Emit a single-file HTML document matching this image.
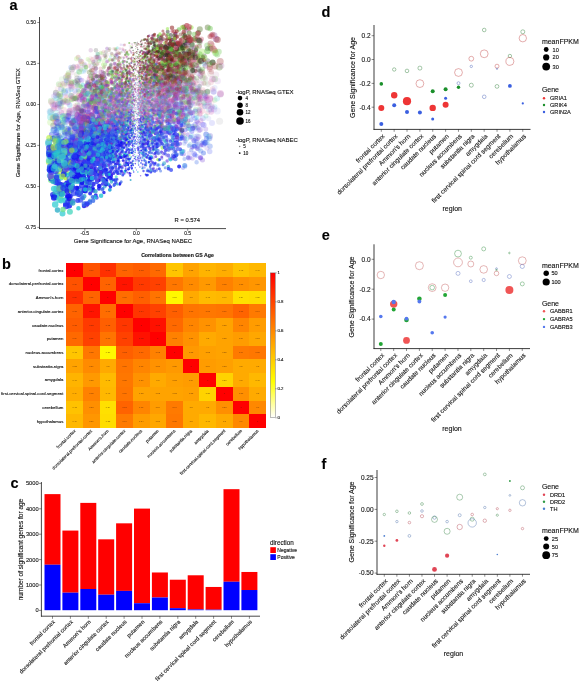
<!DOCTYPE html>
<html lang="en">
<head>
<meta charset="utf-8">
<title>Gene significance for age</title>
<style>
html,body{margin:0;padding:0;background:#fff;}
body{width:580px;height:685px;overflow:hidden;}
svg{display:block;font-family:"Liberation Sans", sans-serif;}
text{stroke:#1a1a1a;stroke-width:.13px;}
.ct text{stroke:none;}
.k0{stroke:#1212ee}.k1{stroke:#2030f0}.k2{stroke:#20c4d4}.k3{stroke:#2a3cf2}.k4{stroke:#2c4c1c}.k5{stroke:#303030}.k6{stroke:#30a8c8}.k7{stroke:#30b0c8}.k8{stroke:#3a6ae8}.k9{stroke:#4060e4}.k10{stroke:#40d0a0}.k11{stroke:#40d0d4}.k12{stroke:#507028}.k13{stroke:#50cce0}.k14{stroke:#50d8c0}.k15{stroke:#585868}.k16{stroke:#5a1c1c}.k17{stroke:#5cc040}.k18{stroke:#60c850}.k19{stroke:#6a3ce0}.k20{stroke:#70e090}.k21{stroke:#7c3c2c}.k22{stroke:#8a38c0}.k23{stroke:#904094}.k24{stroke:#90e440}.k25{stroke:#98ee40}.k26{stroke:#9a3030}.k27{stroke:#9a78e0}.k28{stroke:#b4f030}.k29{stroke:#b838a8}.k30{stroke:#b83c54}.k31{stroke:#e07898}.k32{stroke:#e08494}
</style>
</head>
<body>
<svg width="580" height="685" viewBox="0 0 580 685">
<rect width="580" height="685" fill="#ffffff"/>
<text x="9.60" y="9.80" font-size="14.5" font-weight="bold">a</text>
<text x="2.00" y="268.60" font-size="14.5" font-weight="bold">b</text>
<text x="10.60" y="487.60" font-size="14.5" font-weight="bold">c</text>
<text x="321.60" y="17.40" font-size="14.5" font-weight="bold">d</text>
<text x="321.80" y="240.00" font-size="14.5" font-weight="bold">e</text>
<text x="321.50" y="468.60" font-size="14.5" font-weight="bold">f</text>
<defs><filter id="sb" x="-5%" y="-5%" width="110%" height="110%"><feGaussianBlur stdDeviation="0.35"/></filter></defs>
<g fill="none" stroke-linecap="round" filter="url(#sb)">
<path class="k18" opacity=".4" stroke-width="1.5" d="M134.0 99.5h0M134.4 123.2h0M134.8 100.4h0M134.5 104.4h0M139.0 111.2h0M137.1 121.3h0M139.7 115.9h0M133.7 97.0h0M133.3 124.0h0M133.6 94.4h0M132.8 97.7h0M135.6 118.9h0M133.9 110.3h0"/>
<path class="k17" opacity=".3" stroke-width="1.5" d="M138.2 51.7h0M140.0 90.8h0M139.0 82.3h0"/>
<path class="k8" opacity=".6" stroke-width="4.5" d="M175.4 158.9h0M98.1 147.6h0M83.7 161.8h0M96.7 175.7h0M87.3 138.9h0M87.8 145.0h0M172.6 146.0h0M94.7 148.8h0M83.7 170.4h0M87.3 145.2h0M98.1 157.0h0M94.0 154.7h0M91.5 146.2h0M86.5 157.9h0"/>
<path class="k26" opacity=".5" stroke-width="3.5" d="M164.2 52.2h0M164.5 51.0h0M172.9 60.3h0M163.8 53.3h0M166.0 64.0h0M111.5 79.2h0M158.9 41.2h0M171.4 49.4h0M164.2 65.5h0"/>
<path class="k17" opacity=".3" stroke-width="1" d="M136.4 79.8h0"/>
<path class="k3" opacity=".8" stroke-width="3" d="M117.0 179.3h0M113.7 173.5h0M108.9 173.0h0M122.8 175.1h0"/>
<path class="k14" opacity=".4" stroke-width="2.5" d="M149.6 128.9h0"/>
<path class="k23" opacity=".2" stroke-width="5" d="M194.4 78.8h0M200.8 76.5h0"/>
<path class="k0" opacity=".6" stroke-width="3.5" d="M108.8 164.5h0M100.3 153.9h0M162.1 144.1h0M110.6 162.6h0M104.5 154.6h0M102.8 171.3h0M109.6 156.8h0M108.5 155.6h0M105.9 144.4h0M101.5 160.0h0M113.2 148.2h0M103.8 163.2h0M108.0 149.0h0M112.3 146.9h0M108.6 149.0h0M165.5 150.4h0M109.1 147.8h0M110.9 147.3h0M110.6 136.9h0M109.3 148.8h0M100.8 149.6h0M115.1 144.9h0M108.2 140.1h0M100.4 144.1h0M111.7 154.9h0M102.5 147.4h0M110.4 138.6h0M113.0 158.0h0M100.0 148.5h0M106.5 165.0h0M106.7 181.1h0M115.8 159.1h0M96.3 150.7h0M110.3 144.4h0M157.4 144.1h0M114.7 138.3h0M103.2 156.8h0"/>
<path class="k5" opacity=".4" stroke-width="2.5" d="M146.3 77.9h0M153.4 54.8h0M160.4 46.8h0M149.3 62.0h0M157.5 62.7h0M154.8 47.4h0M145.8 72.3h0M147.4 74.9h0M153.4 65.5h0M147.9 71.8h0M150.2 69.8h0M145.8 74.7h0M148.1 68.3h0M148.8 82.0h0"/>
<path class="k0" opacity=".3" stroke-width="1.5" d="M137.8 109.2h0"/>
<path class="k7" opacity=".7" stroke-width="7.5" d="M49.9 155.6h0"/>
<path class="k29" opacity=".4" stroke-width="4" d="M95.1 121.1h0M172.3 115.5h0M94.9 101.4h0M108.1 118.1h0M99.8 116.4h0M180.8 75.9h0M173.4 112.5h0M89.8 114.4h0M93.3 101.4h0M90.1 122.1h0M100.3 93.2h0M104.6 112.3h0M102.2 111.1h0M94.5 127.1h0M101.4 114.3h0M98.0 96.6h0M96.9 123.6h0M99.2 99.8h0M101.8 124.7h0M171.3 131.3h0M107.3 101.7h0M101.8 94.2h0M173.5 76.7h0M90.5 120.9h0M104.0 113.2h0M100.4 127.1h0M93.5 99.5h0M182.7 75.4h0M102.9 91.3h0M168.3 121.0h0M173.7 80.0h0M94.8 110.7h0M95.8 124.7h0M99.3 76.7h0M166.9 110.4h0M96.9 100.2h0M109.3 112.7h0M91.7 120.5h0M102.9 126.9h0M98.4 111.7h0M170.2 117.0h0M104.5 100.3h0"/>
<path class="k5" opacity=".3" stroke-width="4" d="M87.3 83.1h0M170.9 91.7h0M181.0 81.5h0"/>
<path class="k14" opacity=".4" stroke-width="1.5" d="M133.9 128.7h0"/>
<path class="k17" opacity=".6" stroke-width="2" d="M143.9 59.2h0M127.6 66.2h0M129.2 43.1h0"/>
<path class="k6" opacity=".7" stroke-width="3" d="M118.3 162.5h0M159.0 160.1h0"/>
<path class="k25" opacity=".4" stroke-width="2" d="M130.6 117.4h0"/>
<path class="k0" opacity=".7" stroke-width="6" d="M70.5 152.7h0M69.2 182.9h0M72.7 178.5h0M53.8 180.6h0M51.4 160.7h0M68.6 163.5h0M64.0 174.3h0"/>
<path class="k19" opacity=".2" stroke-width="5.5" d="M202.5 124.6h0"/>
<path class="k12" opacity=".6" stroke-width="4.5" d="M202.9 57.2h0"/>
<path class="k15" opacity=".2" stroke-width="6" d="M72.0 69.5h0M68.0 78.0h0M65.8 77.5h0"/>
<path class="k6" opacity=".6" stroke-width="1" d="M135.3 151.9h0"/>
<path class="k30" opacity=".2" stroke-width="5" d="M77.4 83.2h0"/>
<path class="k32" opacity=".4" stroke-width="4" d="M106.3 85.6h0M177.8 62.3h0M96.4 95.5h0M167.1 57.3h0M170.8 68.5h0M107.7 83.8h0M172.1 67.2h0"/>
<path class="k22" opacity=".6" stroke-width="3.5" d="M112.8 141.2h0"/>
<path class="k15" opacity=".4" stroke-width="2" d="M142.2 113.6h0M141.4 115.4h0M141.3 121.3h0M131.7 123.6h0M131.7 114.7h0M129.5 91.4h0M143.1 116.9h0M127.9 96.8h0M129.7 95.8h0M130.1 97.6h0M131.1 116.2h0M129.9 92.3h0M131.0 120.2h0M140.6 125.5h0M132.5 123.9h0M127.5 94.8h0M139.9 93.1h0M130.7 87.7h0M130.3 121.0h0M129.2 94.9h0M143.5 75.4h0M142.6 116.9h0M131.4 89.4h0M145.6 116.0h0M130.8 91.8h0M143.4 110.9h0"/>
<path class="k8" opacity=".5" stroke-width="1" d="M136.8 143.5h0M136.0 133.9h0M136.4 138.5h0"/>
<path class="k0" opacity=".3" stroke-width="5.5" d="M51.6 134.6h0M76.0 128.7h0M76.0 124.8h0M69.4 131.9h0M76.9 134.6h0M78.1 132.6h0M70.5 130.1h0"/>
<path class="k4" opacity=".5" stroke-width="3" d="M152.9 38.0h0M153.9 66.4h0M156.7 47.9h0M155.5 73.6h0M154.6 42.7h0M153.3 36.0h0"/>
<path class="k5" opacity=".4" stroke-width="1" d="M137.4 42.2h0M137.1 43.2h0M136.6 61.7h0M136.4 58.5h0"/>
<path class="k11" opacity=".7" stroke-width="6" d="M49.8 175.4h0M49.1 152.7h0M50.5 160.9h0M50.4 161.6h0"/>
<path class="k27" opacity=".2" stroke-width="3.5" d="M106.9 48.8h0"/>
<path class="k4" opacity=".5" stroke-width="1" d="M136.0 56.2h0"/>
<path class="k11" opacity=".5" stroke-width="5" d="M63.4 142.1h0M64.0 142.6h0"/>
<path class="k12" opacity=".2" stroke-width="3" d="M116.8 53.5h0"/>
<path class="k31" opacity=".2" stroke-width="4" d="M93.1 62.4h0M104.3 55.9h0"/>
<path class="k0" opacity=".8" stroke-width="5.5" d="M80.9 181.6h0M69.3 205.7h0M80.6 177.9h0M77.4 176.6h0M72.3 180.7h0M76.8 173.3h0M72.2 186.7h0M70.2 203.2h0M79.1 194.2h0"/>
<path class="k18" opacity=".4" stroke-width="4.5" d="M175.7 82.5h0M82.2 98.4h0M93.8 116.7h0M83.8 116.9h0M173.0 112.1h0M89.4 121.7h0M96.4 101.1h0M94.5 98.2h0M99.3 117.9h0M91.3 90.7h0M95.8 95.8h0M178.6 77.1h0M95.9 90.4h0M97.1 102.5h0"/>
<path class="k5" opacity=".2" stroke-width="5.5" d="M199.1 90.3h0M71.7 83.8h0M207.5 91.5h0"/>
<path class="k8" opacity=".3" stroke-width="3.5" d="M171.3 136.0h0"/>
<path class="k1" opacity=".2" stroke-width="6" d="M54.6 104.5h0M60.8 96.0h0"/>
<path class="k11" opacity=".7" stroke-width="7" d="M56.0 159.8h0M52.3 165.8h0"/>
<path class="k31" opacity=".3" stroke-width="1" d="M136.0 108.9h0M136.8 108.0h0"/>
<path class="k21" opacity=".5" stroke-width="5.5" d="M198.3 32.8h0"/>
<path class="k24" opacity=".4" stroke-width="1.5" d="M138.0 58.3h0M138.3 58.3h0M138.5 71.9h0"/>
<path class="k3" opacity=".6" stroke-width="5" d="M79.3 168.2h0M82.5 168.6h0M72.5 176.0h0M81.3 147.4h0M88.1 144.9h0M86.2 149.3h0M78.8 147.7h0M79.9 142.9h0M82.0 166.5h0M83.8 145.3h0M88.6 156.0h0"/>
<path class="k24" opacity=".3" stroke-width="5" d="M190.3 96.9h0M182.5 73.4h0M88.7 95.1h0M186.5 89.6h0"/>
<path class="k8" opacity=".2" stroke-width="6" d="M206.3 134.7h0"/>
<path class="k23" opacity=".6" stroke-width="4" d="M168.4 45.8h0M169.6 47.0h0M166.9 48.8h0"/>
<path class="k18" opacity=".3" stroke-width="1" d="M136.9 106.0h0"/>
<path class="k18" opacity=".2" stroke-width="5.5" d="M77.3 104.9h0M63.2 101.9h0M196.5 92.7h0M197.2 97.7h0M77.5 108.4h0M76.5 114.0h0M74.9 81.9h0M207.7 91.6h0M214.7 100.1h0M195.7 109.4h0"/>
<path class="k27" opacity=".4" stroke-width="4" d="M96.5 118.5h0M101.0 94.3h0M184.2 113.7h0M96.8 102.7h0M97.9 102.4h0M88.3 114.0h0M170.5 133.4h0M90.1 114.0h0M165.9 119.9h0M106.7 96.8h0M103.0 112.7h0M96.6 76.5h0M98.2 120.3h0M94.2 120.6h0M183.6 112.6h0M97.8 123.6h0M93.0 127.2h0M102.1 79.8h0M97.9 111.2h0M96.4 95.0h0M94.0 77.8h0M100.5 103.3h0M105.4 104.2h0M102.8 116.6h0M107.8 96.5h0M167.0 111.6h0M88.4 82.1h0M99.7 98.0h0M88.9 111.4h0"/>
<path class="k30" opacity=".6" stroke-width="3.5" d="M166.7 35.8h0M166.9 47.7h0"/>
<path class="k20" opacity=".3" stroke-width="6.5" d="M54.9 116.6h0"/>
<path class="k12" opacity=".7" stroke-width="2" d="M146.3 48.6h0"/>
<path class="k30" opacity=".2" stroke-width="3.5" d="M115.5 55.8h0"/>
<path class="k32" opacity=".4" stroke-width="1" d="M137.1 82.7h0"/>
<path class="k6" opacity=".8" stroke-width="4" d="M91.8 168.0h0M106.5 173.9h0M101.9 174.5h0M87.4 204.2h0M90.8 186.0h0"/>
<path class="k8" opacity=".3" stroke-width="1.5" d="M138.3 107.8h0"/>
<path class="k31" opacity=".5" stroke-width="1.5" d="M135.0 88.9h0M132.5 89.3h0M134.9 85.0h0"/>
<path class="k0" opacity=".5" stroke-width="6" d="M65.8 139.9h0M61.6 144.8h0M69.3 148.7h0M58.7 149.8h0M71.3 140.3h0"/>
<path class="k18" opacity=".3" stroke-width="1.5" d="M139.6 104.1h0M138.5 98.9h0M134.6 105.4h0M138.4 109.2h0M138.3 106.5h0M138.6 96.6h0M139.7 104.0h0M138.2 109.3h0M137.7 103.2h0M138.7 100.0h0M133.9 111.8h0M140.5 110.2h0M139.3 100.1h0"/>
<path class="k3" opacity=".5" stroke-width="4.5" d="M73.0 144.9h0M98.0 133.0h0M83.6 148.3h0M180.3 138.5h0M99.0 148.9h0M93.2 130.2h0M81.9 142.3h0M173.6 132.1h0M94.4 146.9h0M98.0 131.8h0M97.9 140.4h0M80.2 134.8h0M80.5 138.8h0"/>
<path class="k12" opacity=".5" stroke-width="1" d="M136.2 78.7h0M135.5 58.1h0M136.8 45.4h0"/>
<path class="k2" opacity=".5" stroke-width="3.5" d="M115.8 155.4h0M96.6 130.6h0M102.7 143.1h0M110.6 136.3h0M111.8 149.9h0M109.8 158.5h0M110.0 140.6h0M102.6 152.2h0M109.0 141.1h0M169.9 132.5h0"/>
<path class="k2" opacity=".7" stroke-width="4" d="M106.9 172.3h0M94.7 159.8h0M102.5 172.3h0M99.6 173.3h0"/>
<path class="k5" opacity=".3" stroke-width="2" d="M145.8 39.6h0M144.0 89.1h0"/>
<path class="k0" opacity=".8" stroke-width="2" d="M128.6 169.3h0M130.2 175.7h0M129.7 173.1h0M130.5 173.5h0M129.3 173.1h0M131.5 165.7h0M128.2 164.8h0"/>
<path class="k6" opacity=".7" stroke-width="4" d="M104.7 186.4h0M90.0 200.5h0M92.2 179.7h0"/>
<path class="k27" opacity=".4" stroke-width="2" d="M131.6 84.3h0M142.5 97.5h0M130.9 114.7h0M142.6 119.0h0M128.3 111.3h0M128.0 112.4h0M130.5 111.0h0M126.8 100.6h0M129.0 92.9h0M140.3 86.9h0M133.1 112.3h0M142.8 133.6h0M126.9 96.3h0M140.7 130.2h0M129.3 93.6h0M132.4 102.5h0M130.1 118.1h0M131.2 96.7h0M127.5 77.5h0M129.9 90.6h0M144.8 110.9h0M133.3 99.5h0M128.9 114.5h0M129.9 109.7h0"/>
<path class="k9" opacity=".3" stroke-width="5.5" d="M68.3 115.7h0M195.8 138.8h0M209.6 138.4h0"/>
<path class="k13" opacity=".2" stroke-width="3.5" d="M117.5 56.0h0M114.1 60.3h0M114.7 58.0h0M99.8 60.1h0"/>
<path class="k2" opacity=".5" stroke-width="2.5" d="M145.2 150.4h0M148.3 132.3h0M152.4 144.9h0M121.3 134.9h0M149.2 146.7h0M123.7 127.3h0M122.9 136.5h0M151.6 132.8h0M147.5 132.6h0M127.9 139.1h0M148.4 131.9h0M126.8 154.8h0M122.6 139.0h0M125.9 132.5h0M123.8 136.8h0M122.4 130.5h0M125.2 134.3h0M124.5 126.9h0"/>
<path class="k9" opacity=".2" stroke-width="6" d="M197.7 88.5h0M210.1 136.0h0M68.4 90.6h0M61.1 89.0h0M202.9 118.3h0"/>
<path class="k1" opacity=".6" stroke-width="7.5" d="M50.5 169.6h0"/>
<path class="k16" opacity=".5" stroke-width="2" d="M141.6 40.5h0M147.8 91.8h0M144.3 48.7h0M144.6 54.4h0M147.3 39.6h0"/>
<path class="k24" opacity=".3" stroke-width="1" d="M136.6 85.1h0"/>
<path class="k28" opacity=".8" stroke-width="5" d="M65.9 178.1h0"/>
<path class="k27" opacity=".3" stroke-width="4.5" d="M192.5 158.6h0M179.5 86.8h0M186.8 80.0h0M77.1 121.5h0M182.9 110.8h0M177.1 137.7h0M192.8 103.0h0M187.6 129.0h0M176.2 94.0h0M186.6 104.7h0M181.5 83.3h0M180.9 102.5h0M179.0 103.7h0M179.1 98.5h0M80.3 108.9h0M80.5 80.0h0M193.9 128.0h0M187.9 94.1h0M95.8 106.4h0"/>
<path class="k8" opacity=".4" stroke-width="3.5" d="M161.6 123.4h0M173.5 122.7h0M104.5 120.3h0M173.9 122.6h0M163.0 119.8h0M103.8 128.8h0M111.3 122.4h0M165.6 154.2h0M102.9 123.7h0M171.4 157.8h0M162.2 111.2h0M168.9 140.0h0M171.1 131.7h0"/>
<path class="k5" opacity=".6" stroke-width="1" d="M136.7 67.4h0M136.4 51.6h0M135.9 46.2h0"/>
<path class="k0" opacity=".7" stroke-width="5" d="M88.1 188.0h0M63.9 185.0h0M84.2 168.2h0M78.2 153.1h0M86.0 165.8h0M88.8 171.0h0M69.7 162.8h0M74.2 177.0h0M69.2 165.0h0M83.4 160.1h0M88.7 158.8h0M79.7 179.5h0M70.8 164.9h0M77.3 163.9h0M69.2 199.0h0M83.1 159.1h0M88.6 163.0h0M74.7 158.8h0M71.9 169.8h0M85.9 168.5h0"/>
<path class="k22" opacity=".3" stroke-width="2" d="M145.1 96.7h0M142.5 102.0h0M143.5 105.0h0M140.8 107.3h0M143.5 91.2h0M145.2 83.1h0M126.1 106.3h0M140.0 95.2h0M143.5 107.3h0M139.8 93.0h0M144.8 97.8h0M143.5 110.0h0M142.6 92.4h0M141.6 86.8h0M145.0 86.4h0M141.8 92.3h0M132.3 101.4h0M144.3 95.8h0M141.7 104.0h0M131.0 109.1h0M140.9 85.8h0M131.3 107.2h0M142.6 93.1h0M145.2 91.5h0M140.7 91.3h0M144.6 89.4h0M127.7 101.9h0M143.2 101.0h0M144.1 83.9h0M144.8 89.5h0M140.3 97.5h0M141.3 89.1h0"/>
<path class="k29" opacity=".5" stroke-width="3" d="M155.1 133.8h0M117.7 85.8h0M123.3 76.4h0M159.5 126.5h0M116.6 74.1h0M155.7 129.0h0"/>
<path class="k17" opacity=".6" stroke-width="1.5" d="M135.1 69.6h0M133.9 62.5h0"/>
<path class="k17" opacity=".3" stroke-width="6" d="M207.2 45.5h0M207.3 51.3h0M218.8 51.8h0M217.3 54.5h0"/>
<path class="k5" opacity=".6" stroke-width="1.5" d="M133.6 66.8h0M135.0 64.2h0M137.8 49.6h0M139.0 72.7h0"/>
<path class="k5" opacity=".2" stroke-width="4" d="M105.9 51.9h0"/>
<path class="k13" opacity=".4" stroke-width="2" d="M132.3 114.9h0M143.8 114.3h0M142.2 116.2h0M131.4 110.7h0M144.2 132.8h0M143.4 112.7h0M141.8 118.1h0M143.4 90.8h0M129.5 127.5h0M128.8 86.5h0M130.2 113.0h0M145.3 113.8h0M128.1 121.1h0M130.0 121.8h0M129.6 83.5h0M130.8 95.2h0M139.7 112.6h0M128.2 119.8h0M141.2 91.3h0M142.9 97.4h0M141.4 89.9h0M128.7 81.8h0M143.5 122.1h0M126.7 118.5h0"/>
<path class="k0" opacity=".7" stroke-width="4" d="M96.1 155.4h0M94.7 177.1h0M97.0 155.8h0M88.5 151.6h0M93.6 170.6h0M176.0 155.5h0M92.1 159.7h0M87.1 164.5h0M91.3 151.1h0M88.0 179.5h0M106.8 154.5h0M98.8 174.5h0M106.6 174.8h0M105.6 152.0h0M94.9 156.6h0M109.0 160.3h0M93.3 164.5h0"/>
<path class="k12" opacity=".6" stroke-width="1" d="M135.9 42.8h0M136.6 53.4h0"/>
<path class="k3" opacity=".1" stroke-width="5.5" d="M194.5 136.6h0"/>
<path class="k20" opacity=".2" stroke-width="6.5" d="M61.0 100.9h0"/>
<path class="k29" opacity=".3" stroke-width="5.5" d="M79.2 97.7h0M74.9 127.3h0M73.2 121.6h0"/>
<path class="k16" opacity=".5" stroke-width="3" d="M161.0 44.5h0M152.4 51.6h0M154.8 45.5h0M161.9 66.9h0M171.7 50.8h0"/>
<path class="k2" opacity=".4" stroke-width="5.5" d="M85.1 120.0h0"/>
<path class="k31" opacity=".3" stroke-width="5" d="M185.8 93.8h0M72.3 126.5h0M189.2 104.7h0M72.8 122.8h0M77.2 126.5h0"/>
<path class="k21" opacity=".3" stroke-width="2" d="M142.7 87.0h0M127.4 109.7h0"/>
<path class="k23" opacity=".4" stroke-width="4.5" d="M186.4 30.6h0M172.4 66.2h0M178.5 49.6h0M84.6 91.0h0M177.0 55.0h0M193.7 60.9h0M89.2 84.2h0M179.3 53.4h0M175.0 61.5h0M182.9 46.3h0M175.0 59.4h0M175.9 79.5h0M179.0 73.5h0M178.6 75.4h0M180.9 65.6h0"/>
<path class="k12" opacity=".4" stroke-width="6" d="M207.7 27.4h0M199.8 29.2h0"/>
<path class="k17" opacity=".6" stroke-width="3" d="M161.1 52.3h0M156.3 40.9h0"/>
<path class="k0" opacity=".2" stroke-width="5.5" d="M195.1 124.8h0M194.0 153.7h0"/>
<path class="k31" opacity=".1" stroke-width="3" d="M117.1 52.4h0M113.6 60.0h0"/>
<path class="k17" opacity=".3" stroke-width="2.5" d="M147.0 97.7h0M120.7 58.2h0M143.8 89.2h0M145.5 87.3h0"/>
<path class="k15" opacity=".3" stroke-width="3" d="M112.0 105.2h0M158.7 93.8h0M158.3 104.7h0M165.8 91.7h0M151.6 94.6h0M162.7 94.8h0M153.1 95.6h0M113.1 105.1h0M148.2 88.1h0M108.7 106.7h0M157.0 95.2h0M154.2 106.0h0M153.3 90.8h0M152.2 109.5h0M150.9 103.8h0M116.9 110.5h0"/>
<path class="k32" opacity=".4" stroke-width="2.5" d="M120.8 63.9h0M151.2 71.4h0M126.5 57.3h0M128.6 86.9h0M146.9 83.3h0"/>
<path class="k8" opacity=".3" stroke-width="4.5" d="M196.6 162.2h0M203.2 141.6h0M188.9 145.7h0M79.2 125.2h0M196.9 144.3h0M180.2 138.9h0M78.2 128.3h0M78.5 132.2h0"/>
<path class="k31" opacity=".1" stroke-width="4" d="M107.1 54.4h0"/>
<path class="k12" opacity=".5" stroke-width="2.5" d="M125.8 70.3h0M120.6 86.5h0M153.8 55.4h0M150.5 56.9h0M144.3 65.4h0M126.9 61.9h0M149.6 50.2h0M157.7 46.5h0M126.8 78.5h0M145.4 53.3h0M125.3 54.7h0M148.4 69.8h0M149.2 60.0h0"/>
<path class="k15" opacity=".1" stroke-width="4.5" d="M73.8 66.0h0"/>
<path class="k16" opacity=".5" stroke-width="2.5" d="M158.3 70.4h0"/>
<path class="k24" opacity=".1" stroke-width="2" d="M129.7 53.7h0"/>
<path class="k12" opacity=".4" stroke-width="4.5" d="M176.9 61.5h0M180.5 67.0h0M171.4 75.3h0M91.9 89.6h0M174.1 81.2h0M189.9 62.8h0M187.1 58.8h0M180.2 71.9h0M96.9 87.9h0"/>
<path class="k8" opacity=".5" stroke-width="6.5" d="M67.7 146.0h0"/>
<path class="k20" opacity=".6" stroke-width="6" d="M53.5 154.6h0M50.2 146.3h0M53.5 138.2h0M63.8 171.7h0M53.5 152.7h0"/>
<path class="k5" opacity=".5" stroke-width="2" d="M131.4 62.7h0M131.0 73.1h0M143.2 68.5h0M144.0 66.6h0M142.4 61.3h0M143.4 63.2h0M146.9 52.0h0M131.3 63.0h0M142.2 57.9h0M144.8 57.6h0M130.9 65.9h0M147.6 54.0h0M133.2 70.1h0M147.4 56.9h0M143.6 62.6h0M144.0 68.9h0"/>
<path class="k11" opacity=".5" stroke-width="6.5" d="M59.3 142.4h0M60.0 143.2h0"/>
<path class="k19" opacity=".6" stroke-width="6.5" d="M56.4 178.6h0"/>
<path class="k8" opacity=".3" stroke-width="2.5" d="M150.9 105.2h0M149.9 139.2h0"/>
<path class="k26" opacity=".4" stroke-width="3" d="M151.8 71.7h0M153.6 61.0h0M158.6 75.9h0M154.0 69.9h0M153.6 78.4h0M150.9 74.6h0M152.8 76.7h0M118.6 60.4h0M157.4 67.7h0M159.8 62.9h0M160.7 76.0h0M154.2 62.1h0M155.9 75.3h0M158.9 44.3h0M155.6 79.7h0M121.2 79.8h0M156.0 83.2h0M163.1 71.2h0M162.4 73.4h0M157.5 63.1h0"/>
<path class="k6" opacity=".6" stroke-width="3.5" d="M110.4 143.7h0M156.4 139.4h0M112.9 167.8h0M156.1 149.4h0M106.8 153.7h0M95.0 144.8h0M102.2 150.8h0M114.9 157.2h0M166.8 144.5h0M111.9 147.0h0M105.7 143.8h0M115.9 139.2h0"/>
<path class="k25" opacity=".6" stroke-width="3" d="M153.5 148.7h0M114.5 149.6h0M157.6 159.4h0"/>
<path class="k22" opacity=".4" stroke-width="3.5" d="M170.0 115.1h0M112.9 127.0h0M105.0 95.3h0M171.4 109.6h0M167.6 111.5h0M109.6 101.2h0M162.7 110.3h0M167.0 117.4h0M114.0 97.2h0M111.3 123.5h0M115.3 126.2h0M112.5 113.1h0M110.5 103.0h0M170.9 83.2h0M172.6 111.1h0M169.0 113.5h0M160.8 85.5h0M104.9 100.4h0M157.5 118.9h0M111.6 99.5h0M111.8 124.7h0M163.6 112.8h0M161.7 113.1h0M115.8 96.5h0M169.4 120.9h0M114.6 93.3h0M168.2 77.9h0M105.0 129.0h0M100.1 100.2h0M101.4 115.1h0M113.5 119.4h0M108.1 93.3h0M173.7 122.0h0M105.8 84.1h0M160.8 125.9h0M170.5 114.2h0M102.3 98.2h0M161.7 85.9h0M113.4 110.1h0M159.0 112.4h0M158.4 111.7h0M105.5 78.1h0M101.9 111.7h0M112.6 97.3h0M97.3 125.1h0M101.9 93.5h0M112.0 116.2h0M157.0 114.7h0M158.4 88.0h0M116.5 89.5h0M161.8 111.9h0M107.6 89.5h0M102.8 86.9h0M101.8 94.5h0M162.3 117.4h0M165.6 70.5h0M162.6 111.5h0"/>
<path class="k32" opacity=".6" stroke-width="2.5" d="M152.5 35.9h0"/>
<path class="k19" opacity=".2" stroke-width="4" d="M180.5 150.0h0"/>
<path class="k14" opacity=".4" stroke-width="5" d="M87.0 122.6h0"/>
<path class="k2" opacity=".5" stroke-width="4.5" d="M83.2 127.5h0M89.7 137.5h0M89.4 132.1h0M86.4 150.4h0M89.2 134.3h0M83.7 126.1h0M92.7 144.2h0M85.0 135.4h0M173.8 143.0h0M88.3 133.3h0M102.2 132.5h0"/>
<path class="k29" opacity=".4" stroke-width="1" d="M136.6 119.9h0M136.2 97.6h0M137.2 118.4h0M136.2 92.7h0M135.6 91.1h0M135.8 92.6h0M136.1 101.0h0M135.7 88.5h0M136.8 122.2h0M136.5 120.1h0M135.9 92.3h0"/>
<path class="k4" opacity=".5" stroke-width="3.5" d="M169.8 64.5h0M160.8 40.0h0"/>
<path class="k0" opacity=".2" stroke-width="6" d="M203.4 144.4h0M203.6 125.0h0M68.6 116.5h0"/>
<path class="k25" opacity=".7" stroke-width="1.5" d="M132.4 163.0h0"/>
<path class="k31" opacity=".5" stroke-width="3.5" d="M102.4 127.1h0M161.0 130.3h0M105.8 125.7h0M106.3 124.4h0M116.2 86.4h0"/>
<path class="k32" opacity=".4" stroke-width="4.5" d="M180.0 81.0h0M173.1 72.3h0M173.2 78.8h0M172.1 59.4h0M86.4 86.4h0M91.9 93.8h0M183.9 29.3h0M192.5 55.5h0M100.0 75.6h0M176.2 68.4h0"/>
<path class="k27" opacity=".1" stroke-width="2" d="M129.5 46.0h0"/>
<path class="k28" opacity=".8" stroke-width="6" d="M60.3 198.4h0"/>
<path class="k19" opacity=".2" stroke-width="5" d="M190.1 137.4h0"/>
<path class="k24" opacity=".5" stroke-width="1" d="M136.2 74.5h0"/>
<path class="k17" opacity=".1" stroke-width="5" d="M73.0 96.5h0M203.6 74.9h0"/>
<path class="k32" opacity=".1" stroke-width="4.5" d="M90.7 57.9h0"/>
<path class="k29" opacity=".3" stroke-width="7" d="M56.0 121.8h0"/>
<path class="k17" opacity=".1" stroke-width="4.5" d="M95.5 60.8h0"/>
<path class="k17" opacity=".5" stroke-width="2" d="M139.8 75.8h0M129.4 80.1h0M143.0 56.3h0M144.8 68.4h0M127.9 71.8h0M127.2 73.4h0M140.6 80.7h0M133.1 79.6h0"/>
<path class="k5" opacity=".3" stroke-width="4.5" d="M193.4 66.8h0M183.3 78.4h0M187.3 87.4h0M184.6 76.9h0M92.6 73.4h0M185.9 82.4h0"/>
<path class="k27" opacity=".4" stroke-width="1.5" d="M131.4 99.2h0M138.9 121.9h0M135.5 111.8h0M138.5 91.0h0M133.0 117.9h0M131.8 84.9h0M134.7 93.9h0M132.6 93.1h0M139.3 109.2h0M138.4 113.3h0M137.3 62.6h0M132.8 124.4h0M137.9 79.7h0M133.9 125.4h0M133.5 96.1h0"/>
<path class="k25" opacity=".5" stroke-width="3" d="M110.5 133.3h0M118.4 131.4h0M122.9 135.5h0"/>
<path class="k23" opacity=".5" stroke-width="2" d="M132.0 72.7h0M131.2 83.3h0M143.7 56.6h0M129.7 74.8h0M129.4 81.7h0M131.9 73.0h0M133.3 74.9h0M132.8 73.9h0M128.3 79.2h0M130.1 71.5h0M143.4 58.2h0M140.6 67.5h0M141.2 69.1h0M143.9 68.0h0M143.0 57.2h0M129.8 64.4h0M130.2 72.4h0M146.2 62.7h0"/>
<path class="k6" opacity=".5" stroke-width="2.5" d="M120.8 137.8h0M126.6 145.1h0M124.6 137.9h0M146.9 133.2h0M143.8 129.9h0M120.7 139.3h0M125.2 125.3h0M147.6 136.0h0M150.6 135.1h0M122.3 149.9h0M147.7 136.0h0M123.7 135.0h0M149.0 131.5h0M144.7 145.3h0M146.8 137.6h0"/>
<path class="k13" opacity=".3" stroke-width="4" d="M174.3 87.2h0M162.7 96.3h0M167.0 104.8h0M174.8 101.9h0M170.8 94.8h0M165.9 99.4h0M108.0 106.0h0M179.1 106.5h0M179.9 107.5h0M169.6 106.6h0M176.5 90.2h0"/>
<path class="k19" opacity=".4" stroke-width="3" d="M115.6 121.3h0M151.3 122.9h0M155.8 126.5h0M118.4 123.8h0M157.0 129.5h0M116.6 131.6h0M111.4 123.1h0M109.4 124.3h0M112.7 116.7h0"/>
<path class="k4" opacity=".5" stroke-width="4.5" d="M194.7 54.3h0M179.8 56.6h0"/>
<path class="k20" opacity=".8" stroke-width="7" d="M51.4 179.4h0"/>
<path class="k2" opacity=".7" stroke-width="2" d="M130.9 153.1h0M130.1 150.2h0M142.8 152.9h0"/>
<path class="k29" opacity=".3" stroke-width="3" d="M157.5 105.8h0M154.8 104.0h0M116.1 108.1h0M153.3 104.5h0M151.7 105.7h0M152.8 93.4h0M153.1 92.0h0M156.8 106.4h0M154.5 80.3h0M158.9 88.1h0M151.4 99.8h0M159.8 109.8h0M158.7 97.0h0M161.2 101.7h0M153.7 89.3h0M120.4 107.6h0M151.6 98.5h0M121.9 105.8h0M154.5 106.7h0M156.9 104.8h0M154.1 106.8h0M156.2 101.6h0M154.3 109.0h0M162.4 103.9h0M149.8 95.4h0M113.1 107.8h0M159.5 88.8h0M152.2 96.6h0M159.8 91.0h0M154.0 110.3h0M155.7 90.6h0M156.6 103.9h0M161.6 105.2h0M156.1 99.1h0M151.7 95.3h0M164.0 99.8h0M151.4 93.6h0M119.5 103.8h0"/>
<path class="k5" opacity=".2" stroke-width="3.5" d="M111.6 53.6h0"/>
<path class="k32" opacity=".6" stroke-width="1.5" d="M133.5 60.3h0"/>
<path class="k24" opacity=".6" stroke-width="4" d="M175.8 35.9h0"/>
<path class="k26" opacity=".4" stroke-width="1.5" d="M134.2 84.5h0M140.3 83.0h0M139.6 78.9h0M138.2 62.6h0M138.8 62.7h0"/>
<path class="k22" opacity=".4" stroke-width="2.5" d="M153.9 112.8h0M144.1 86.5h0M122.9 110.4h0M124.9 94.9h0M148.5 116.6h0M119.7 101.4h0M121.4 115.1h0M143.8 127.4h0M123.7 92.6h0M123.2 94.8h0M153.4 115.4h0M148.2 81.2h0M123.9 114.7h0M126.1 113.1h0M149.1 111.0h0M120.4 126.8h0M124.9 93.7h0M124.3 104.4h0M127.7 91.0h0M124.4 103.8h0M146.1 90.5h0M148.3 118.2h0M147.1 87.0h0M119.5 93.7h0M120.5 117.2h0M125.0 111.9h0M150.0 120.0h0M124.7 96.4h0M118.2 101.1h0M121.8 98.2h0M145.2 94.1h0M128.7 110.0h0M153.1 110.1h0M147.4 92.0h0M128.5 94.6h0M127.6 95.8h0M123.1 120.0h0M155.8 114.2h0M146.4 82.8h0M122.3 92.0h0M123.1 113.4h0M127.1 92.4h0M146.7 78.8h0M144.2 99.5h0M146.6 118.8h0M125.4 110.0h0M124.7 118.4h0M124.9 115.4h0M148.7 95.3h0M122.2 96.7h0M120.2 100.4h0M118.4 112.6h0M120.9 96.9h0M152.6 111.7h0M125.4 109.4h0M123.6 94.8h0M122.5 109.4h0M122.8 121.8h0M145.7 118.6h0M124.9 109.4h0M155.8 75.2h0M125.9 103.9h0"/>
<path class="k31" opacity=".4" stroke-width="3" d="M161.0 114.2h0M119.6 90.1h0M160.2 117.6h0M117.6 87.0h0M156.4 83.9h0M115.3 99.8h0M120.9 94.1h0M116.4 99.1h0M112.2 109.9h0M114.1 95.9h0M116.6 118.1h0M119.0 84.6h0M117.6 120.6h0M157.4 75.5h0M156.9 84.8h0M152.7 118.6h0M121.7 92.1h0M116.9 125.0h0M148.7 117.6h0M123.4 113.9h0M156.1 122.3h0M122.5 85.6h0M110.8 97.7h0M160.8 126.9h0M161.8 79.9h0M116.6 102.0h0M148.8 120.8h0M153.9 125.0h0"/>
<path class="k25" opacity=".5" stroke-width="2.5" d="M151.2 141.1h0M119.5 129.1h0M123.0 126.0h0"/>
<path class="k17" opacity=".3" stroke-width="2" d="M126.7 53.5h0M142.6 98.6h0M125.3 55.0h0"/>
<path class="k21" opacity=".5" stroke-width="3.5" d="M159.8 67.3h0M167.8 60.2h0M162.9 65.4h0M162.1 55.3h0M160.4 45.7h0M162.3 52.0h0M102.3 84.4h0M157.6 67.1h0"/>
<path class="k26" opacity=".3" stroke-width="2" d="M140.4 96.6h0M139.8 44.6h0M140.0 87.7h0M141.5 83.8h0M129.7 50.2h0"/>
<path class="k30" opacity=".3" stroke-width="2.5" d="M118.7 57.1h0M147.2 82.0h0M149.3 83.1h0M146.3 92.2h0M147.4 103.7h0"/>
<path class="k12" opacity=".5" stroke-width="4.5" d="M184.2 53.0h0"/>
<path class="k13" opacity=".2" stroke-width="6.5" d="M50.2 112.8h0M64.7 91.2h0"/>
<path class="k4" opacity=".5" stroke-width="2.5" d="M154.1 51.4h0M153.7 45.2h0M147.1 71.9h0M151.4 67.6h0M149.5 70.6h0M151.1 59.4h0M157.9 65.9h0"/>
<path class="k30" opacity=".4" stroke-width="4" d="M163.7 74.0h0M175.3 75.1h0M175.4 75.1h0M163.8 66.6h0M176.2 55.6h0M167.6 79.4h0M97.4 94.1h0M172.0 80.6h0"/>
<path class="k14" opacity=".6" stroke-width="5" d="M78.1 147.6h0M77.6 153.1h0"/>
<path class="k3" opacity=".5" stroke-width="1" d="M135.5 127.8h0"/>
<path class="k7" opacity=".5" stroke-width="5.5" d="M62.2 149.0h0"/>
<path class="k8" opacity=".2" stroke-width="4.5" d="M184.3 143.6h0M185.1 166.8h0"/>
<path class="k21" opacity=".2" stroke-width="5" d="M205.5 62.4h0M193.1 82.5h0M193.2 89.3h0"/>
<path class="k9" opacity=".4" stroke-width="6" d="M205.7 142.8h0"/>
<path class="k0" opacity=".7" stroke-width="2" d="M132.6 161.3h0M131.9 168.3h0M129.5 159.6h0M145.7 174.5h0M131.8 168.8h0M141.2 150.7h0M132.2 152.8h0M127.7 169.2h0M129.8 167.6h0M128.9 169.3h0M130.8 162.5h0M128.2 165.2h0M131.4 152.5h0"/>
<path class="k3" opacity=".8" stroke-width="1.5" d="M133.3 165.4h0"/>
<path class="k32" opacity=".5" stroke-width="2.5" d="M126.9 81.1h0M124.0 61.6h0M122.3 79.0h0M148.9 54.0h0M151.2 52.0h0M126.7 75.1h0M123.0 69.6h0M122.9 78.1h0"/>
<path class="k32" opacity=".2" stroke-width="5" d="M77.9 68.1h0M66.2 96.1h0"/>
<path class="k15" opacity=".3" stroke-width="5" d="M182.8 90.5h0M179.2 90.2h0M79.6 121.3h0M74.4 121.0h0"/>
<path class="k31" opacity=".3" stroke-width="4.5" d="M85.4 109.1h0M189.5 89.0h0M181.8 103.7h0M185.7 103.0h0M75.9 118.4h0M190.4 96.0h0M188.7 112.2h0M172.2 90.6h0M188.8 110.1h0M174.1 82.6h0M175.1 97.6h0M176.3 92.8h0M175.8 84.2h0M181.1 92.0h0"/>
<path class="k23" opacity=".5" stroke-width="5" d="M183.0 42.8h0"/>
<path class="k2" opacity=".7" stroke-width="6" d="M66.5 161.5h0M52.1 165.9h0M65.5 156.0h0"/>
<path class="k24" opacity=".4" stroke-width="5" d="M185.1 57.0h0"/>
<path class="k15" opacity=".2" stroke-width="3.5" d="M115.7 49.4h0M114.8 55.3h0"/>
<path class="k17" opacity=".4" stroke-width="5.5" d="M199.8 54.0h0M191.6 41.6h0M210.1 28.4h0M192.0 44.5h0"/>
<path class="k16" opacity=".6" stroke-width="4.5" d="M178.2 55.9h0M183.8 58.0h0"/>
<path class="k18" opacity=".5" stroke-width="2" d="M130.7 77.7h0M131.6 81.2h0M142.2 125.3h0M129.9 130.1h0M140.1 130.8h0M140.1 130.6h0M131.7 131.2h0M141.5 133.4h0M130.8 73.9h0M142.2 127.1h0M131.6 82.8h0M131.9 133.1h0M139.6 136.6h0M128.6 81.1h0"/>
<path class="k15" opacity=".4" stroke-width="2.5" d="M123.1 60.8h0M149.2 128.5h0M121.5 92.5h0M124.1 93.1h0M126.1 114.6h0M126.5 104.4h0M121.8 95.7h0M143.0 119.8h0M128.0 96.2h0M148.6 120.5h0M122.1 102.2h0M149.0 114.3h0M121.0 118.1h0M125.8 81.8h0M127.0 97.8h0M145.0 95.8h0M128.5 100.9h0M121.5 87.0h0M147.1 81.9h0M145.2 113.9h0M127.6 89.3h0M127.6 117.8h0M144.9 113.3h0M126.5 89.7h0M126.9 104.2h0M124.0 93.1h0M119.1 100.3h0M121.1 113.3h0M148.6 119.5h0M154.5 77.7h0M147.7 111.3h0"/>
<path class="k6" opacity=".6" stroke-width="6" d="M70.3 168.0h0"/>
<path class="k6" opacity=".6" stroke-width="2.5" d="M143.3 152.3h0M153.0 150.5h0M144.7 143.4h0M122.7 149.9h0"/>
<path class="k31" opacity=".4" stroke-width="1.5" d="M133.9 113.7h0M133.4 97.6h0M131.8 115.1h0M138.7 108.5h0M133.9 87.8h0M134.5 101.9h0M132.6 120.1h0M134.0 125.7h0M138.3 118.9h0M139.8 86.2h0M134.0 96.7h0M139.3 72.0h0M139.6 112.9h0M133.2 121.3h0M133.9 112.0h0M138.5 89.5h0M138.9 98.3h0M137.1 113.5h0M139.7 93.5h0M134.2 119.5h0M133.3 95.6h0M139.1 125.2h0M133.2 123.6h0M139.4 110.7h0M131.4 103.8h0M139.8 82.2h0M138.7 115.8h0"/>
<path class="k0" opacity=".5" stroke-width="4" d="M99.1 132.6h0M165.2 132.0h0M98.7 131.5h0M98.6 128.3h0M109.0 125.0h0M101.2 136.6h0M100.7 131.7h0M99.0 149.8h0M92.9 134.9h0M98.6 135.7h0M176.9 142.3h0M99.3 135.1h0M102.3 146.8h0M181.3 124.9h0M97.6 140.1h0M97.1 135.5h0M94.7 146.4h0M103.5 138.6h0M101.6 133.3h0M168.8 146.3h0M168.4 132.0h0M104.2 138.3h0M166.3 141.6h0M168.3 155.6h0M90.0 147.0h0M96.1 131.9h0M106.8 131.0h0M90.5 128.0h0M88.1 129.3h0M94.5 145.1h0M89.7 131.7h0M175.6 131.2h0M175.2 143.1h0M176.7 137.1h0M95.8 129.0h0M87.2 127.3h0M106.8 135.1h0M101.9 135.5h0M168.4 127.8h0M167.1 127.9h0M89.1 136.7h0M98.6 140.4h0M85.7 146.0h0M106.9 140.6h0M106.4 146.2h0M88.2 146.7h0M106.2 133.2h0M106.6 144.1h0M101.1 130.4h0M92.6 155.6h0M104.2 135.9h0"/>
<path class="k19" opacity=".3" stroke-width="4.5" d="M187.7 134.4h0M197.9 138.7h0M183.7 154.3h0M178.4 107.7h0"/>
<path class="k18" opacity=".4" stroke-width="3" d="M162.8 75.4h0M152.9 109.8h0M116.2 122.5h0M153.4 70.9h0M114.8 113.0h0M109.9 114.0h0M158.5 121.8h0M121.6 112.1h0M117.1 94.1h0M117.0 116.9h0M115.4 114.1h0M117.4 125.8h0M119.2 128.7h0M116.1 99.7h0M152.1 113.2h0M161.5 123.5h0M120.5 119.6h0M120.6 121.0h0M119.7 112.5h0M121.0 122.7h0M123.4 114.0h0M112.2 88.5h0M119.0 109.3h0M121.2 98.6h0M120.2 116.8h0M123.3 123.1h0M114.1 96.2h0M118.6 113.2h0M112.8 118.6h0M119.0 93.7h0M116.3 112.3h0M155.0 115.0h0M122.9 90.8h0M152.8 118.3h0M153.5 95.1h0M120.0 110.5h0M115.8 118.8h0M153.2 76.8h0M120.1 113.4h0M161.8 72.1h0M112.5 95.7h0M115.5 123.5h0M118.1 112.7h0M157.7 113.4h0M160.1 84.8h0M114.8 86.9h0M159.0 121.4h0"/>
<path class="k7" opacity=".6" stroke-width="6" d="M56.7 155.8h0"/>
<path class="k28" opacity=".7" stroke-width="6" d="M63.8 168.4h0M65.9 172.6h0"/>
<path class="k14" opacity=".5" stroke-width="5" d="M89.7 148.8h0"/>
<path class="k2" opacity=".3" stroke-width="4" d="M188.4 128.8h0M89.3 107.4h0M171.1 108.4h0"/>
<path class="k14" opacity=".8" stroke-width="6" d="M69.9 211.7h0"/>
<path class="k24" opacity=".6" stroke-width="3" d="M150.9 59.9h0"/>
<path class="k6" opacity=".6" stroke-width="5" d="M84.4 173.9h0M81.8 145.9h0M85.5 143.3h0M83.3 154.1h0M70.0 148.3h0"/>
<path class="k22" opacity=".6" stroke-width="4.5" d="M96.7 136.7h0"/>
<path class="k9" opacity=".5" stroke-width="2.5" d="M126.2 85.1h0M147.4 137.0h0M149.8 148.1h0M152.5 138.1h0M118.5 131.0h0M126.2 125.3h0M125.6 83.6h0M151.3 160.9h0"/>
<path class="k25" opacity=".5" stroke-width="4" d="M179.6 134.1h0"/>
<path class="k0" opacity=".3" stroke-width="6" d="M76.3 119.6h0M67.5 128.8h0M68.2 133.1h0M67.4 120.4h0"/>
<path class="k3" opacity=".3" stroke-width="2.5" d="M147.9 101.2h0M125.6 109.8h0"/>
<path class="k15" opacity=".3" stroke-width="6" d="M55.9 92.8h0"/>
<path class="k9" opacity=".4" stroke-width="4.5" d="M95.7 96.2h0M92.0 98.2h0M86.6 86.1h0M178.7 115.6h0M87.7 84.4h0M99.1 111.9h0M85.7 95.0h0M180.1 113.3h0M94.6 127.4h0M87.0 123.9h0M98.8 125.0h0M171.8 117.1h0M101.2 103.5h0M172.1 114.5h0M87.9 120.8h0M82.5 97.6h0M187.9 157.4h0M182.0 110.3h0M175.8 154.5h0M178.7 118.3h0"/>
<path class="k24" opacity=".1" stroke-width="2.5" d="M122.0 75.7h0"/>
<path class="k8" opacity=".3" stroke-width="5.5" d="M188.4 125.4h0M206.0 134.2h0M57.5 126.2h0M66.6 119.1h0M76.7 131.1h0M210.0 146.2h0M76.1 130.1h0"/>
<path class="k2" opacity=".6" stroke-width="2" d="M143.5 155.6h0M130.4 158.8h0M129.1 149.2h0M141.3 152.9h0M142.7 158.1h0M128.6 156.9h0M129.0 139.7h0"/>
<path class="k8" opacity=".3" stroke-width="3" d="M149.7 144.4h0M158.8 151.8h0M157.2 104.4h0"/>
<path class="k23" opacity=".3" stroke-width="2.5" d="M145.7 88.1h0M147.6 97.4h0M145.0 79.9h0"/>
<path class="k18" opacity=".5" stroke-width="5" d="M83.2 132.4h0M87.8 133.4h0M80.2 132.3h0M88.5 135.0h0M82.2 136.1h0"/>
<path class="k14" opacity=".7" stroke-width="1" d="M136.7 156.0h0"/>
<path class="k1" opacity=".5" stroke-width="6" d="M57.8 138.9h0"/>
<path class="k22" opacity=".1" stroke-width="6" d="M213.8 79.3h0"/>
<path class="k9" opacity=".4" stroke-width="1.5" d="M133.0 89.0h0M133.0 95.2h0M134.0 79.0h0M138.2 127.2h0M135.2 127.2h0M134.0 120.7h0M132.5 109.6h0M138.5 118.7h0M138.1 118.8h0M139.8 93.8h0M134.6 89.9h0M134.1 96.7h0M137.9 118.9h0M137.6 78.6h0M133.9 96.0h0M133.5 103.6h0M133.9 99.9h0"/>
<path class="k5" opacity=".7" stroke-width="1.5" d="M139.9 52.7h0M134.4 58.7h0"/>
<path class="k0" opacity=".3" stroke-width="5" d="M74.4 127.7h0M68.6 129.5h0M73.9 119.9h0M72.5 123.3h0M64.2 132.1h0M78.5 119.6h0M70.5 137.2h0M70.1 120.0h0M71.3 135.5h0M79.5 128.9h0M75.5 128.8h0M74.3 136.2h0M75.8 123.6h0M185.5 119.6h0"/>
<path class="k31" opacity=".2" stroke-width="7" d="M56.4 104.1h0"/>
<path class="k15" opacity=".4" stroke-width="3.5" d="M102.3 83.0h0M105.7 85.8h0M117.1 85.3h0M107.6 91.4h0M168.7 80.3h0M169.3 110.0h0M165.6 121.5h0M161.5 80.3h0M113.3 121.2h0M161.3 82.8h0M161.1 114.7h0M162.0 78.1h0M163.7 127.4h0M111.8 109.3h0M160.4 116.9h0M109.4 97.1h0"/>
<path class="k22" opacity=".2" stroke-width="4.5" d="M194.6 104.3h0M77.9 111.3h0M79.0 105.1h0"/>
<path class="k24" opacity=".1" stroke-width="5.5" d="M70.3 100.3h0"/>
<path class="k30" opacity=".6" stroke-width="2.5" d="M148.5 46.5h0M147.1 39.8h0"/>
<path class="k10" opacity=".3" stroke-width="1" d="M135.6 109.9h0"/>
<path class="k23" opacity=".2" stroke-width="1" d="M137.1 42.9h0"/>
<path class="k18" opacity=".3" stroke-width="4.5" d="M189.3 104.3h0M184.3 99.4h0M81.7 86.9h0M96.9 109.1h0M185.5 80.6h0M188.5 100.1h0M185.6 88.0h0M181.1 97.9h0M93.4 107.9h0M192.7 98.8h0M175.7 107.3h0M181.5 102.4h0M187.4 83.4h0M188.3 95.6h0M186.2 101.7h0M92.9 107.1h0M86.6 106.3h0M97.4 106.6h0"/>
<path class="k28" opacity=".3" stroke-width="6" d="M65.5 132.5h0M64.9 115.9h0"/>
<path class="k27" opacity=".3" stroke-width="3" d="M152.3 105.0h0M117.0 55.8h0M162.1 108.1h0M162.0 106.9h0M115.2 105.4h0M149.4 96.0h0M155.6 101.0h0M119.0 103.4h0M158.4 106.9h0M151.4 104.9h0M162.5 89.0h0M155.4 96.4h0M148.9 91.3h0M152.8 101.6h0M159.7 102.5h0M160.3 94.6h0M158.5 138.8h0M157.0 101.2h0M149.4 99.9h0M121.0 105.0h0M158.8 85.7h0M155.2 103.9h0M121.1 108.0h0M151.6 95.2h0"/>
<path class="k5" opacity=".7" stroke-width="3.5" d="M179.1 54.1h0"/>
<path class="k17" opacity=".5" stroke-width="4.5" d="M178.9 29.6h0"/>
<path class="k24" opacity=".3" stroke-width="5.5" d="M199.6 60.0h0"/>
<path class="k28" opacity=".3" stroke-width="5.5" d="M62.5 123.4h0M59.7 125.2h0M58.5 135.8h0M64.9 129.4h0"/>
<path class="k10" opacity=".4" stroke-width="4.5" d="M84.7 122.6h0M90.7 115.6h0M85.0 126.3h0M82.1 91.7h0M84.4 89.2h0M95.9 99.3h0M91.1 94.0h0M81.8 117.1h0"/>
<path class="k24" opacity=".4" stroke-width="2.5" d="M146.8 87.4h0M149.9 74.9h0"/>
<path class="k31" opacity=".5" stroke-width="5" d="M80.3 134.1h0M84.1 129.2h0"/>
<path class="k25" opacity=".4" stroke-width="2.5" d="M124.5 124.5h0M127.6 130.2h0"/>
<path class="k24" opacity=".5" stroke-width="4.5" d="M191.4 27.4h0"/>
<path class="k18" opacity=".3" stroke-width="3" d="M154.1 100.7h0M159.9 103.1h0M152.7 109.0h0M153.2 91.9h0M154.1 81.4h0M153.0 99.5h0M159.2 102.0h0M156.9 106.3h0M154.7 99.0h0M154.1 107.9h0M156.2 104.1h0M159.0 98.7h0M152.3 88.9h0M152.4 99.5h0M156.0 91.5h0M160.9 83.2h0M117.5 106.0h0M154.6 81.8h0M154.7 105.4h0M116.6 108.1h0M161.9 96.1h0M154.6 90.7h0M121.0 111.0h0M158.9 100.0h0M151.5 92.1h0M122.4 109.3h0"/>
<path class="k26" opacity=".6" stroke-width="4.5" d="M183.7 32.2h0M172.0 27.7h0"/>
<path class="k9" opacity=".1" stroke-width="5" d="M85.4 90.0h0M198.2 86.5h0M84.6 64.3h0"/>
<path class="k5" opacity=".2" stroke-width="6" d="M201.7 71.6h0"/>
<path class="k24" opacity=".4" stroke-width="4" d="M169.0 59.6h0M169.4 80.4h0M107.2 88.7h0M173.8 84.6h0M172.5 70.5h0"/>
<path class="k5" opacity=".5" stroke-width="3.5" d="M157.8 51.3h0M169.6 51.5h0M168.4 47.9h0M162.8 75.1h0M170.4 49.7h0M164.1 47.8h0M167.1 55.8h0M162.5 54.2h0M168.3 65.4h0M163.3 59.7h0M161.0 37.9h0M166.5 60.9h0"/>
<path class="k30" opacity=".5" stroke-width="1" d="M135.3 65.7h0"/>
<path class="k30" opacity=".3" stroke-width="5" d="M195.4 56.2h0M190.1 64.7h0M201.5 39.1h0M183.1 77.2h0"/>
<path class="k5" opacity=".6" stroke-width="2.5" d="M145.9 67.3h0M154.9 64.4h0M145.4 55.4h0M146.2 49.2h0M150.0 65.6h0M149.9 80.6h0M148.1 52.0h0"/>
<path class="k0" opacity=".8" stroke-width="6" d="M59.5 184.4h0M55.9 182.0h0M67.1 183.5h0M68.6 197.1h0M51.5 178.5h0"/>
<path class="k6" opacity=".5" stroke-width="5.5" d="M76.9 150.8h0M76.0 149.1h0M81.3 132.2h0"/>
<path class="k29" opacity=".5" stroke-width="1.5" d="M132.7 134.4h0M133.8 129.7h0M135.4 134.0h0M137.6 126.9h0"/>
<path class="k8" opacity=".8" stroke-width="6" d="M70.1 167.5h0"/>
<path class="k21" opacity=".5" stroke-width="5" d="M183.3 58.0h0"/>
<path class="k17" opacity=".4" stroke-width="1" d="M135.6 48.7h0"/>
<path class="k25" opacity=".6" stroke-width="2" d="M129.7 155.0h0"/>
<path class="k30" opacity=".2" stroke-width="6" d="M199.9 95.2h0"/>
<path class="k19" opacity=".6" stroke-width="5.5" d="M68.4 144.4h0M72.5 154.1h0M78.8 154.2h0M80.2 148.5h0"/>
<path class="k13" opacity=".2" stroke-width="3" d="M110.4 56.6h0"/>
<path class="k0" opacity=".6" stroke-width="4.5" d="M82.6 165.0h0M87.7 145.8h0M84.8 146.2h0M90.8 155.4h0M92.0 150.9h0M93.6 160.8h0M99.6 176.8h0M74.8 146.5h0M100.8 172.0h0M93.6 144.5h0M92.6 152.9h0M96.1 148.6h0M92.9 153.7h0M74.4 152.3h0M85.3 162.7h0M90.0 145.0h0M88.8 143.8h0M92.2 139.3h0M86.4 150.6h0M101.1 143.6h0M84.1 163.0h0M96.7 153.0h0M91.6 151.9h0M80.1 159.4h0M85.4 156.7h0M74.7 164.3h0M72.5 154.1h0M88.2 160.5h0"/>
<path class="k29" opacity=".3" stroke-width="6" d="M57.0 118.7h0M53.4 118.4h0M71.8 123.2h0"/>
<path class="k13" opacity=".5" stroke-width="3" d="M119.3 86.9h0M114.7 135.6h0M116.3 78.6h0M119.8 77.4h0M121.6 86.1h0M110.3 124.0h0"/>
<path class="k15" opacity=".5" stroke-width="3.5" d="M107.4 85.9h0M109.2 127.7h0"/>
<path class="k12" opacity=".6" stroke-width="1.5" d="M134.3 42.8h0M134.8 61.8h0"/>
<path class="k0" opacity=".6" stroke-width="2" d="M129.2 150.8h0M126.8 155.8h0M142.5 144.4h0M131.4 165.6h0M143.9 147.7h0M132.4 145.3h0M131.7 149.6h0M127.9 158.7h0M142.7 164.3h0M143.4 143.6h0M129.8 144.1h0M130.1 158.5h0M129.3 152.1h0M128.8 149.6h0M132.0 152.9h0M145.1 155.8h0M129.9 163.2h0M128.6 151.1h0M141.8 160.4h0M142.2 154.4h0M131.9 163.2h0M140.8 147.1h0M144.3 144.3h0M129.8 149.9h0"/>
<path class="k7" opacity=".7" stroke-width="6" d="M64.7 162.9h0M66.0 188.9h0"/>
<path class="k32" opacity=".3" stroke-width="3.5" d="M104.5 66.7h0M115.8 105.3h0M170.5 83.2h0M168.0 92.4h0"/>
<path class="k2" opacity=".8" stroke-width="1.5" d="M137.9 172.0h0"/>
<path class="k12" opacity=".1" stroke-width="5.5" d="M76.7 74.4h0"/>
<path class="k9" opacity=".5" stroke-width="3.5" d="M161.4 126.7h0M107.0 134.4h0M163.0 136.0h0M104.0 86.2h0M169.6 158.8h0M160.8 131.0h0M161.5 130.3h0M103.1 127.9h0M106.8 127.0h0"/>
<path class="k4" opacity=".6" stroke-width="2" d="M141.7 50.7h0"/>
<path class="k25" opacity=".5" stroke-width="3.5" d="M104.4 136.3h0M102.7 136.8h0M159.5 135.3h0M111.9 138.1h0"/>
<path class="k30" opacity=".5" stroke-width="2.5" d="M148.7 44.1h0M125.8 81.7h0M122.2 73.1h0M149.5 60.9h0M154.4 42.2h0M148.0 52.9h0M127.6 66.1h0"/>
<path class="k17" opacity=".5" stroke-width="5" d="M181.5 43.6h0"/>
<path class="k29" opacity=".3" stroke-width="1.5" d="M140.9 104.7h0M138.2 89.9h0M138.3 93.1h0M139.8 92.5h0M134.4 106.0h0M133.4 98.9h0M138.9 88.8h0M137.3 102.6h0M139.5 106.1h0M133.9 108.1h0M140.3 109.0h0M134.2 106.8h0M138.7 108.8h0M134.1 104.8h0M140.0 102.5h0M140.2 101.7h0M138.0 92.0h0M139.7 83.8h0M140.3 109.7h0M139.2 106.9h0M137.4 96.2h0M134.3 100.7h0M141.0 105.9h0M138.8 89.2h0M137.9 99.3h0M139.2 104.2h0M133.2 112.2h0"/>
<path class="k15" opacity=".5" stroke-width="1.5" d="M138.9 128.3h0M133.5 73.9h0"/>
<path class="k0" opacity=".5" stroke-width="5" d="M80.2 140.7h0M86.7 142.7h0M87.0 148.4h0M82.4 139.4h0M91.6 143.8h0M77.1 137.7h0M83.4 131.3h0M83.8 142.9h0M85.6 147.1h0M80.1 138.2h0M87.6 144.5h0M82.2 135.6h0M83.5 137.6h0M85.0 143.5h0M77.1 144.6h0M84.4 140.2h0M82.1 146.8h0M83.6 139.8h0M83.0 134.9h0M78.5 138.2h0M74.4 138.2h0M82.5 144.0h0M80.0 151.1h0M87.4 154.5h0"/>
<path class="k15" opacity=".3" stroke-width="2" d="M130.9 101.5h0M130.6 48.0h0M125.6 50.1h0M142.3 88.4h0M143.0 93.1h0M140.6 93.5h0M142.7 100.6h0M146.4 108.8h0M142.5 107.1h0M145.9 109.2h0M142.2 89.0h0M143.0 101.5h0M143.6 101.3h0M141.7 106.1h0M144.3 98.8h0M143.0 108.9h0M142.2 103.6h0"/>
<path class="k21" opacity=".2" stroke-width="3.5" d="M109.1 50.6h0M105.9 57.3h0"/>
<path class="k21" opacity=".6" stroke-width="4.5" d="M179.5 54.7h0"/>
<path class="k9" opacity=".4" stroke-width="2" d="M144.2 159.1h0M147.1 121.1h0M139.7 113.3h0M128.1 89.6h0M126.8 124.3h0M144.1 122.1h0M127.2 93.6h0M127.8 90.6h0M125.9 128.8h0M132.6 116.1h0M127.8 89.8h0M131.4 120.2h0M142.6 112.7h0M131.7 102.1h0M141.0 84.6h0M130.9 80.3h0M130.5 123.4h0M141.2 113.4h0M144.3 154.5h0M140.7 113.7h0M144.4 95.7h0M141.1 93.4h0M143.5 143.3h0M144.7 73.2h0M127.7 123.6h0M127.5 119.7h0M142.2 116.9h0M139.7 124.7h0M142.5 70.7h0"/>
<path class="k31" opacity=".2" stroke-width="6" d="M202.5 110.8h0M67.4 75.5h0M59.7 114.4h0M199.4 97.1h0M202.6 90.3h0M52.7 104.6h0M63.9 110.0h0M72.5 109.9h0M54.7 106.6h0M70.5 83.3h0"/>
<path class="k13" opacity=".6" stroke-width="3.5" d="M162.9 139.3h0M158.9 164.9h0M165.9 141.3h0"/>
<path class="k25" opacity=".7" stroke-width="4" d="M98.5 171.0h0"/>
<path class="k3" opacity=".5" stroke-width="3" d="M157.5 135.8h0M152.9 141.6h0M151.5 126.6h0M120.1 139.7h0M122.6 142.6h0M119.9 143.4h0M156.8 129.9h0M118.5 142.4h0M114.4 135.7h0M112.1 138.2h0M122.4 128.7h0M116.9 136.0h0M155.5 134.1h0M118.3 129.2h0M119.6 141.7h0M114.6 136.5h0M108.7 137.6h0M120.7 123.2h0M112.5 136.8h0M122.7 126.5h0M152.5 140.6h0M118.5 141.9h0M157.2 132.5h0M156.5 170.3h0M112.8 137.1h0M156.3 131.0h0M120.9 143.7h0M156.2 131.5h0M154.9 140.1h0M108.6 143.3h0M158.3 139.1h0M155.5 138.1h0M161.4 151.7h0M117.8 142.0h0M160.7 130.6h0M117.8 130.0h0M159.0 135.3h0M159.8 132.0h0M153.8 131.4h0"/>
<path class="k2" opacity=".5" stroke-width="6" d="M70.1 143.0h0M52.0 156.6h0"/>
<path class="k15" opacity=".4" stroke-width="1.5" d="M138.3 112.7h0M138.3 72.4h0M135.2 111.8h0M133.4 57.6h0M140.7 118.0h0M134.2 117.9h0M139.9 122.9h0M134.2 53.4h0M137.9 118.4h0"/>
<path class="k19" opacity=".7" stroke-width="3.5" d="M108.4 165.5h0M101.7 167.1h0M102.3 154.9h0M98.2 160.5h0M102.3 171.2h0"/>
<path class="k25" opacity=".8" stroke-width="5" d="M70.0 190.9h0M70.5 200.6h0"/>
<path class="k23" opacity=".2" stroke-width="3.5" d="M107.0 48.2h0"/>
<path class="k1" opacity=".6" stroke-width="6" d="M52.8 138.8h0M57.9 155.8h0M62.8 149.0h0M64.2 170.5h0"/>
<path class="k11" opacity=".2" stroke-width="6" d="M55.7 97.9h0M62.8 116.0h0"/>
<path class="k12" opacity=".5" stroke-width="3" d="M115.5 67.6h0M153.7 74.9h0M152.9 53.8h0M161.9 60.9h0M151.4 51.2h0M167.9 63.3h0M154.3 67.6h0M151.6 65.1h0"/>
<path class="k7" opacity=".8" stroke-width="7" d="M55.2 196.4h0M53.7 180.7h0"/>
<path class="k19" opacity=".5" stroke-width="3" d="M121.9 136.9h0M119.9 127.8h0M118.7 141.7h0M112.9 151.7h0M159.6 140.3h0M111.8 143.4h0M157.4 128.0h0M115.4 137.1h0M114.4 133.5h0M115.9 140.0h0M156.4 153.0h0M161.5 143.6h0M152.3 129.8h0"/>
<path class="k22" opacity=".3" stroke-width="5" d="M73.7 98.7h0M189.1 102.9h0M86.7 106.6h0M188.8 107.6h0M183.2 88.1h0M180.5 90.0h0M188.9 110.3h0M185.6 107.5h0M73.3 124.5h0M182.7 96.9h0M182.9 112.3h0M76.9 115.0h0M77.2 114.4h0M189.3 98.9h0M79.5 115.8h0"/>
<path class="k18" opacity=".2" stroke-width="6" d="M71.1 95.8h0M202.7 78.0h0M68.8 112.8h0"/>
<path class="k11" opacity=".7" stroke-width="5" d="M65.5 168.6h0M65.6 158.1h0"/>
<path class="k27" opacity=".4" stroke-width="4.5" d="M174.9 112.6h0M180.5 120.7h0M96.2 111.7h0M96.6 119.1h0M100.6 87.6h0M97.5 115.7h0M82.5 121.2h0M90.3 100.2h0M95.1 80.6h0M183.2 115.3h0"/>
<path class="k5" opacity=".4" stroke-width="5" d="M191.4 47.6h0M192.1 44.5h0M192.1 57.3h0M186.8 54.3h0M185.1 37.7h0"/>
<path class="k31" opacity=".2" stroke-width="3" d="M117.4 50.4h0M115.0 67.7h0"/>
<path class="k22" opacity=".6" stroke-width="4" d="M100.6 146.5h0"/>
<path class="k9" opacity=".1" stroke-width="4" d="M97.8 56.4h0M84.2 71.9h0"/>
<path class="k27" opacity=".2" stroke-width="6" d="M54.1 96.3h0M67.9 101.9h0M53.4 105.6h0"/>
<path class="k2" opacity=".8" stroke-width="5" d="M81.6 175.1h0M71.8 172.8h0M85.1 165.3h0M66.7 174.9h0M84.3 167.1h0"/>
<path class="k22" opacity=".3" stroke-width="3.5" d="M158.1 91.7h0M175.5 96.2h0M154.7 99.9h0M114.7 104.8h0M158.0 103.9h0M165.6 87.3h0M162.0 100.6h0M162.7 107.3h0M111.7 109.7h0M169.0 96.2h0M166.5 102.1h0M169.8 91.3h0M114.2 107.9h0M160.2 96.5h0M157.0 99.7h0M111.6 108.3h0M166.5 96.3h0M161.0 87.1h0M156.8 88.2h0M167.8 95.9h0M156.2 91.7h0M163.3 85.9h0M162.7 93.8h0M162.4 95.5h0"/>
<path class="k18" opacity=".3" stroke-width="2" d="M131.0 108.9h0M130.2 99.9h0M140.5 95.0h0M145.3 101.1h0M128.7 108.6h0M140.7 106.9h0M142.9 102.4h0M143.9 96.6h0M130.7 107.4h0M141.9 102.7h0M140.6 104.9h0M143.2 97.2h0M141.7 108.9h0M132.2 107.5h0M143.5 98.8h0M130.3 109.4h0M144.8 97.1h0M141.5 101.0h0M143.4 93.8h0M143.7 102.0h0M141.4 108.1h0M128.8 108.3h0M129.1 107.1h0"/>
<path class="k25" opacity=".6" stroke-width="3.5" d="M115.5 155.0h0"/>
<path class="k0" opacity=".5" stroke-width="1" d="M136.4 137.4h0M135.7 124.4h0M136.9 130.2h0M136.2 141.5h0M135.6 131.4h0M137.2 147.4h0"/>
<path class="k4" opacity=".7" stroke-width="3.5" d="M168.8 55.5h0"/>
<path class="k23" opacity=".4" stroke-width="6.5" d="M216.1 38.9h0"/>
<path class="k27" opacity=".3" stroke-width="5" d="M81.2 80.2h0M185.2 96.5h0M189.0 101.7h0M205.7 129.1h0M184.7 90.5h0M188.6 97.9h0M185.2 100.0h0M181.5 99.4h0M189.5 85.7h0M199.0 130.4h0M82.0 80.2h0"/>
<path class="k30" opacity=".4" stroke-width="1" d="M137.0 71.0h0"/>
<path class="k3" opacity=".5" stroke-width="2.5" d="M125.1 136.1h0M152.9 118.9h0M149.6 136.2h0M127.4 133.8h0M124.0 157.0h0M120.4 149.1h0M122.5 147.9h0M143.5 133.0h0M146.4 135.2h0M149.1 135.5h0M151.8 135.3h0M123.1 125.7h0M126.5 139.0h0M126.5 135.0h0M121.8 144.8h0M123.4 153.2h0M148.3 134.2h0M125.3 136.4h0M123.6 132.3h0M152.7 147.3h0M125.1 134.0h0M125.1 138.5h0M125.6 139.4h0M143.4 143.6h0M151.1 131.3h0M122.5 150.9h0M123.4 136.8h0M149.3 152.4h0M126.6 132.2h0M146.5 130.2h0M123.6 138.0h0M143.5 134.6h0M144.0 140.0h0M148.4 138.8h0"/>
<path class="k9" opacity=".5" stroke-width="5" d="M73.8 137.5h0"/>
<path class="k13" opacity=".4" stroke-width="4.5" d="M185.3 109.6h0M101.6 102.0h0M175.8 114.5h0M94.0 120.9h0M92.6 94.1h0M86.8 122.5h0M86.8 120.7h0M82.8 84.7h0M87.2 93.3h0M99.3 90.3h0M93.1 115.1h0M100.3 114.8h0"/>
<path class="k0" opacity=".8" stroke-width="2.5" d="M146.7 175.3h0M118.7 168.4h0M119.7 184.6h0M127.3 164.6h0M126.6 163.5h0"/>
<path class="k1" opacity=".6" stroke-width="6.5" d="M49.2 151.7h0M60.1 168.8h0M62.0 161.0h0"/>
<path class="k19" opacity=".5" stroke-width="5" d="M86.3 133.0h0M81.3 134.5h0M81.6 138.2h0M75.6 142.9h0"/>
<path class="k23" opacity=".3" stroke-width="3.5" d="M158.3 92.1h0M102.5 71.3h0M169.5 91.9h0M111.2 65.0h0M165.5 83.3h0M160.6 88.3h0M106.8 61.8h0M112.2 59.6h0M167.7 94.0h0"/>
<path class="k27" opacity=".5" stroke-width="4.5" d="M97.2 126.1h0"/>
<path class="k21" opacity=".5" stroke-width="4" d="M169.7 51.9h0M183.3 49.2h0M165.0 60.1h0M167.0 58.9h0M163.3 57.7h0M169.5 63.2h0M171.6 57.2h0M163.1 39.0h0M169.2 43.4h0M173.1 45.5h0M178.2 45.5h0M191.0 58.6h0"/>
<path class="k17" opacity=".4" stroke-width="3.5" d="M112.9 93.2h0M99.6 79.1h0M169.2 76.6h0M104.3 90.5h0M154.9 80.3h0M162.5 81.5h0M158.7 82.1h0M115.4 92.7h0M102.0 79.4h0M168.5 66.6h0M172.9 82.9h0M170.7 79.5h0M158.0 80.8h0M168.2 77.5h0M159.0 80.5h0M165.0 64.4h0M168.4 71.1h0M164.8 75.1h0M163.5 68.5h0M159.2 76.6h0"/>
<path class="k8" opacity=".4" stroke-width="4" d="M170.2 122.8h0M167.9 149.5h0M182.0 138.2h0M93.0 115.9h0M101.1 128.9h0M106.0 126.9h0M169.6 114.0h0M165.7 110.9h0M105.4 133.2h0M171.3 127.1h0"/>
<path class="k23" opacity=".1" stroke-width="6.5" d="M215.9 74.8h0"/>
<path class="k13" opacity=".4" stroke-width="2.5" d="M151.7 158.3h0M124.5 113.4h0M118.7 88.3h0M122.9 117.6h0M127.9 96.9h0M122.9 111.6h0M146.9 120.9h0M127.7 89.2h0M123.7 113.6h0M122.6 123.0h0M147.2 110.7h0M123.3 97.7h0M145.5 126.4h0M122.6 114.3h0M126.6 103.2h0M128.1 118.9h0M122.8 97.8h0M127.7 120.8h0M147.9 115.1h0M151.5 118.4h0M125.4 101.4h0M157.6 132.7h0M126.4 118.7h0M122.8 103.1h0M124.2 109.6h0M122.0 99.3h0M122.8 102.7h0M124.4 128.2h0M121.7 94.0h0M128.3 127.2h0M145.1 121.0h0"/>
<path class="k10" opacity=".4" stroke-width="3.5" d="M161.0 78.7h0M110.8 118.2h0M114.1 95.1h0M110.8 90.6h0M159.3 122.1h0M101.0 91.3h0M111.1 96.6h0M107.9 121.3h0M105.9 87.4h0M104.0 91.8h0M110.4 95.6h0M116.0 99.3h0M102.1 91.9h0M101.1 86.2h0"/>
<path class="k2" opacity=".7" stroke-width="3" d="M151.5 156.8h0M121.5 155.8h0M112.3 180.2h0M111.6 180.0h0"/>
<path class="k29" opacity=".4" stroke-width="3" d="M114.8 114.2h0M121.1 92.7h0M154.9 92.8h0M115.0 102.3h0M154.1 111.2h0M156.1 113.6h0M116.8 93.4h0M115.7 132.4h0M118.6 92.7h0M120.3 122.0h0M120.9 125.9h0M118.1 100.3h0M112.1 124.6h0M152.9 75.5h0M153.7 84.9h0M121.4 100.0h0M118.2 110.7h0M122.5 120.4h0M153.6 112.4h0M122.5 101.2h0M108.8 121.0h0M116.2 118.2h0M120.3 113.4h0M157.9 79.2h0M165.2 109.7h0M119.6 116.6h0M111.4 117.8h0M120.1 103.5h0M108.3 85.7h0M160.3 122.9h0M153.7 74.0h0M152.9 86.6h0M114.7 122.4h0M154.6 110.8h0M159.9 116.3h0M114.5 115.4h0M158.3 112.5h0M151.9 117.4h0M150.7 72.0h0M116.7 103.7h0M123.7 101.6h0M156.8 82.8h0M110.3 125.9h0M110.4 103.4h0M161.6 115.8h0M156.6 120.6h0M117.1 100.7h0M154.6 111.7h0M119.6 94.1h0M118.2 97.9h0M121.9 91.1h0M121.4 131.1h0"/>
<path class="k11" opacity=".5" stroke-width="7" d="M48.5 143.5h0"/>
<path class="k13" opacity=".2" stroke-width="5.5" d="M61.1 103.4h0M77.5 84.2h0M70.0 105.6h0M81.6 71.4h0M70.4 95.4h0M198.7 148.9h0M214.8 107.0h0M207.5 142.3h0M78.8 71.5h0"/>
<path class="k26" opacity=".4" stroke-width="3.5" d="M166.5 71.0h0M167.0 71.0h0M158.5 80.4h0M162.9 78.2h0M175.3 69.3h0M164.1 71.1h0M156.4 77.1h0M162.7 85.9h0M160.4 63.3h0M164.5 78.0h0M160.4 83.2h0M168.7 68.1h0M166.8 74.5h0M159.5 77.5h0M159.3 82.6h0M158.9 77.3h0M101.4 75.6h0M162.4 68.8h0M163.5 71.9h0M165.5 61.8h0M160.9 66.5h0"/>
<path class="k31" opacity=".3" stroke-width="6" d="M71.9 124.3h0M56.9 118.5h0"/>
<path class="k11" opacity=".8" stroke-width="6.5" d="M55.2 204.5h0M56.6 188.5h0M60.5 177.5h0"/>
<path class="k20" opacity=".7" stroke-width="6" d="M59.2 168.3h0M61.6 192.0h0M57.3 161.7h0"/>
<path class="k23" opacity=".3" stroke-width="2" d="M142.0 44.1h0M141.5 46.5h0M141.4 98.1h0M142.2 91.3h0M143.5 39.7h0M144.3 84.4h0"/>
<path class="k9" opacity=".5" stroke-width="4" d="M172.8 135.8h0M176.6 129.3h0M103.6 130.1h0M168.4 148.9h0M106.1 134.8h0M168.6 150.1h0M90.5 133.7h0"/>
<path class="k0" opacity=".7" stroke-width="4.5" d="M98.4 158.3h0M90.9 160.5h0M90.6 166.7h0M78.4 173.1h0M82.6 163.8h0M96.6 157.8h0M90.9 171.1h0M86.8 167.5h0M89.8 163.0h0M101.0 167.9h0M78.4 157.6h0M87.9 149.5h0M93.2 156.0h0M78.2 179.3h0M76.6 172.0h0"/>
<path class="k31" opacity=".3" stroke-width="2" d="M139.5 96.2h0M132.3 103.3h0M130.1 103.4h0M131.2 106.9h0M143.4 101.1h0M130.6 105.5h0M145.3 91.0h0M145.7 108.4h0M142.9 94.0h0M131.3 111.3h0M146.5 110.4h0M132.2 108.6h0M129.8 102.0h0M141.3 106.1h0M141.8 100.0h0M144.7 95.1h0M146.0 91.1h0M142.7 98.3h0M140.7 88.9h0M143.6 91.0h0M145.9 101.2h0M142.7 100.2h0M129.6 107.4h0M130.4 101.7h0"/>
<path class="k3" opacity=".7" stroke-width="1" d="M136.4 170.0h0M135.5 159.0h0"/>
<path class="k31" opacity=".1" stroke-width="6" d="M65.1 85.7h0"/>
<path class="k30" opacity=".4" stroke-width="4.5" d="M181.1 62.7h0M179.1 71.7h0M172.8 66.9h0M87.4 85.9h0M179.4 82.3h0M179.3 89.1h0M91.0 80.9h0"/>
<path class="k32" opacity=".3" stroke-width="6.5" d="M211.9 45.4h0"/>
<path class="k19" opacity=".4" stroke-width="4" d="M108.3 129.0h0M101.6 128.4h0M106.2 126.3h0M104.7 132.8h0M90.9 131.1h0M88.8 121.8h0M94.4 123.5h0"/>
<path class="k24" opacity=".4" stroke-width="2" d="M130.2 81.6h0M141.4 60.2h0M140.8 69.5h0M141.2 75.1h0M128.5 91.4h0M127.7 92.9h0M141.6 76.9h0M140.0 76.2h0M145.1 75.2h0M144.7 69.3h0"/>
<path class="k0" opacity=".5" stroke-width="2.5" d="M146.9 126.9h0M125.0 131.0h0M124.8 128.8h0M119.6 127.8h0M147.5 140.7h0M125.4 135.6h0M126.8 150.6h0M124.1 132.0h0M123.1 135.7h0M125.6 140.0h0M150.4 132.7h0M145.4 148.4h0M122.3 151.5h0M145.7 132.8h0M146.4 139.4h0M124.3 136.0h0M127.0 138.7h0M149.3 131.9h0M144.9 139.4h0M127.5 155.2h0M124.9 139.3h0M123.4 138.8h0M147.7 130.4h0M128.3 136.2h0M151.6 128.5h0M121.9 135.6h0M120.7 136.8h0M124.8 142.6h0M125.6 126.5h0M124.4 135.7h0M126.7 137.5h0M149.3 136.9h0M126.3 133.9h0M127.1 130.8h0M148.7 141.5h0M124.2 141.8h0M126.3 139.0h0M128.0 141.9h0M125.6 155.8h0M125.2 126.7h0M146.5 142.8h0M151.0 148.3h0M152.5 138.7h0M143.8 132.3h0M122.9 135.3h0M128.0 148.7h0M126.5 149.3h0M125.6 124.8h0M125.2 129.3h0M125.0 133.4h0M123.3 128.0h0M146.2 129.9h0M126.8 132.6h0M152.3 130.7h0M122.8 145.1h0M124.7 127.3h0"/>
<path class="k8" opacity=".6" stroke-width="2" d="M141.8 141.9h0M144.6 160.6h0M140.3 142.4h0M131.0 141.0h0M127.0 160.6h0M142.7 130.4h0M140.8 146.3h0M144.1 152.5h0M140.5 158.5h0M143.7 141.3h0M140.6 147.4h0M140.6 145.6h0M144.5 150.7h0"/>
<path class="k30" opacity=".3" stroke-width="4" d="M92.8 77.9h0M178.6 91.3h0M166.4 86.3h0M174.1 97.7h0M184.6 73.7h0"/>
<path class="k15" opacity=".2" stroke-width="5" d="M193.5 78.0h0"/>
<path class="k0" opacity=".3" stroke-width="2" d="M129.9 112.1h0"/>
<path class="k19" opacity=".6" stroke-width="4" d="M103.1 152.4h0M167.0 145.0h0M172.5 158.4h0M102.3 147.3h0M176.1 145.2h0M103.4 153.0h0M90.0 166.8h0M99.5 159.7h0"/>
<path class="k16" opacity=".5" stroke-width="4" d="M168.0 55.3h0M172.0 60.8h0"/>
<path class="k21" opacity=".6" stroke-width="5" d="M183.8 27.1h0"/>
<path class="k2" opacity=".4" stroke-width="3.5" d="M175.1 128.4h0M159.6 112.3h0M106.0 130.8h0M107.9 109.3h0M103.7 114.4h0M172.5 126.2h0M174.8 125.5h0M110.6 125.8h0"/>
<path class="k7" opacity=".7" stroke-width="5.5" d="M62.6 159.3h0"/>
<path class="k20" opacity=".8" stroke-width="6" d="M51.5 176.8h0"/>
<path class="k29" opacity=".4" stroke-width="2" d="M144.2 122.3h0M139.9 82.3h0M145.3 115.3h0M141.1 119.0h0M140.7 117.0h0M130.1 123.3h0M131.3 97.6h0M130.1 98.2h0M127.6 125.7h0M142.7 115.9h0M131.2 114.4h0M142.8 110.0h0M130.4 109.5h0M133.0 116.8h0M140.2 119.3h0M140.8 76.4h0M131.7 101.0h0M141.9 113.2h0M131.1 100.0h0M147.1 96.9h0M145.3 116.1h0M142.4 90.6h0M130.0 96.7h0M143.9 111.3h0M141.4 127.8h0M141.9 112.1h0M129.2 98.0h0M144.1 113.1h0M130.6 122.3h0M128.4 96.1h0M129.7 93.5h0M140.5 118.7h0M140.7 120.1h0M140.2 111.8h0M143.6 114.7h0M131.6 110.9h0M126.5 90.8h0M142.0 112.0h0M141.3 119.7h0M130.5 117.9h0M129.1 116.2h0M145.5 115.6h0M129.6 119.8h0M144.3 113.8h0M129.7 123.4h0M142.9 133.5h0M132.1 112.0h0M143.3 85.0h0M139.4 108.8h0M140.1 110.0h0M145.3 81.9h0M128.5 125.6h0"/>
<path class="k2" opacity=".3" stroke-width="5.5" d="M72.9 117.5h0"/>
<path class="k26" opacity=".3" stroke-width="3.5" d="M163.4 84.1h0M162.3 91.2h0M160.8 103.5h0M157.9 94.3h0M164.3 84.0h0M164.9 89.7h0M163.4 84.7h0M162.7 89.9h0"/>
<path class="k18" opacity=".5" stroke-width="4.5" d="M82.8 130.5h0M96.3 83.3h0M98.9 81.0h0M96.7 126.3h0"/>
<path class="k9" opacity=".3" stroke-width="1" d="M135.9 108.0h0M136.7 95.8h0M136.5 94.2h0"/>
<path class="k26" opacity=".5" stroke-width="1.5" d="M139.4 72.1h0M135.0 64.1h0M134.0 61.4h0M139.4 70.6h0M139.3 56.3h0M131.8 57.3h0"/>
<path class="k7" opacity=".8" stroke-width="5.5" d="M57.5 209.9h0M57.0 175.0h0M65.3 185.3h0"/>
<path class="k3" opacity=".6" stroke-width="4.5" d="M99.4 152.7h0M87.8 156.7h0M86.6 153.9h0M88.1 170.3h0M99.1 153.8h0M93.4 157.8h0M90.7 176.1h0M93.7 156.0h0M85.9 147.3h0M91.8 179.5h0M78.9 153.0h0M92.6 158.8h0M92.2 158.2h0M79.2 154.1h0M87.1 161.9h0M95.8 147.9h0M89.1 160.4h0M91.9 151.9h0M92.2 150.5h0M78.8 154.1h0M92.2 143.2h0M102.5 168.5h0"/>
<path class="k27" opacity=".1" stroke-width="3.5" d="M108.4 49.0h0"/>
<path class="k30" opacity=".7" stroke-width="4" d="M163.0 46.3h0"/>
<path class="k29" opacity=".2" stroke-width="4.5" d="M195.0 85.1h0M197.0 121.7h0M77.6 107.4h0M198.1 104.3h0"/>
<path class="k18" opacity=".5" stroke-width="2.5" d="M123.9 134.0h0M147.1 140.0h0M124.9 88.4h0M149.0 130.6h0"/>
<path class="k19" opacity=".3" stroke-width="2" d="M143.7 144.8h0"/>
<path class="k6" opacity=".3" stroke-width="5" d="M78.6 127.8h0"/>
<path class="k29" opacity=".6" stroke-width="2.5" d="M154.4 140.9h0"/>
<path class="k4" opacity=".5" stroke-width="2" d="M145.9 60.2h0"/>
<path class="k22" opacity=".5" stroke-width="3" d="M116.9 137.2h0M154.9 130.1h0M113.4 130.5h0M120.4 145.1h0M121.4 138.4h0M116.3 129.2h0"/>
<path class="k1" opacity=".5" stroke-width="7" d="M56.5 141.8h0"/>
<path class="k26" opacity=".6" stroke-width="2" d="M143.7 52.9h0M150.4 82.8h0"/>
<path class="k2" opacity=".4" stroke-width="4" d="M178.5 128.6h0M98.7 111.0h0M94.8 125.0h0M172.0 114.5h0M101.6 129.3h0"/>
<path class="k19" opacity=".7" stroke-width="2.5" d="M149.5 158.4h0M120.8 152.7h0"/>
<path class="k26" opacity=".2" stroke-width="5" d="M203.7 92.0h0M202.5 72.4h0M78.1 57.2h0M203.9 83.3h0"/>
<path class="k25" opacity=".4" stroke-width="5" d="M76.8 136.1h0"/>
<path class="k17" opacity=".3" stroke-width="4" d="M170.4 89.3h0M103.6 67.4h0M168.4 94.3h0M181.3 89.2h0M174.4 78.6h0M94.0 63.9h0M171.1 76.9h0M165.7 79.6h0M105.2 64.6h0"/>
<path class="k31" opacity=".1" stroke-width="3.5" d="M116.0 55.0h0"/>
<path class="k1" opacity=".3" stroke-width="5.5" d="M57.0 136.2h0M64.9 135.0h0"/>
<path class="k12" opacity=".4" stroke-width="3.5" d="M171.0 73.9h0M161.6 58.5h0M160.1 84.8h0M106.0 104.0h0M156.2 69.7h0M162.4 65.9h0M111.9 89.6h0M164.5 79.6h0M169.5 64.1h0M158.6 68.7h0M160.4 65.6h0M113.9 82.7h0M164.8 78.7h0M173.4 64.3h0"/>
<path class="k27" opacity=".1" stroke-width="4" d="M87.3 80.7h0"/>
<path class="k12" opacity=".6" stroke-width="4" d="M170.4 75.4h0"/>
<path class="k6" opacity=".5" stroke-width="3.5" d="M107.7 142.1h0M106.1 131.9h0M159.3 134.0h0M158.3 132.1h0M111.5 150.3h0M99.6 134.4h0M107.5 137.0h0M162.9 127.6h0M108.2 142.6h0M108.3 125.2h0"/>
<path class="k26" opacity=".4" stroke-width="2" d="M146.0 70.3h0M130.0 84.1h0M148.2 71.6h0M141.6 72.0h0M141.5 88.9h0M143.2 71.4h0M141.9 72.8h0M145.8 72.2h0M145.4 67.5h0M143.1 83.5h0"/>
<path class="k5" opacity=".3" stroke-width="1" d="M137.0 90.2h0"/>
<path class="k19" opacity=".5" stroke-width="1.5" d="M135.4 142.6h0M139.9 143.5h0M137.7 139.4h0M134.4 138.2h0M135.0 142.6h0M132.5 141.9h0M139.4 128.7h0"/>
<path class="k15" opacity=".3" stroke-width="1.5" d="M132.5 105.5h0M139.0 84.3h0M137.8 93.7h0M137.6 91.3h0M139.9 100.4h0"/>
<path class="k3" opacity=".2" stroke-width="6" d="M67.7 115.9h0"/>
<path class="k26" opacity=".3" stroke-width="3" d="M151.1 82.8h0M159.6 90.9h0M159.3 94.9h0M157.8 96.1h0M153.8 94.3h0M155.3 84.9h0"/>
<path class="k23" opacity=".4" stroke-width="5" d="M188.0 53.8h0"/>
<path class="k14" opacity=".8" stroke-width="3" d="M120.1 164.7h0"/>
<path class="k31" opacity=".1" stroke-width="5.5" d="M75.8 93.5h0"/>
<path class="k10" opacity=".3" stroke-width="2.5" d="M118.1 107.1h0M127.1 104.9h0M146.4 91.3h0M147.8 96.7h0M122.3 106.9h0M146.3 102.4h0M122.0 107.0h0M121.5 105.6h0M148.2 101.4h0M125.1 101.6h0"/>
<path class="k15" opacity=".2" stroke-width="4.5" d="M87.2 82.0h0M199.7 85.9h0"/>
<path class="k21" opacity=".4" stroke-width="1.5" d="M139.8 61.8h0M137.2 56.9h0M135.3 89.5h0M135.3 99.0h0"/>
<path class="k6" opacity=".4" stroke-width="3" d="M115.7 132.0h0M118.5 130.0h0M109.1 127.0h0M154.3 122.1h0M161.3 127.2h0M108.3 114.4h0M120.7 124.7h0M122.0 132.3h0M152.1 131.0h0"/>
<path class="k3" opacity=".5" stroke-width="5" d="M84.3 132.1h0M85.2 150.3h0M77.8 139.8h0M67.7 142.6h0M69.1 153.1h0M80.8 139.8h0"/>
<path class="k17" opacity=".4" stroke-width="4" d="M178.4 69.8h0M167.9 83.0h0M109.4 96.5h0M94.4 89.0h0M172.0 68.9h0M175.5 73.7h0M179.9 56.5h0M164.8 77.1h0M172.8 73.2h0M166.0 77.6h0M173.9 74.1h0M104.4 72.9h0M96.5 76.4h0M172.3 50.5h0M171.6 71.5h0M174.5 71.0h0M168.9 79.5h0M173.2 79.8h0M171.1 75.4h0M99.6 92.8h0M168.8 68.9h0"/>
<path class="k25" opacity=".5" stroke-width="1.5" d="M138.4 131.8h0"/>
<path class="k12" opacity=".3" stroke-width="2" d="M147.0 93.5h0M143.0 46.9h0"/>
<path class="k8" opacity=".6" stroke-width="3" d="M117.0 169.5h0M115.9 154.7h0M155.1 144.3h0M155.9 150.4h0M118.5 158.7h0M111.2 146.0h0M151.2 169.3h0M151.9 143.4h0M112.2 142.2h0M119.8 165.8h0M118.8 144.9h0M119.6 155.4h0M155.8 152.8h0M158.1 150.2h0M117.5 145.6h0M115.9 142.4h0M156.2 147.8h0M116.8 137.3h0M113.6 166.2h0"/>
<path class="k8" opacity=".2" stroke-width="5" d="M196.6 141.7h0"/>
<path class="k13" opacity=".4" stroke-width="3" d="M120.9 117.5h0M159.5 114.6h0M116.7 111.6h0M155.7 111.0h0M111.1 125.3h0M119.6 121.0h0M121.3 118.4h0M156.7 124.6h0M122.2 130.9h0M122.3 83.2h0M160.3 153.3h0M108.1 113.3h0M151.3 110.4h0M115.5 121.0h0M119.6 119.5h0M110.1 94.8h0M159.4 119.5h0M114.4 121.6h0M156.3 79.5h0M153.4 82.7h0M116.7 97.6h0M117.7 102.5h0M165.0 111.8h0M151.8 85.7h0"/>
<path class="k3" opacity=".7" stroke-width="2.5" d="M150.2 166.4h0M124.3 173.6h0"/>
<path class="k27" opacity=".5" stroke-width="1.5" d="M135.1 84.0h0M133.0 79.5h0M135.3 76.3h0M135.2 128.6h0M134.9 88.2h0M132.5 125.3h0"/>
<path class="k16" opacity=".6" stroke-width="5" d="M187.5 40.6h0"/>
<path class="k2" opacity=".7" stroke-width="5.5" d="M71.9 159.9h0"/>
<path class="k27" opacity=".5" stroke-width="2.5" d="M122.2 77.4h0M156.9 168.9h0M124.2 83.1h0M126.1 70.1h0M128.2 126.2h0M119.0 78.3h0"/>
<path class="k25" opacity=".4" stroke-width="3.5" d="M107.6 129.2h0M166.0 129.3h0"/>
<path class="k0" opacity=".4" stroke-width="5.5" d="M81.1 124.2h0M80.5 116.6h0"/>
<path class="k14" opacity=".3" stroke-width="4.5" d="M186.2 126.5h0"/>
<path class="k23" opacity=".5" stroke-width="1.5" d="M134.9 68.9h0M135.4 78.4h0M137.7 64.4h0M138.8 58.3h0M139.5 60.6h0"/>
<path class="k24" opacity=".5" stroke-width="4" d="M103.1 78.8h0M164.8 43.1h0M176.6 50.4h0M170.6 47.5h0M175.3 64.4h0"/>
<path class="k11" opacity=".7" stroke-width="5.5" d="M50.0 152.9h0M63.7 163.5h0M64.0 154.9h0"/>
<path class="k5" opacity=".4" stroke-width="4" d="M183.6 53.1h0M93.0 79.4h0M165.6 78.2h0M185.2 62.1h0M176.3 52.7h0M101.7 78.0h0M170.7 69.8h0M168.0 78.4h0M170.2 59.3h0M188.7 43.2h0M170.6 62.7h0M164.9 76.5h0M177.2 84.1h0M184.5 58.8h0M170.4 54.3h0M169.2 71.1h0"/>
<path class="k0" opacity=".7" stroke-width="3" d="M116.8 156.1h0M159.3 168.7h0M107.6 173.7h0M112.8 168.2h0M121.2 167.2h0M111.2 156.3h0M121.4 157.4h0M116.8 163.7h0M153.0 162.7h0M150.8 172.0h0"/>
<path class="k30" opacity=".2" stroke-width="6.5" d="M209.9 64.3h0"/>
<path class="k14" opacity=".5" stroke-width="3" d="M115.8 136.6h0M156.1 137.4h0M117.0 130.8h0M121.6 142.5h0M152.3 137.6h0M116.7 141.7h0M148.8 133.6h0M151.9 132.6h0M111.3 139.9h0M113.1 146.7h0M153.0 130.7h0"/>
<path class="k0" opacity=".4" stroke-width="3.5" d="M104.6 125.4h0M115.8 121.9h0M112.3 127.3h0M109.1 121.6h0M167.4 115.5h0M115.5 124.2h0M165.5 129.5h0M114.6 113.8h0M105.4 110.3h0M108.7 115.5h0M115.0 122.1h0M105.7 127.8h0M97.8 112.6h0M105.1 123.3h0M159.6 121.4h0M111.3 118.2h0M103.1 108.8h0M108.8 123.5h0M115.1 122.3h0M100.2 111.4h0M159.5 122.4h0M167.7 116.8h0M108.7 133.7h0M111.9 120.4h0M159.6 127.8h0M169.2 123.9h0M97.9 120.1h0M99.6 123.2h0M105.3 131.5h0M111.5 126.2h0M97.9 125.9h0M158.7 113.2h0M102.8 121.9h0M161.2 132.0h0M104.4 123.8h0"/>
<path class="k9" opacity=".3" stroke-width="3" d="M156.8 106.8h0M111.8 103.0h0M156.1 105.4h0M156.6 87.7h0M157.7 100.5h0M117.0 106.7h0M159.4 87.1h0M153.0 105.3h0M160.7 97.3h0M154.7 87.2h0M157.5 108.9h0M156.5 99.9h0M113.4 107.6h0M119.6 103.9h0M160.3 100.2h0M154.7 110.3h0M157.5 93.7h0M150.2 91.4h0M152.9 92.5h0M154.9 100.9h0M120.3 106.4h0M157.7 91.9h0"/>
<path class="k5" opacity=".7" stroke-width="2.5" d="M155.6 65.3h0M147.0 69.5h0M147.1 54.0h0M149.2 51.3h0M161.4 57.1h0"/>
<path class="k26" opacity=".5" stroke-width="1" d="M136.5 52.1h0M135.8 77.4h0"/>
<path class="k0" opacity=".5" stroke-width="3" d="M152.6 143.0h0M163.3 128.9h0M116.8 140.2h0M113.1 130.8h0M117.2 133.9h0M118.5 138.7h0M115.5 129.1h0M120.5 130.6h0M163.7 137.4h0M118.0 140.4h0M114.1 129.5h0M117.2 133.2h0M122.8 134.4h0M156.7 133.2h0M124.4 138.9h0M107.2 125.5h0M160.8 135.3h0M116.6 132.3h0M123.0 128.3h0M119.0 138.3h0M121.7 133.3h0M157.3 133.3h0M157.5 146.6h0M118.6 142.3h0M155.1 132.9h0M160.5 131.7h0M112.2 140.5h0M119.5 139.1h0M118.6 145.8h0M116.5 146.6h0M157.0 144.5h0M115.6 138.5h0M116.4 138.6h0M156.6 128.3h0M119.5 130.5h0M150.3 133.3h0M115.6 136.8h0M155.6 137.7h0M113.1 130.1h0M158.8 139.9h0M154.9 129.9h0M112.6 144.5h0M153.8 129.7h0M157.4 136.4h0M112.7 135.4h0M118.6 131.9h0M118.2 128.8h0M120.2 139.1h0M121.7 145.9h0M151.3 128.8h0M115.4 126.1h0M150.4 133.9h0M109.1 132.4h0M108.2 130.9h0M157.1 138.7h0M120.1 138.9h0M123.3 133.0h0M121.5 151.9h0M154.9 126.0h0M160.1 141.6h0M107.7 133.6h0M121.6 141.7h0M122.4 131.8h0"/>
<path class="k3" opacity=".2" stroke-width="5.5" d="M209.7 151.6h0M196.9 120.9h0"/>
<path class="k8" opacity=".8" stroke-width="5" d="M85.7 191.0h0M71.7 190.2h0M89.7 202.3h0M77.3 193.9h0M73.0 201.1h0"/>
<path class="k12" opacity=".4" stroke-width="4" d="M172.7 65.7h0M169.0 85.4h0M175.6 71.8h0M100.6 76.0h0M181.0 66.2h0M170.5 66.8h0M175.1 78.3h0M180.3 60.1h0"/>
<path class="k16" opacity=".7" stroke-width="2.5" d="M159.1 50.3h0"/>
<path class="k0" opacity=".2" stroke-width="4" d="M183.0 167.9h0"/>
<path class="k31" opacity=".5" stroke-width="2" d="M130.3 127.9h0M129.6 80.6h0M126.2 79.6h0M142.2 125.3h0M133.4 137.3h0M141.7 73.4h0M129.9 139.0h0"/>
<path class="k16" opacity=".6" stroke-width="2.5" d="M152.9 50.0h0M158.2 45.4h0M148.5 43.3h0"/>
<path class="k22" opacity=".5" stroke-width="2.5" d="M124.2 130.6h0M121.7 128.1h0M125.7 86.8h0M124.3 124.1h0M151.9 125.1h0M144.9 139.4h0"/>
<path class="k3" opacity=".7" stroke-width="6" d="M66.7 167.6h0M65.5 156.9h0M51.2 172.0h0M68.4 152.6h0M70.6 162.2h0"/>
<path class="k8" opacity=".4" stroke-width="1" d="M135.8 127.5h0"/>
<path class="k23" opacity=".4" stroke-width="1.5" d="M138.3 76.9h0M140.1 87.1h0M134.4 84.8h0M134.9 88.2h0M138.4 63.3h0M139.4 78.3h0M140.3 50.8h0M133.1 87.5h0M140.1 72.0h0M140.0 76.5h0M139.1 81.1h0M137.9 63.5h0M139.0 75.9h0"/>
<path class="k1" opacity=".6" stroke-width="5" d="M65.9 158.0h0"/>
<path class="k4" opacity=".6" stroke-width="6" d="M212.6 62.6h0"/>
<path class="k9" opacity=".4" stroke-width="5" d="M84.9 122.3h0M80.5 114.7h0M81.1 116.1h0M88.7 118.8h0"/>
<path class="k29" opacity=".3" stroke-width="2.5" d="M147.2 101.8h0M150.7 103.4h0M116.1 106.8h0M143.9 108.3h0M123.3 105.4h0M126.4 110.1h0M144.5 105.4h0M150.2 96.4h0M123.3 110.1h0M145.0 90.6h0M149.3 100.4h0M118.2 109.0h0M124.2 106.6h0M148.3 106.4h0M150.2 103.0h0M147.1 96.3h0M125.0 99.3h0M124.5 105.2h0M147.3 99.7h0M125.8 104.1h0M146.9 93.9h0M122.6 109.6h0M150.7 104.0h0M128.4 110.7h0M155.6 78.8h0M152.5 100.1h0M151.1 87.6h0M145.0 110.3h0M127.0 111.2h0M145.6 93.2h0M123.7 104.2h0M146.6 93.6h0M149.6 109.0h0M146.1 91.0h0M148.4 104.2h0M149.8 107.6h0M148.2 97.6h0M145.6 103.7h0M149.3 88.6h0M147.6 104.3h0M143.7 108.2h0M155.0 107.7h0"/>
<path class="k19" opacity=".5" stroke-width="1" d="M136.3 130.3h0M135.4 129.9h0M136.2 144.0h0"/>
<path class="k13" opacity=".4" stroke-width="4" d="M172.6 121.1h0M177.0 79.0h0M174.4 78.7h0M180.8 109.9h0M174.6 72.2h0M98.5 96.2h0M104.3 104.0h0M102.2 83.3h0M91.9 115.3h0M171.1 113.1h0M85.4 94.5h0M98.0 87.9h0M106.9 95.4h0M85.3 122.4h0M92.1 88.9h0M108.0 102.0h0M167.1 83.8h0M177.4 114.5h0M176.2 118.3h0M103.5 86.2h0M182.5 134.7h0M101.9 90.1h0M91.0 120.9h0"/>
<path class="k9" opacity=".1" stroke-width="6.5" d="M49.9 111.4h0"/>
<path class="k2" opacity=".6" stroke-width="2.5" d="M148.7 162.5h0M123.5 142.2h0M143.5 154.6h0M122.8 156.4h0"/>
<path class="k15" opacity=".4" stroke-width="4.5" d="M86.9 94.0h0M178.4 112.4h0M99.9 120.0h0M88.0 92.2h0M101.3 88.2h0M101.0 95.0h0"/>
<path class="k27" opacity=".6" stroke-width="2.5" d="M123.1 63.0h0M154.3 137.3h0"/>
<path class="k31" opacity=".1" stroke-width="2.5" d="M128.5 57.1h0"/>
<path class="k29" opacity=".3" stroke-width="4.5" d="M85.2 105.5h0M181.0 76.5h0M92.0 107.1h0M171.8 87.0h0M191.3 97.4h0M171.6 91.0h0M186.9 84.2h0M176.6 103.6h0M185.2 107.6h0M173.3 100.5h0M188.9 102.4h0M174.1 104.6h0M91.1 108.6h0M184.7 94.2h0M180.5 107.3h0M175.7 95.0h0M183.3 103.2h0M94.1 107.1h0M182.5 108.6h0"/>
<path class="k14" opacity=".8" stroke-width="5.5" d="M81.6 181.8h0"/>
<path class="k14" opacity=".5" stroke-width="4" d="M93.6 134.1h0M86.9 156.7h0M100.7 127.8h0M100.3 130.3h0M168.6 126.6h0"/>
<path class="k19" opacity=".8" stroke-width="4" d="M105.0 170.7h0M99.1 179.8h0"/>
<path class="k8" opacity=".4" stroke-width="1.5" d="M139.5 122.7h0M139.2 126.0h0M134.3 121.3h0"/>
<path class="k27" opacity=".5" stroke-width="3" d="M152.0 125.6h0M117.2 76.0h0M119.9 79.2h0M157.5 137.6h0M153.6 164.6h0M152.5 148.8h0M153.6 167.8h0M154.6 79.8h0M121.3 70.6h0M153.2 157.7h0M113.8 134.2h0M120.6 81.2h0M118.1 89.3h0M115.0 128.5h0"/>
<path class="k10" opacity=".3" stroke-width="2" d="M130.7 105.1h0M132.0 106.3h0M132.5 97.2h0M129.8 107.8h0M143.0 105.2h0M145.8 109.8h0M142.3 88.4h0"/>
<path class="k18" opacity=".4" stroke-width="5" d="M88.4 100.8h0M81.7 112.1h0M87.5 123.6h0M83.0 112.8h0M87.5 117.2h0M181.6 117.3h0M83.7 95.6h0"/>
<path class="k29" opacity=".5" stroke-width="4" d="M176.5 126.8h0M106.5 82.3h0M106.5 131.1h0M95.7 129.1h0M89.1 127.6h0M101.6 124.0h0M97.4 134.4h0M99.4 126.1h0M94.5 127.6h0"/>
<path class="k8" opacity=".5" stroke-width="5.5" d="M73.3 145.1h0"/>
<path class="k3" opacity=".5" stroke-width="1.5" d="M137.2 136.8h0M132.8 146.3h0M132.4 130.4h0M138.4 151.1h0M134.3 141.4h0M140.4 134.2h0M138.2 148.6h0M133.4 130.6h0M134.4 136.7h0M138.1 149.6h0M137.7 135.1h0M139.5 136.6h0M132.8 147.1h0M137.9 150.6h0M137.4 136.8h0M137.3 129.9h0"/>
<path class="k0" opacity=".6" stroke-width="5" d="M86.3 153.6h0M75.3 152.3h0M90.3 139.1h0M90.6 144.4h0M72.2 155.6h0M88.5 171.6h0M85.6 167.9h0M75.2 169.1h0M78.7 164.7h0M83.6 159.9h0M79.1 157.2h0M76.1 148.3h0M77.9 171.7h0M76.9 144.8h0M81.9 148.0h0M74.0 160.4h0M75.8 146.9h0M79.0 163.7h0M74.7 141.2h0M75.8 145.9h0M73.5 177.7h0M68.4 166.4h0"/>
<path class="k31" opacity=".3" stroke-width="3.5" d="M96.6 106.6h0M166.4 97.2h0M168.7 97.1h0M166.1 94.0h0M161.1 105.0h0M160.9 94.6h0M117.1 108.7h0M163.5 90.5h0M161.3 108.3h0M159.0 84.0h0M170.5 105.6h0M110.4 108.2h0M107.4 108.4h0M170.0 99.9h0M157.3 86.5h0M164.2 91.5h0M165.2 101.9h0M164.5 97.3h0M161.6 86.3h0M170.1 105.9h0M113.9 106.9h0M156.9 96.1h0M107.4 110.1h0M160.9 98.5h0M167.7 87.4h0M159.1 96.0h0"/>
<path class="k30" opacity=".5" stroke-width="1.5" d="M132.0 73.8h0M139.1 62.7h0M134.5 68.3h0M134.0 65.7h0M134.4 58.4h0M137.7 61.2h0M138.3 62.2h0"/>
<path class="k23" opacity=".3" stroke-width="6.5" d="M214.2 35.4h0"/>
<path class="k30" opacity=".5" stroke-width="2" d="M141.0 46.5h0M139.9 67.9h0M131.7 61.4h0M147.5 56.9h0M132.3 68.0h0"/>
<path class="k2" opacity=".3" stroke-width="7" d="M57.5 127.9h0"/>
<path class="k0" opacity=".4" stroke-width="3" d="M149.0 129.8h0M153.9 114.5h0M117.6 126.1h0M160.7 124.1h0M162.7 121.0h0M120.4 117.1h0M115.8 129.5h0M106.1 110.1h0M123.6 126.1h0M152.6 120.9h0M121.4 124.0h0M158.3 114.5h0M109.1 122.1h0M121.8 133.4h0M119.2 120.9h0M109.4 121.0h0M120.8 127.8h0M120.6 116.2h0M150.4 127.4h0M113.2 119.0h0M119.8 123.8h0M116.1 115.1h0M155.6 122.4h0M117.8 118.4h0M117.4 117.7h0M116.5 135.8h0M122.0 123.1h0M110.0 123.6h0"/>
<path class="k28" opacity=".6" stroke-width="6.5" d="M49.1 161.9h0M58.7 170.9h0"/>
<path class="k17" opacity=".2" stroke-width="3" d="M109.3 60.4h0"/>
<path class="k9" opacity=".5" stroke-width="4.5" d="M177.5 135.4h0M91.6 132.4h0"/>
<path class="k1" opacity=".8" stroke-width="5.5" d="M52.8 194.7h0"/>
<path class="k12" opacity=".4" stroke-width="1.5" d="M133.7 55.1h0M138.4 85.5h0"/>
<path class="k8" opacity=".6" stroke-width="5" d="M81.8 146.4h0M79.7 160.2h0M78.3 149.5h0M72.1 150.2h0M80.1 143.1h0M76.9 140.3h0M83.1 157.2h0M78.3 146.2h0M87.2 147.1h0M78.9 158.6h0M71.8 149.7h0M83.8 148.4h0M79.1 144.6h0"/>
<path class="k26" opacity=".5" stroke-width="4" d="M168.6 68.1h0M176.4 71.2h0M178.7 53.5h0M181.4 49.7h0M184.4 48.1h0M178.2 43.0h0M170.1 63.8h0M166.9 54.3h0M175.6 65.5h0M175.2 64.0h0M173.4 60.3h0M164.4 53.9h0M168.4 44.9h0M182.1 63.1h0M174.2 61.8h0M177.0 65.1h0M166.9 45.7h0M195.9 70.9h0M166.4 40.3h0M169.2 53.7h0M177.1 56.2h0"/>
<path class="k3" opacity=".4" stroke-width="4.5" d="M86.6 122.9h0M92.6 117.1h0M99.1 126.1h0M88.8 118.5h0M81.7 110.8h0M92.3 126.6h0M100.2 127.1h0M171.1 113.0h0"/>
<path class="k11" opacity=".3" stroke-width="6.5" d="M53.1 130.6h0"/>
<path class="k10" opacity=".4" stroke-width="2.5" d="M124.6 120.1h0M147.9 113.7h0M124.8 114.3h0M122.7 117.5h0M123.2 121.8h0M122.9 99.3h0M148.5 75.3h0"/>
<path class="k21" opacity=".2" stroke-width="4.5" d="M194.1 73.0h0M195.7 92.0h0"/>
<path class="k26" opacity=".4" stroke-width="2.5" d="M150.0 74.1h0M147.3 75.2h0M155.1 68.1h0M152.4 68.8h0M147.1 43.6h0M150.0 54.2h0M149.4 79.5h0M126.0 83.1h0M149.4 54.3h0M148.3 49.8h0M156.9 67.0h0M147.8 78.7h0M147.1 67.2h0M146.6 80.6h0M123.5 89.6h0"/>
<path class="k29" opacity=".1" stroke-width="5" d="M72.0 72.8h0M66.5 84.3h0"/>
<path class="k23" opacity=".3" stroke-width="3" d="M153.3 92.3h0M159.3 93.3h0M117.1 54.5h0"/>
<path class="k8" opacity=".5" stroke-width="2" d="M142.6 147.0h0M141.3 145.6h0M132.6 129.9h0M130.2 131.8h0M146.2 135.1h0M132.4 141.1h0M131.2 129.8h0M143.1 147.0h0M143.3 150.4h0M129.7 141.2h0M142.9 151.2h0M143.5 136.5h0M129.8 145.1h0M144.5 134.7h0"/>
<path class="k8" opacity=".7" stroke-width="5.5" d="M81.3 154.6h0M73.0 154.0h0M71.4 165.1h0M71.8 157.2h0M70.2 161.9h0M66.5 159.3h0"/>
<path class="k14" opacity=".6" stroke-width="1.5" d="M134.5 154.5h0"/>
<path class="k28" opacity=".5" stroke-width="7" d="M51.2 148.7h0"/>
<path class="k28" opacity=".3" stroke-width="7" d="M53.2 118.0h0"/>
<path class="k22" opacity=".6" stroke-width="2" d="M144.2 143.2h0"/>
<path class="k28" opacity=".8" stroke-width="6.5" d="M61.9 191.9h0"/>
<path class="k25" opacity=".4" stroke-width="1.5" d="M133.5 123.7h0"/>
<path class="k10" opacity=".5" stroke-width="1.5" d="M133.3 123.5h0"/>
<path class="k2" opacity=".5" stroke-width="1" d="M135.6 123.1h0"/>
<path class="k15" opacity=".4" stroke-width="4" d="M96.2 94.5h0M172.2 115.9h0M92.2 117.3h0M102.9 116.5h0M108.8 74.7h0M168.1 83.9h0M164.8 111.9h0M176.2 120.1h0M100.8 85.8h0M108.3 112.0h0M104.8 101.5h0M93.8 121.1h0M107.7 114.1h0M99.6 112.9h0M100.9 85.3h0M91.6 118.9h0M86.9 115.4h0M102.5 126.7h0M89.6 87.1h0M167.6 120.0h0"/>
<path class="k3" opacity=".5" stroke-width="2" d="M143.3 152.2h0M140.7 128.6h0M142.1 131.6h0M132.1 134.6h0M131.5 135.4h0M142.1 140.5h0M141.4 130.2h0M141.7 132.7h0M126.8 138.3h0M141.4 128.6h0M132.2 149.0h0M128.2 128.0h0M126.7 144.4h0M132.6 124.9h0M127.9 129.6h0M130.7 142.0h0M144.5 133.5h0M142.7 140.9h0M145.0 141.4h0M142.5 136.3h0M145.0 137.9h0M143.5 155.2h0M143.2 138.5h0M144.5 124.7h0M127.9 143.2h0M132.1 150.2h0M145.1 133.5h0M141.5 126.2h0M133.0 143.8h0M132.3 141.6h0M141.9 137.1h0M141.3 140.1h0M141.2 138.4h0M128.4 145.7h0M141.5 140.0h0M131.6 141.7h0M130.1 131.2h0M129.0 137.2h0"/>
<path class="k23" opacity=".4" stroke-width="2.5" d="M152.6 83.6h0M148.0 82.3h0M150.5 87.4h0M123.7 57.8h0M151.2 80.8h0M148.7 85.0h0M125.1 95.6h0M153.6 67.3h0M147.2 64.5h0M149.6 80.2h0M144.1 81.4h0M122.6 86.9h0M147.0 74.1h0M124.8 61.3h0"/>
<path class="k3" opacity=".6" stroke-width="1.5" d="M134.5 146.3h0M134.6 143.8h0M138.1 155.9h0M135.1 152.6h0"/>
<path class="k32" opacity=".2" stroke-width="5.5" d="M52.6 110.1h0M68.4 74.4h0M60.2 85.0h0"/>
<path class="k5" opacity=".6" stroke-width="4.5" d="M176.7 47.6h0M177.9 44.2h0M181.5 56.2h0"/>
<path class="k6" opacity=".7" stroke-width="3.5" d="M105.6 157.9h0M111.5 182.0h0M168.3 166.4h0M109.0 157.2h0"/>
<path class="k0" opacity=".6" stroke-width="5.5" d="M69.1 166.8h0M72.5 145.0h0M83.1 154.0h0M71.2 146.5h0M61.9 148.4h0M83.4 146.5h0M62.4 151.6h0M75.3 143.7h0"/>
<path class="k2" opacity=".5" stroke-width="3" d="M123.3 139.6h0M111.1 140.4h0M161.2 123.7h0M107.2 147.6h0M118.3 156.5h0M121.1 137.9h0M120.8 131.7h0M153.6 138.1h0M150.7 125.5h0M157.3 134.6h0M109.3 135.2h0M118.4 133.0h0M153.9 131.8h0M108.7 134.7h0M157.1 136.2h0M118.0 140.1h0M157.7 138.3h0"/>
<path class="k12" opacity=".5" stroke-width="2" d="M145.7 60.9h0M141.5 76.2h0M129.2 63.6h0M145.1 67.6h0M143.0 71.6h0M145.3 56.5h0M132.4 67.7h0M142.5 58.4h0"/>
<path class="k1" opacity=".7" stroke-width="5.5" d="M54.7 154.5h0M59.7 150.1h0M56.5 177.3h0"/>
<path class="k14" opacity=".5" stroke-width="2.5" d="M147.0 137.6h0M124.2 135.8h0M150.1 145.1h0M120.8 129.9h0M123.0 128.7h0M149.5 143.9h0M123.0 148.2h0M124.0 128.0h0M126.1 131.8h0M128.6 135.1h0M146.7 126.6h0M126.9 135.9h0"/>
<path class="k31" opacity=".2" stroke-width="4.5" d="M193.5 82.6h0M94.3 74.7h0"/>
<path class="k10" opacity=".5" stroke-width="1" d="M136.4 125.6h0"/>
<path class="k26" opacity=".3" stroke-width="5" d="M183.3 78.9h0M179.2 86.4h0M198.4 62.2h0M198.4 58.5h0M194.7 61.4h0M190.6 65.9h0M193.3 52.3h0M191.8 76.3h0M184.8 80.4h0"/>
<path class="k21" opacity=".7" stroke-width="2" d="M145.2 39.2h0"/>
<path class="k19" opacity=".8" stroke-width="5" d="M86.2 204.9h0"/>
<path class="k2" opacity=".6" stroke-width="1.5" d="M133.3 170.5h0M133.4 143.6h0M133.9 161.0h0M135.2 150.3h0M138.0 145.0h0M132.4 152.1h0"/>
<path class="k3" opacity=".3" stroke-width="3.5" d="M157.4 152.9h0"/>
<path class="k20" opacity=".7" stroke-width="7" d="M56.0 156.2h0"/>
<path class="k19" opacity=".8" stroke-width="2.5" d="M122.6 172.5h0"/>
<path class="k5" opacity=".5" stroke-width="4.5" d="M176.6 56.4h0M170.8 35.2h0M184.5 41.4h0"/>
<path class="k14" opacity=".3" stroke-width="5" d="M72.6 134.6h0M74.6 127.0h0M189.5 126.2h0"/>
<path class="k15" opacity=".1" stroke-width="7" d="M219.6 121.3h0"/>
<path class="k31" opacity=".2" stroke-width="5" d="M62.7 83.5h0M66.7 97.5h0M75.2 105.7h0M76.6 66.5h0M196.2 82.9h0M194.9 89.3h0M207.6 112.8h0M207.2 96.2h0M75.5 86.4h0M200.4 105.2h0M84.2 64.8h0"/>
<path class="k29" opacity=".3" stroke-width="5" d="M183.3 133.6h0M90.0 76.3h0M88.6 105.3h0M192.5 91.2h0M187.8 97.6h0M76.6 118.5h0M77.4 113.7h0M78.2 131.3h0M94.5 75.2h0M188.2 95.8h0M188.8 99.2h0M79.1 122.8h0"/>
<path class="k8" opacity=".7" stroke-width="5" d="M67.5 167.2h0M71.5 150.9h0M83.4 170.0h0"/>
<path class="k2" opacity=".7" stroke-width="5" d="M78.6 191.8h0M85.3 153.0h0M86.9 181.4h0M67.9 164.7h0M88.5 173.1h0M84.1 179.2h0M85.0 173.9h0"/>
<path class="k30" opacity=".3" stroke-width="3" d="M154.1 88.2h0M158.7 94.4h0"/>
<path class="k17" opacity=".5" stroke-width="2.5" d="M127.1 75.9h0M153.0 63.5h0M122.6 62.1h0M152.2 38.3h0M127.9 81.1h0M149.0 60.3h0M148.2 73.0h0M118.4 79.0h0M149.1 61.0h0M149.1 69.0h0M144.7 77.4h0M127.3 67.2h0M153.4 62.1h0M152.8 58.8h0M126.1 71.2h0M121.3 75.0h0M126.0 70.3h0M148.8 81.0h0M152.4 47.1h0M127.4 73.1h0M124.1 83.2h0M120.1 79.0h0"/>
<path class="k8" opacity=".7" stroke-width="4.5" d="M89.9 179.9h0M87.1 187.1h0M100.3 177.2h0M100.7 170.3h0M98.7 160.5h0M94.3 152.1h0"/>
<path class="k26" opacity=".6" stroke-width="3" d="M159.3 63.9h0M151.4 38.2h0M170.3 41.3h0M158.2 59.8h0M155.4 50.9h0M154.0 61.6h0"/>
<path class="k14" opacity=".5" stroke-width="5.5" d="M75.9 145.1h0"/>
<path class="k4" opacity=".6" stroke-width="2.5" d="M144.4 67.8h0M157.2 57.1h0M159.9 56.8h0M144.9 57.2h0"/>
<path class="k26" opacity=".3" stroke-width="6.5" d="M210.7 43.7h0"/>
<path class="k15" opacity=".3" stroke-width="4.5" d="M177.8 77.9h0M93.3 108.3h0M180.9 78.7h0M175.0 95.5h0M174.4 103.4h0M178.6 90.6h0M182.2 83.9h0M97.4 56.7h0M181.7 82.1h0M185.5 94.7h0M184.5 77.8h0M169.8 94.2h0M95.5 68.6h0M182.1 107.5h0"/>
<path class="k3" opacity=".8" stroke-width="2.5" d="M147.6 175.1h0"/>
<path class="k15" opacity=".4" stroke-width="3" d="M121.6 92.3h0M112.0 92.6h0M158.7 110.4h0M153.0 112.3h0M120.4 118.2h0M155.0 76.9h0M160.8 125.1h0M118.5 110.7h0M152.9 110.3h0M123.1 117.2h0M119.1 99.5h0M121.9 90.4h0M117.5 64.5h0M122.1 72.5h0M158.1 72.4h0M119.4 122.0h0M116.9 99.7h0M118.1 67.1h0M112.4 117.3h0M114.8 112.2h0M157.9 122.5h0M108.7 73.9h0M109.7 68.1h0M120.6 85.4h0M163.5 110.8h0M120.2 115.0h0"/>
<path class="k0" opacity=".8" stroke-width="3" d="M115.4 164.1h0M107.9 177.5h0M116.4 171.4h0M120.1 183.3h0M117.8 173.5h0M111.7 173.9h0"/>
<path class="k19" opacity=".5" stroke-width="3.5" d="M161.9 152.4h0M108.7 148.4h0M112.7 131.9h0M101.0 140.3h0M160.5 141.1h0M160.8 142.8h0M113.2 140.2h0M112.7 135.6h0M159.8 138.8h0M98.9 140.4h0M114.0 129.7h0M163.1 130.4h0M111.2 148.0h0M101.0 133.9h0M157.9 133.1h0M163.6 153.7h0M115.8 153.9h0"/>
<path class="k0" opacity=".4" stroke-width="2.5" d="M122.4 124.4h0M127.0 125.0h0M126.6 114.4h0M123.2 122.2h0M149.9 125.1h0M146.2 121.8h0M128.1 117.5h0M125.4 117.5h0M147.1 118.5h0M144.6 114.3h0M150.3 127.0h0M150.2 126.7h0M148.1 122.6h0M148.8 122.4h0M122.4 114.5h0M150.0 124.8h0M147.5 130.3h0M148.2 122.1h0M123.6 122.0h0M126.7 117.8h0M124.5 121.3h0M125.7 132.5h0M147.9 127.3h0M127.3 121.5h0M124.6 122.7h0M118.4 120.6h0M127.5 130.8h0M145.5 128.8h0M147.0 126.3h0M149.1 135.3h0"/>
<path class="k0" opacity=".4" stroke-width="4.5" d="M93.6 119.8h0M83.8 124.5h0M99.6 124.4h0M86.0 119.2h0M97.0 125.5h0M101.3 120.7h0M89.9 122.3h0M91.5 114.2h0M93.9 129.7h0M85.5 122.4h0M98.7 119.9h0M176.9 128.6h0M87.2 126.0h0M83.9 126.2h0"/>
<path class="k31" opacity=".4" stroke-width="1" d="M136.1 112.8h0M136.3 118.5h0"/>
<path class="k32" opacity=".2" stroke-width="7" d="M53.1 117.8h0"/>
<path class="k26" opacity=".4" stroke-width="5" d="M186.0 71.7h0M185.4 64.2h0M183.6 61.5h0M210.0 36.4h0M189.9 59.8h0"/>
<path class="k6" opacity=".5" stroke-width="5" d="M91.2 129.9h0M88.2 137.1h0M84.5 128.9h0"/>
<path class="k5" opacity=".2" stroke-width="5" d="M197.0 95.6h0M198.7 99.5h0"/>
<path class="k6" opacity=".8" stroke-width="2" d="M130.6 179.9h0M146.2 165.5h0"/>
<path class="k31" opacity=".4" stroke-width="5" d="M86.9 113.1h0M88.1 116.2h0M89.5 126.6h0"/>
<path class="k13" opacity=".5" stroke-width="2" d="M127.0 81.8h0M129.5 75.2h0M139.9 80.8h0"/>
<path class="k6" opacity=".5" stroke-width="1.5" d="M139.7 133.6h0M134.0 128.6h0M132.0 130.5h0M134.0 135.8h0M133.2 147.3h0"/>
<path class="k5" opacity=".4" stroke-width="1.5" d="M138.8 73.6h0M137.3 61.6h0M138.4 87.3h0M137.8 57.1h0M133.5 86.1h0M139.7 81.1h0M137.8 76.9h0"/>
<path class="k12" opacity=".3" stroke-width="5" d="M198.1 55.7h0M184.4 78.4h0M192.4 65.9h0"/>
<path class="k17" opacity=".2" stroke-width="3.5" d="M113.2 59.7h0M115.1 48.9h0M105.1 58.4h0"/>
<path class="k12" opacity=".2" stroke-width="6" d="M198.0 91.6h0"/>
<path class="k27" opacity=".6" stroke-width="2" d="M142.5 166.2h0M143.2 52.0h0M140.8 62.3h0"/>
<path class="k19" opacity=".8" stroke-width="6.5" d="M60.4 193.6h0"/>
<path class="k32" opacity=".2" stroke-width="2" d="M129.9 43.4h0"/>
<path class="k12" opacity=".6" stroke-width="3" d="M160.0 39.7h0M161.3 39.8h0M151.8 40.8h0M161.6 47.2h0M163.9 47.3h0"/>
<path class="k29" opacity=".6" stroke-width="4" d="M107.0 147.9h0"/>
<path class="k0" opacity=".7" stroke-width="3.5" d="M110.2 171.9h0M112.4 151.4h0M100.8 171.7h0M109.5 161.4h0M103.8 157.0h0M109.8 177.2h0M110.9 178.6h0M104.0 181.8h0M168.4 168.7h0M108.0 160.8h0M115.1 179.9h0M108.9 173.1h0M113.1 156.5h0M111.2 170.2h0M109.1 184.9h0M103.0 152.2h0M106.1 179.4h0M102.5 184.0h0M106.8 169.6h0M110.2 168.1h0"/>
<path class="k17" opacity=".2" stroke-width="6" d="M58.9 84.3h0"/>
<path class="k17" opacity=".2" stroke-width="4" d="M95.2 65.7h0M102.3 53.2h0M100.1 59.0h0"/>
<path class="k22" opacity=".4" stroke-width="4.5" d="M95.0 111.5h0M173.2 112.8h0M182.9 88.2h0M180.1 127.9h0M98.5 115.0h0M186.1 116.2h0M92.4 95.7h0M83.1 120.0h0M178.3 120.9h0M94.5 84.6h0M80.4 95.8h0M94.9 121.1h0M102.3 120.6h0M89.5 104.2h0M93.7 118.9h0M94.2 93.0h0M91.9 99.5h0M97.7 76.6h0M179.1 112.8h0M177.4 124.2h0M98.7 103.0h0M96.6 96.7h0M88.6 118.6h0M90.8 102.0h0M89.6 101.1h0M84.8 121.4h0"/>
<path class="k2" opacity=".4" stroke-width="1" d="M137.0 120.5h0"/>
<path class="k8" opacity=".3" stroke-width="4" d="M184.4 158.9h0M171.0 148.7h0"/>
<path class="k0" opacity=".4" stroke-width="5" d="M94.3 127.5h0M88.6 122.4h0M81.1 119.1h0"/>
<path class="k13" opacity=".5" stroke-width="4.5" d="M86.3 132.7h0"/>
<path class="k8" opacity=".5" stroke-width="3.5" d="M101.8 143.7h0M107.5 136.3h0M103.1 139.5h0M107.8 138.0h0M168.2 144.0h0M111.8 141.1h0M160.9 137.6h0M97.4 134.2h0M112.3 145.0h0M104.2 124.9h0M161.3 138.8h0M171.0 126.6h0M161.3 128.9h0M162.5 143.8h0M107.9 135.7h0M109.5 134.9h0M163.4 137.5h0M110.4 147.2h0M105.9 130.6h0M106.1 130.3h0M172.7 128.6h0"/>
<path class="k12" opacity=".5" stroke-width="5" d="M189.3 33.0h0M185.5 27.9h0"/>
<path class="k30" opacity=".3" stroke-width="1" d="M135.7 46.5h0"/>
<path class="k29" opacity=".5" stroke-width="5" d="M81.7 137.8h0M76.3 140.6h0"/>
<path class="k19" opacity=".6" stroke-width="2" d="M132.6 145.8h0M139.9 152.2h0M127.6 156.6h0M142.8 147.4h0M133.1 155.4h0M126.7 143.7h0"/>
<path class="k2" opacity=".3" stroke-width="6" d="M70.6 137.2h0M68.1 134.0h0"/>
<path class="k26" opacity=".5" stroke-width="2.5" d="M152.4 68.2h0M120.0 71.9h0M151.6 58.1h0M144.5 57.1h0M146.6 75.9h0M127.7 67.2h0M120.1 82.9h0M149.1 75.3h0M146.0 77.6h0M147.3 69.6h0M148.6 66.1h0M147.3 74.6h0M120.5 67.4h0M147.9 50.5h0M127.1 73.3h0M148.0 36.4h0M155.6 83.0h0"/>
<path class="k22" opacity=".6" stroke-width="3" d="M115.7 137.9h0M120.8 137.0h0"/>
<path class="k24" opacity=".3" stroke-width="4" d="M105.6 83.5h0"/>
<path class="k20" opacity=".6" stroke-width="5.5" d="M53.0 158.7h0"/>
<path class="k6" opacity=".6" stroke-width="2" d="M143.1 149.5h0M128.3 155.1h0M126.1 146.7h0M131.2 156.9h0"/>
<path class="k3" opacity=".8" stroke-width="5" d="M65.4 204.1h0M80.5 172.9h0M73.4 167.3h0M77.7 200.5h0M91.7 162.8h0M85.0 166.2h0M74.7 170.9h0M92.3 172.9h0M84.8 178.6h0"/>
<path class="k21" opacity=".4" stroke-width="3" d="M156.8 79.1h0M153.8 75.5h0M164.8 53.8h0M151.6 78.5h0M120.2 92.0h0M152.3 72.8h0M152.5 66.2h0M156.9 74.9h0M154.4 85.2h0M163.9 82.5h0M152.7 74.9h0"/>
<path class="k15" opacity=".5" stroke-width="2" d="M129.5 68.9h0M128.5 81.1h0M143.4 130.4h0M140.3 126.3h0M144.8 123.8h0M128.9 58.6h0"/>
<path class="k31" opacity=".2" stroke-width="3.5" d="M108.1 61.4h0M97.6 58.6h0M116.1 63.3h0"/>
<path class="k6" opacity=".4" stroke-width="4" d="M84.8 129.7h0M100.3 96.6h0M103.3 122.6h0M168.1 129.0h0"/>
<path class="k21" opacity=".6" stroke-width="2" d="M142.9 69.4h0"/>
<path class="k0" opacity=".3" stroke-width="3.5" d="M158.8 109.8h0M105.2 110.5h0M170.3 110.2h0"/>
<path class="k19" opacity=".3" stroke-width="4" d="M172.5 139.6h0M176.3 144.1h0"/>
<path class="k2" opacity=".6" stroke-width="4" d="M100.4 148.1h0M93.5 156.9h0M104.3 179.0h0M98.3 145.3h0M93.3 149.4h0M90.8 144.2h0M98.4 154.4h0"/>
<path class="k3" opacity=".6" stroke-width="3" d="M110.9 153.7h0M154.8 140.5h0M115.8 148.2h0M119.1 146.7h0M115.9 142.2h0M154.4 146.5h0M121.5 142.8h0M156.4 152.2h0M110.4 145.7h0M113.6 142.1h0M117.8 145.4h0M112.5 157.2h0M163.0 164.8h0M115.9 169.4h0M118.9 143.6h0M119.0 145.0h0M119.3 150.1h0M118.9 170.4h0M118.4 161.3h0"/>
<path class="k19" opacity=".6" stroke-width="3.5" d="M167.1 161.1h0M175.7 151.2h0M98.4 164.1h0M112.6 173.6h0M171.3 148.5h0M115.5 157.3h0"/>
<path class="k9" opacity=".4" stroke-width="4" d="M99.0 131.3h0M84.5 111.0h0M109.5 115.8h0M103.6 100.7h0M181.9 153.8h0M170.4 123.1h0M87.5 122.6h0M102.8 99.1h0M98.7 116.8h0M181.5 131.5h0M97.2 119.1h0M183.6 151.1h0M97.3 129.1h0M172.8 157.4h0M170.9 120.5h0M171.2 116.7h0M93.5 82.4h0M178.0 118.6h0M104.7 126.1h0M96.4 82.0h0M109.7 113.3h0M92.5 100.0h0"/>
<path class="k13" opacity=".3" stroke-width="5" d="M190.0 114.2h0M63.7 135.6h0M74.4 98.6h0M191.3 83.0h0M191.4 136.3h0M191.0 105.4h0M186.6 109.7h0M187.7 111.8h0M187.3 91.8h0M71.0 89.5h0M204.1 64.1h0"/>
<path class="k0" opacity=".8" stroke-width="3.5" d="M103.3 178.3h0M104.1 179.7h0M110.5 186.9h0M111.4 175.9h0M113.4 161.8h0M106.1 180.7h0M103.9 192.6h0M104.2 165.1h0M111.1 177.7h0M99.1 180.4h0M110.2 176.2h0"/>
<path class="k31" opacity=".4" stroke-width="2" d="M128.7 100.0h0M142.9 114.8h0M126.9 104.4h0M130.6 92.2h0M127.6 98.0h0M143.7 121.0h0M128.1 114.9h0M141.1 112.9h0M144.2 82.1h0M131.6 96.1h0M144.8 111.2h0M144.4 119.0h0M141.4 117.5h0M126.1 111.1h0M132.2 124.3h0M131.1 96.1h0M127.5 114.7h0M142.7 116.9h0M132.9 123.7h0M131.5 102.2h0M144.2 82.1h0M141.8 111.8h0M140.9 114.2h0M130.7 125.6h0M129.1 91.5h0M126.6 117.8h0M131.1 113.9h0M141.3 124.1h0M129.6 118.7h0M142.7 73.5h0M140.3 83.4h0M130.5 80.0h0M132.3 103.9h0M131.4 94.2h0"/>
<path class="k5" opacity=".3" stroke-width="3" d="M150.0 82.9h0M159.7 91.8h0"/>
<path class="k6" opacity=".4" stroke-width="2.5" d="M123.6 121.4h0M124.9 121.6h0M121.1 125.7h0M150.8 121.3h0M124.6 117.2h0M122.1 136.2h0M148.3 132.9h0M149.8 127.9h0M146.2 132.3h0M121.7 119.9h0M125.4 124.9h0"/>
<path class="k3" opacity=".3" stroke-width="2" d="M143.5 147.8h0M142.7 129.3h0"/>
<path class="k7" opacity=".6" stroke-width="5.5" d="M58.3 152.3h0M56.8 140.4h0"/>
<path class="k13" opacity=".1" stroke-width="4" d="M96.2 85.7h0"/>
<path class="k9" opacity=".4" stroke-width="2.5" d="M146.0 112.7h0M151.6 117.2h0M127.8 126.9h0M125.3 87.2h0M152.8 141.2h0M126.5 93.6h0M127.1 117.6h0M150.1 167.7h0M153.2 149.6h0M121.9 88.8h0M147.3 79.2h0M146.3 122.7h0M119.7 95.6h0M144.6 115.2h0M145.0 82.0h0M147.8 116.4h0M124.9 121.6h0M128.1 118.7h0M125.4 102.4h0M146.9 75.2h0M145.3 83.6h0M148.8 86.2h0M150.3 136.1h0M146.6 121.0h0M145.5 87.0h0M144.1 75.1h0M148.0 132.2h0M128.9 93.3h0M147.6 95.1h0M153.7 122.9h0M153.3 98.5h0M126.4 96.8h0M127.6 102.0h0M120.7 112.6h0M124.4 115.1h0M124.6 113.6h0M124.7 114.9h0M146.6 128.3h0M148.9 87.4h0M146.0 85.4h0M148.3 114.3h0M149.2 85.9h0M147.4 125.3h0M124.4 113.5h0M127.4 94.3h0M149.6 123.5h0M148.6 131.8h0M122.5 113.0h0"/>
<path class="k3" opacity=".7" stroke-width="4" d="M96.7 197.8h0M103.6 162.1h0M94.0 156.6h0M92.5 171.3h0M95.9 171.2h0M98.7 164.2h0M95.3 164.4h0M171.1 169.9h0M96.8 161.8h0M89.1 164.2h0M105.0 160.4h0M98.8 186.1h0"/>
<path class="k0" opacity=".1" stroke-width="6" d="M212.0 123.1h0"/>
<path class="k2" opacity=".3" stroke-width="5" d="M184.7 122.4h0M184.5 165.6h0"/>
<path class="k27" opacity=".4" stroke-width="1" d="M136.7 122.6h0M137.0 116.5h0M137.1 123.4h0"/>
<path class="k19" opacity=".6" stroke-width="1" d="M136.7 159.7h0"/>
<path class="k2" opacity=".7" stroke-width="4.5" d="M90.8 178.6h0M88.2 178.7h0M81.8 155.6h0"/>
<path class="k14" opacity=".4" stroke-width="4" d="M96.7 122.6h0M99.4 127.2h0"/>
<path class="k19" opacity=".8" stroke-width="3" d="M115.8 167.2h0M153.2 169.1h0"/>
<path class="k30" opacity=".4" stroke-width="2.5" d="M143.6 95.0h0M154.5 55.8h0M147.7 68.0h0M149.3 84.1h0M147.2 74.4h0M124.9 100.2h0M145.9 60.7h0M121.9 82.0h0M148.3 67.2h0M147.2 69.4h0M117.7 64.7h0M146.0 76.0h0"/>
<path class="k2" opacity=".8" stroke-width="4" d="M107.5 184.0h0"/>
<path class="k9" opacity=".3" stroke-width="4.5" d="M175.2 108.4h0M183.2 78.5h0M191.3 113.2h0M175.7 102.5h0M176.5 88.0h0M192.3 125.9h0M175.1 106.3h0M183.2 92.2h0M184.6 118.7h0M191.3 150.0h0M184.3 92.1h0M173.6 95.7h0M176.3 99.5h0M174.5 77.1h0M175.5 89.8h0M190.6 137.0h0"/>
<path class="k8" opacity=".7" stroke-width="3.5" d="M111.2 166.9h0M111.8 153.3h0M114.3 160.9h0M103.6 154.0h0M103.5 164.2h0M117.2 161.8h0M110.6 158.2h0M99.1 168.4h0M106.0 162.3h0"/>
<path class="k26" opacity=".6" stroke-width="3.5" d="M163.9 33.9h0M166.1 42.7h0M183.4 37.6h0M175.8 36.6h0M162.0 59.1h0M175.0 43.9h0M157.0 40.8h0"/>
<path class="k21" opacity=".4" stroke-width="4.5" d="M180.7 61.7h0M190.6 40.6h0M172.8 52.3h0M186.4 53.9h0M179.5 53.9h0M183.5 34.3h0M180.0 64.0h0M185.2 58.3h0M100.4 83.3h0M191.6 63.7h0M189.2 59.1h0"/>
<path class="k10" opacity=".2" stroke-width="6" d="M204.6 93.2h0"/>
<path class="k12" opacity=".6" stroke-width="2.5" d="M146.4 54.8h0M144.1 39.8h0M147.3 46.4h0"/>
<path class="k5" opacity=".4" stroke-width="3.5" d="M158.6 57.8h0M154.7 76.0h0M107.9 89.2h0M164.0 73.8h0M167.0 74.9h0M157.4 78.8h0M170.8 75.9h0M166.6 50.5h0M159.8 82.0h0M160.1 65.8h0M167.8 68.5h0M176.5 73.1h0M104.4 76.3h0M163.1 64.9h0M161.6 79.5h0M165.5 75.6h0M164.7 66.7h0M165.8 65.5h0M162.9 69.9h0"/>
<path class="k0" opacity=".7" stroke-width="1.5" d="M139.7 154.3h0M133.7 172.1h0M134.4 158.5h0M139.1 150.7h0"/>
<path class="k16" opacity=".5" stroke-width="3.5" d="M168.2 69.7h0M158.9 47.7h0M163.5 69.7h0"/>
<path class="k21" opacity=".6" stroke-width="1.5" d="M139.0 54.6h0M140.5 55.7h0M133.0 55.2h0"/>
<path class="k16" opacity=".4" stroke-width="4" d="M172.1 59.1h0M174.4 38.1h0M169.3 70.0h0"/>
<path class="k30" opacity=".5" stroke-width="4" d="M178.5 46.1h0M167.5 61.4h0"/>
<path class="k24" opacity=".2" stroke-width="5.5" d="M62.7 85.7h0M64.2 84.2h0"/>
<path class="k17" opacity=".6" stroke-width="1" d="M135.7 62.0h0"/>
<path class="k15" opacity=".1" stroke-width="4" d="M89.1 60.3h0M85.8 69.8h0"/>
<path class="k9" opacity=".3" stroke-width="4" d="M168.2 101.9h0M169.4 103.5h0M181.3 103.6h0M178.1 79.2h0M167.5 103.5h0M178.2 103.9h0M169.2 95.5h0M181.0 93.3h0M176.5 98.6h0M171.2 102.5h0M183.2 114.5h0M95.8 107.7h0M185.4 141.6h0M170.0 87.7h0M185.7 141.8h0"/>
<path class="k22" opacity=".2" stroke-width="5" d="M201.4 92.6h0M74.3 117.3h0M77.4 117.0h0M199.3 110.9h0M196.4 126.9h0M198.3 90.9h0M78.0 108.4h0M68.8 113.0h0M70.5 85.9h0M200.3 98.9h0"/>
<path class="k16" opacity=".6" stroke-width="3.5" d="M167.2 58.9h0M163.8 52.6h0M178.7 68.5h0M184.4 69.2h0M158.9 52.4h0M176.5 57.6h0M166.9 49.8h0M158.3 55.5h0M170.9 41.6h0"/>
<path class="k0" opacity=".4" stroke-width="1.5" d="M138.9 121.9h0M137.6 114.8h0M135.2 119.8h0M138.1 132.8h0M141.0 138.0h0M134.2 126.4h0M132.4 134.3h0M132.3 121.8h0M139.2 125.5h0M131.4 116.8h0M134.0 125.9h0M132.8 127.2h0M141.1 122.1h0M134.1 125.5h0M132.6 113.0h0M133.0 137.8h0M134.1 125.1h0M133.6 113.1h0"/>
<path class="k3" opacity=".3" stroke-width="4.5" d="M173.1 143.3h0M184.1 122.5h0M95.3 107.9h0M185.4 130.1h0"/>
<path class="k8" opacity=".3" stroke-width="5" d="M64.7 133.1h0M62.2 126.9h0M200.8 150.9h0M197.5 146.4h0"/>
<path class="k8" opacity=".6" stroke-width="2.5" d="M145.9 153.6h0M145.9 161.5h0M147.7 169.8h0M149.4 156.3h0M152.9 130.5h0M127.0 139.5h0M126.7 147.1h0M121.9 144.7h0M123.3 151.9h0M148.7 152.3h0M120.3 155.4h0M124.0 165.0h0M124.4 152.4h0M124.0 156.4h0M126.3 164.2h0M125.6 135.9h0M124.8 142.6h0"/>
<path class="k30" opacity=".3" stroke-width="1.5" d="M140.5 87.5h0"/>
<path class="k18" opacity=".3" stroke-width="4" d="M92.9 105.9h0M181.4 100.6h0M181.5 101.0h0M180.0 110.3h0M174.9 95.9h0M167.8 107.8h0M173.7 99.9h0M103.9 106.6h0M98.5 107.3h0M102.0 107.3h0M173.1 90.5h0M175.6 92.6h0M163.7 100.3h0M188.1 86.2h0M182.0 90.0h0M174.8 109.0h0M172.9 108.2h0M178.6 86.3h0M94.8 105.1h0M187.8 102.7h0"/>
<path class="k6" opacity=".7" stroke-width="1.5" d="M135.4 157.3h0"/>
<path class="k0" opacity=".6" stroke-width="6" d="M67.4 164.3h0M60.3 157.7h0M49.0 147.7h0M49.2 154.2h0"/>
<path class="k14" opacity=".5" stroke-width="1" d="M136.7 130.2h0M135.4 129.8h0M135.3 144.5h0"/>
<path class="k9" opacity=".4" stroke-width="3.5" d="M168.2 75.1h0M98.5 103.7h0M159.6 114.0h0M107.7 114.9h0M108.8 116.2h0M162.9 75.4h0M170.2 113.4h0M106.5 103.9h0M113.8 122.3h0M105.7 96.5h0M106.0 111.6h0M106.2 95.3h0M96.5 94.9h0M111.5 92.1h0M104.6 93.8h0M105.4 87.8h0M117.2 96.4h0M109.8 114.1h0M163.6 83.7h0M108.9 124.8h0M172.1 80.3h0M100.8 101.7h0M168.3 87.4h0"/>
<path class="k24" opacity=".3" stroke-width="6.5" d="M210.3 47.6h0M59.8 94.4h0"/>
<path class="k2" opacity=".6" stroke-width="3" d="M109.9 151.1h0M108.2 159.0h0M150.9 156.7h0M118.3 151.1h0M113.2 152.3h0"/>
<path class="k2" opacity=".3" stroke-width="2" d="M127.9 108.5h0"/>
<path class="k12" opacity=".4" stroke-width="2" d="M142.5 69.8h0M146.7 79.5h0M140.9 69.2h0M127.8 59.1h0M125.8 81.5h0M143.2 83.8h0M144.5 69.3h0"/>
<path class="k3" opacity=".2" stroke-width="5" d="M79.0 115.1h0M195.0 118.3h0"/>
<path class="k0" opacity=".2" stroke-width="4.5" d="M193.0 115.9h0"/>
<path class="k5" opacity=".3" stroke-width="3.5" d="M173.7 89.6h0"/>
<path class="k12" opacity=".3" stroke-width="4.5" d="M96.5 75.9h0M186.3 90.7h0M88.9 72.2h0M185.6 73.6h0M190.2 78.3h0"/>
<path class="k28" opacity=".3" stroke-width="6.5" d="M63.0 118.1h0"/>
<path class="k19" opacity=".6" stroke-width="6" d="M72.6 140.4h0M57.8 156.6h0M67.4 148.3h0"/>
<path class="k27" opacity=".4" stroke-width="2.5" d="M127.1 103.7h0M152.2 75.3h0M120.0 92.3h0M149.5 80.1h0M121.9 95.5h0M122.5 97.7h0M148.6 87.3h0M124.4 103.3h0M146.5 109.7h0M125.0 120.6h0M120.2 91.8h0M123.0 95.4h0M127.7 96.2h0M125.6 102.8h0M121.2 95.0h0M124.9 118.2h0M128.5 94.7h0M122.4 100.2h0M119.2 114.4h0M126.6 93.5h0M148.4 113.7h0M125.1 114.0h0M119.8 128.7h0M152.3 119.6h0M126.5 129.3h0M127.1 94.0h0M126.9 112.8h0M123.4 103.1h0M149.2 112.4h0M125.9 115.4h0M144.9 83.4h0M129.4 125.1h0M145.6 75.6h0M150.9 115.5h0M127.5 117.6h0M118.3 111.0h0M117.7 97.0h0M145.1 115.7h0M146.1 93.9h0M123.6 129.1h0M150.5 113.7h0M148.1 128.8h0M121.5 115.4h0M149.4 152.1h0"/>
<path class="k4" opacity=".6" stroke-width="4.5" d="M184.9 35.5h0"/>
<path class="k23" opacity=".5" stroke-width="4" d="M180.2 43.8h0M177.2 64.8h0M105.2 85.0h0M174.1 70.4h0M174.3 60.9h0M106.1 82.1h0"/>
<path class="k14" opacity=".6" stroke-width="2" d="M127.0 158.4h0M132.4 164.3h0"/>
<path class="k25" opacity=".5" stroke-width="2" d="M127.8 137.7h0"/>
<path class="k17" opacity=".6" stroke-width="4" d="M173.5 41.8h0M173.5 46.2h0"/>
<path class="k3" opacity=".7" stroke-width="3.5" d="M114.4 171.7h0M106.8 170.4h0M102.7 170.7h0M107.7 175.4h0M114.5 184.5h0M109.8 189.7h0"/>
<path class="k22" opacity=".4" stroke-width="2" d="M129.9 93.8h0M125.0 94.1h0M132.0 86.0h0M132.0 101.9h0M132.1 102.6h0M146.9 89.6h0M128.0 97.1h0M144.2 110.3h0M127.8 92.6h0M131.8 92.0h0M132.1 94.2h0M131.9 90.3h0M129.7 88.2h0M141.2 90.5h0M142.3 132.3h0M130.9 121.6h0M130.5 114.7h0M142.7 96.0h0M141.7 112.3h0M142.7 116.0h0M128.5 111.5h0M141.2 122.0h0M131.7 121.5h0M140.5 110.7h0M125.7 113.0h0M130.0 86.1h0M130.3 126.7h0M131.4 110.0h0M127.6 98.7h0M143.4 89.0h0M144.1 94.7h0M127.5 100.5h0M145.1 88.9h0M130.7 86.7h0M129.1 94.2h0M127.9 103.1h0M142.7 77.3h0M142.3 119.4h0M130.1 118.8h0M146.1 114.3h0M145.9 87.4h0"/>
<path class="k3" opacity=".3" stroke-width="3" d="M161.9 158.4h0M122.6 108.5h0M122.6 105.0h0"/>
<path class="k13" opacity=".2" stroke-width="4.5" d="M193.8 98.2h0M97.4 54.1h0M84.5 70.4h0"/>
<path class="k13" opacity=".3" stroke-width="2.5" d="M146.6 95.5h0M143.1 91.3h0M123.1 105.6h0M146.9 99.9h0M124.7 98.8h0M145.1 102.5h0M152.2 98.7h0M124.4 105.5h0M147.0 91.4h0M150.8 93.8h0M148.3 109.9h0M144.0 105.2h0M153.8 106.7h0M148.3 103.4h0M128.7 108.4h0M148.9 88.3h0M148.7 102.2h0M121.7 106.3h0M145.0 99.3h0M126.6 106.0h0M149.7 84.0h0M150.9 151.3h0"/>
<path class="k9" opacity=".1" stroke-width="3" d="M115.0 55.1h0"/>
<path class="k24" opacity=".6" stroke-width="2" d="M141.2 55.9h0"/>
<path class="k6" opacity=".3" stroke-width="4.5" d="M79.4 128.6h0"/>
<path class="k10" opacity=".5" stroke-width="3.5" d="M99.8 133.6h0"/>
<path class="k0" opacity=".5" stroke-width="4.5" d="M174.7 135.3h0M182.2 130.5h0M83.4 146.3h0M90.1 142.1h0M91.1 141.7h0M94.8 136.9h0M74.0 157.7h0M93.4 136.8h0M81.1 144.8h0M94.4 140.6h0M91.1 130.8h0M86.8 154.8h0M91.8 134.1h0M99.9 137.3h0M80.7 140.7h0M178.7 122.3h0M176.8 140.3h0M79.3 151.4h0M88.2 135.9h0M89.2 151.5h0M92.1 145.9h0M99.4 147.5h0M89.3 146.9h0M74.8 144.5h0M89.7 140.7h0M176.9 135.1h0M91.0 133.0h0M90.6 127.2h0M175.4 139.9h0"/>
<path class="k15" opacity=".3" stroke-width="6.5" d="M53.5 125.7h0"/>
<path class="k10" opacity=".4" stroke-width="3" d="M150.2 110.7h0M117.2 110.4h0M158.2 77.9h0M122.2 111.2h0M117.8 96.1h0M112.6 98.8h0M112.8 102.1h0M120.0 123.6h0M109.0 115.0h0M114.8 118.2h0M106.2 90.6h0M123.0 90.5h0"/>
<path class="k31" opacity=".3" stroke-width="2.5" d="M148.8 83.6h0M123.6 100.1h0M151.4 94.6h0M151.4 94.6h0M125.5 106.7h0M151.1 106.1h0M146.0 104.6h0M152.8 95.1h0M150.3 89.7h0M147.9 107.7h0M146.0 103.0h0M145.7 105.9h0M149.5 102.4h0M149.7 97.8h0M147.3 99.3h0M153.1 109.0h0M144.9 96.8h0M154.9 97.4h0M147.1 92.2h0M122.5 106.7h0M145.9 100.7h0M153.7 105.8h0M150.1 87.5h0M146.6 106.2h0M143.8 81.5h0M142.9 93.0h0M123.3 49.8h0M149.9 107.1h0M153.0 107.4h0"/>
<path class="k19" opacity=".4" stroke-width="3.5" d="M166.7 149.4h0M162.2 118.8h0M161.8 132.9h0M112.6 123.5h0M113.2 117.4h0"/>
<path class="k28" opacity=".6" stroke-width="5.5" d="M60.4 154.6h0M63.3 148.4h0M61.2 166.5h0M65.8 149.7h0"/>
<path class="k8" opacity=".7" stroke-width="2.5" d="M125.7 160.5h0M116.6 172.9h0M147.0 171.1h0M122.4 168.0h0M143.5 154.2h0M144.4 160.4h0M125.1 154.1h0M146.3 150.7h0M128.8 167.7h0"/>
<path class="k11" opacity=".2" stroke-width="7" d="M56.3 113.2h0"/>
<path class="k27" opacity=".4" stroke-width="5" d="M198.3 123.3h0M178.9 78.2h0M86.7 94.6h0M202.5 160.0h0M84.5 96.3h0"/>
<path class="k29" opacity=".6" stroke-width="5.5" d="M69.0 144.8h0"/>
<path class="k23" opacity=".4" stroke-width="4" d="M169.9 60.7h0M178.9 67.2h0M173.7 71.0h0M101.8 75.4h0M108.9 84.1h0M179.2 66.5h0M165.4 73.2h0M104.4 91.9h0M179.0 68.0h0M103.4 89.3h0"/>
<path class="k6" opacity=".5" stroke-width="2" d="M144.1 142.5h0M142.8 132.3h0M133.2 132.7h0M130.4 148.2h0M142.1 141.3h0M130.9 141.5h0M132.0 133.2h0M143.2 135.5h0M130.6 133.1h0M130.8 141.9h0M141.8 127.1h0M129.0 132.4h0M143.1 132.4h0M132.0 129.0h0M130.4 137.7h0"/>
<path class="k19" opacity=".2" stroke-width="4.5" d="M190.2 157.7h0M197.4 148.7h0"/>
<path class="k27" opacity=".5" stroke-width="2" d="M131.8 79.4h0M132.2 79.1h0M126.8 56.8h0M144.4 151.3h0M131.4 62.9h0M129.9 86.5h0M126.5 88.8h0M131.8 58.2h0M139.9 74.5h0M145.6 74.1h0M131.4 73.4h0M131.5 128.9h0M142.8 54.0h0"/>
<path class="k29" opacity=".4" stroke-width="2.5" d="M147.5 75.1h0M121.9 118.0h0M117.0 91.6h0M144.6 111.3h0M145.3 111.9h0M127.1 121.6h0M120.9 88.6h0M128.7 86.1h0M125.7 115.7h0M123.2 100.5h0M123.5 103.8h0M149.5 98.2h0M119.5 95.7h0M144.4 84.1h0M144.7 120.5h0M122.1 102.0h0M146.6 89.5h0M150.4 80.7h0M126.9 103.5h0M124.7 127.3h0M125.5 93.7h0M128.6 101.2h0M148.0 113.0h0M149.7 124.2h0M120.1 87.2h0M123.4 98.6h0M148.3 115.2h0M147.0 116.1h0M126.5 101.4h0M127.1 121.0h0M121.9 87.8h0M124.2 123.2h0M125.2 99.4h0M147.5 85.0h0M124.1 116.1h0M144.9 115.0h0M152.5 118.2h0M119.6 90.1h0M119.9 120.4h0M145.9 123.7h0M144.9 95.3h0M149.7 110.4h0M146.1 119.2h0M150.3 84.7h0M125.6 102.5h0M124.5 120.5h0M124.3 114.1h0M127.7 114.2h0M149.0 121.1h0M122.0 79.9h0M119.2 123.3h0M123.3 102.2h0M126.6 110.5h0M125.1 110.4h0M124.0 124.5h0M148.1 110.1h0M147.6 97.9h0M149.5 93.9h0M145.8 72.2h0M127.6 97.9h0M124.1 103.0h0M147.9 80.2h0"/>
<path class="k29" opacity=".5" stroke-width="4.5" d="M89.4 133.8h0"/>
<path class="k1" opacity=".8" stroke-width="5" d="M61.0 193.4h0"/>
<path class="k24" opacity=".4" stroke-width="4.5" d="M183.4 49.1h0M187.4 54.4h0M185.1 70.4h0M184.6 49.6h0M183.8 76.8h0M180.5 56.4h0M177.8 63.5h0M179.6 64.4h0M177.5 77.3h0M180.2 49.7h0M191.0 38.7h0"/>
<path class="k32" opacity=".3" stroke-width="2.5" d="M126.4 55.8h0M125.0 51.7h0M149.6 86.5h0"/>
<path class="k32" opacity=".4" stroke-width="3" d="M165.3 70.3h0M114.4 66.7h0M121.9 85.7h0M149.8 67.5h0M120.3 85.4h0M155.9 68.0h0M160.3 68.9h0M115.9 70.3h0"/>
<path class="k10" opacity=".2" stroke-width="5" d="M75.5 109.8h0M206.0 115.9h0M66.2 101.0h0M198.8 109.6h0"/>
<path class="k27" opacity=".2" stroke-width="5.5" d="M80.6 68.9h0M207.8 99.5h0M77.0 111.0h0M79.5 66.2h0M208.9 102.2h0M204.7 106.2h0M196.8 136.4h0M197.2 93.1h0M75.3 82.5h0"/>
<path class="k10" opacity=".3" stroke-width="4.5" d="M174.9 98.6h0M176.6 87.6h0"/>
<path class="k27" opacity=".2" stroke-width="1.5" d="M140.7 40.8h0"/>
<path class="k17" opacity=".4" stroke-width="2" d="M141.4 76.6h0M141.3 78.3h0M141.8 64.9h0M133.3 91.8h0M130.6 81.0h0M129.6 80.4h0M129.8 94.4h0M131.5 84.2h0M131.8 86.0h0M141.1 70.4h0M127.1 86.9h0M129.5 85.2h0M142.9 82.4h0"/>
<path class="k15" opacity=".3" stroke-width="3.5" d="M159.0 106.3h0M164.3 102.1h0M166.7 102.9h0M103.0 107.2h0M162.4 90.1h0M168.7 104.7h0M161.8 102.5h0M114.0 105.4h0M170.0 86.5h0M165.3 102.9h0M109.3 106.1h0M155.7 84.8h0M157.3 94.8h0M167.9 102.8h0M109.5 108.4h0M160.6 103.4h0M168.7 106.8h0M162.9 95.0h0M110.9 64.3h0M175.9 105.7h0"/>
<path class="k23" opacity=".3" stroke-width="4.5" d="M174.1 77.8h0M190.5 54.2h0M96.1 68.3h0M176.3 97.7h0M185.3 66.0h0M100.6 72.0h0M173.2 99.4h0"/>
<path class="k29" opacity=".3" stroke-width="6.5" d="M61.3 125.0h0"/>
<path class="k31" opacity=".5" stroke-width="4" d="M110.4 80.6h0M87.0 124.2h0M174.6 60.8h0M104.7 127.8h0M106.4 133.1h0M107.2 129.5h0M106.1 87.5h0"/>
<path class="k32" opacity=".2" stroke-width="3" d="M118.5 53.8h0M124.4 45.2h0"/>
<path class="k2" opacity=".7" stroke-width="3.5" d="M113.0 156.0h0M106.0 156.6h0M109.8 189.9h0M106.2 166.0h0M170.5 159.8h0"/>
<path class="k10" opacity=".3" stroke-width="1.5" d="M137.4 82.5h0M139.7 90.2h0"/>
<path class="k21" opacity=".4" stroke-width="4" d="M187.5 57.1h0M180.5 81.5h0M168.5 75.8h0M171.5 76.5h0M176.0 78.5h0M168.1 66.2h0M166.9 56.0h0M171.8 68.9h0M166.5 63.9h0M164.7 73.5h0M165.2 50.1h0M180.4 34.4h0M173.9 56.8h0M175.3 65.4h0"/>
<path class="k5" opacity=".5" stroke-width="4" d="M176.2 64.8h0M169.5 43.9h0M167.7 31.8h0M173.8 52.5h0M165.0 60.4h0M165.3 46.1h0M177.4 53.8h0M177.2 65.6h0M172.9 50.9h0M165.0 47.7h0M174.7 56.7h0M170.6 57.0h0M183.2 65.2h0M178.6 48.9h0"/>
<path class="k18" opacity=".3" stroke-width="5" d="M82.9 105.5h0M180.5 96.0h0M185.6 102.4h0M191.8 93.1h0M185.9 121.9h0M178.9 76.6h0M185.4 69.5h0M187.6 123.0h0M184.9 87.6h0"/>
<path class="k9" opacity=".2" stroke-width="6.5" d="M64.8 92.5h0"/>
<path class="k12" opacity=".2" stroke-width="4" d="M97.2 64.1h0"/>
<path class="k31" opacity=".4" stroke-width="4" d="M170.7 85.5h0M101.2 101.5h0M102.4 122.6h0M167.3 82.0h0M166.9 114.0h0M98.2 101.6h0M99.7 100.3h0M87.2 118.5h0M104.4 118.9h0M99.5 98.3h0M91.1 90.9h0M106.1 101.3h0M164.9 109.8h0M96.0 87.6h0M103.6 96.3h0M86.8 102.9h0M174.2 119.1h0M170.4 114.5h0M171.1 121.5h0M91.9 87.1h0M98.1 127.6h0M98.2 102.4h0M90.3 121.3h0M101.7 116.1h0M102.5 116.2h0"/>
<path class="k14" opacity=".6" stroke-width="3" d="M115.2 159.0h0M113.7 144.5h0M110.2 159.4h0"/>
<path class="k31" opacity=".3" stroke-width="1.5" d="M138.9 109.4h0M138.7 103.2h0M138.7 104.8h0M138.4 88.6h0M137.8 104.3h0M139.1 104.9h0M133.4 104.9h0M138.7 89.6h0M139.4 94.3h0M138.8 95.0h0M138.7 91.1h0M140.2 102.1h0M137.3 87.4h0"/>
<path class="k13" opacity=".5" stroke-width="3.5" d="M165.6 127.9h0M116.4 80.1h0M105.9 125.9h0M109.0 127.5h0M167.4 128.9h0M157.9 125.3h0"/>
<path class="k9" opacity=".3" stroke-width="2" d="M131.6 109.5h0M131.5 97.9h0M132.5 107.5h0M142.0 96.7h0M145.5 99.4h0M142.3 109.3h0M143.6 92.5h0M140.8 84.5h0M144.8 102.2h0M141.9 100.3h0M140.7 102.6h0M128.1 107.5h0M143.4 108.8h0M129.0 101.5h0M143.4 103.3h0M142.5 90.5h0M129.6 104.9h0M145.4 92.2h0M129.6 100.2h0M130.3 101.9h0M127.4 105.5h0M143.9 109.1h0"/>
<path class="k30" opacity=".2" stroke-width="5.5" d="M211.3 71.8h0M81.4 61.5h0"/>
<path class="k19" opacity=".5" stroke-width="2.5" d="M125.8 145.0h0M149.5 148.8h0M129.0 127.5h0M126.1 134.9h0M147.1 129.0h0M146.0 132.5h0M145.1 132.8h0M127.0 158.6h0M124.5 146.4h0M120.9 141.0h0M124.1 138.6h0"/>
<path class="k9" opacity=".4" stroke-width="1" d="M136.3 91.9h0M135.5 98.6h0M137.0 116.5h0M135.7 100.7h0"/>
<path class="k24" opacity=".1" stroke-width="5" d="M79.5 72.1h0M80.0 90.4h0"/>
<path class="k2" opacity=".8" stroke-width="6" d="M71.8 184.1h0M70.9 164.6h0"/>
<path class="k5" opacity=".1" stroke-width="4.5" d="M197.4 81.0h0"/>
<path class="k30" opacity=".4" stroke-width="3" d="M151.8 74.6h0M114.5 68.6h0M156.4 66.0h0M156.0 75.1h0M148.3 73.7h0M150.3 63.7h0M159.6 67.8h0M156.9 75.8h0M150.6 78.6h0"/>
<path class="k32" opacity=".4" stroke-width="3.5" d="M167.2 66.7h0M161.4 73.2h0M155.4 69.2h0M107.0 71.0h0M157.3 56.0h0M165.4 70.3h0M111.2 74.3h0"/>
<path class="k32" opacity=".3" stroke-width="4" d="M100.6 68.5h0M166.7 86.3h0"/>
<path class="k30" opacity=".3" stroke-width="2" d="M142.1 91.9h0"/>
<path class="k8" opacity=".6" stroke-width="5.5" d="M74.6 153.4h0M78.2 156.0h0M81.2 140.3h0M69.3 178.4h0M71.1 144.8h0"/>
<path class="k13" opacity=".3" stroke-width="1" d="M136.4 101.3h0M136.9 104.7h0"/>
<path class="k0" opacity=".4" stroke-width="4" d="M107.6 127.0h0M88.3 117.6h0M108.0 121.2h0M168.8 111.4h0M104.2 111.9h0M97.0 122.2h0M176.7 113.5h0M93.5 121.7h0M104.4 132.6h0M107.3 127.3h0M104.2 131.8h0M169.6 127.3h0M100.3 123.0h0M92.2 131.3h0M103.2 128.5h0M105.5 109.6h0M99.5 125.3h0M99.6 132.8h0M97.8 118.9h0M91.6 121.7h0M92.3 118.0h0M101.8 125.8h0"/>
<path class="k5" opacity=".4" stroke-width="2" d="M141.8 78.7h0M142.9 83.1h0M142.2 67.7h0M144.6 82.9h0M128.8 82.1h0M148.4 53.2h0M127.1 84.2h0M142.3 77.2h0M141.8 67.8h0M142.9 51.4h0M141.1 72.2h0"/>
<path class="k8" opacity=".4" stroke-width="2.5" d="M146.6 150.6h0M149.3 117.3h0M123.8 131.7h0M124.1 127.9h0M123.9 128.2h0M152.8 122.4h0M149.4 152.6h0M147.5 124.3h0M147.1 156.3h0M148.3 130.9h0M151.7 125.1h0M150.2 119.7h0M122.1 122.9h0M125.6 133.2h0"/>
<path class="k32" opacity=".5" stroke-width="1" d="M136.6 61.0h0M135.9 58.9h0"/>
<path class="k19" opacity=".7" stroke-width="6.5" d="M50.7 175.9h0"/>
<path class="k8" opacity=".7" stroke-width="3" d="M119.0 161.2h0M152.9 170.7h0M121.2 181.8h0M151.6 157.8h0M108.6 161.9h0"/>
<path class="k13" opacity=".1" stroke-width="2.5" d="M127.2 61.5h0"/>
<path class="k3" opacity=".5" stroke-width="6.5" d="M68.1 142.0h0"/>
<path class="k0" opacity=".6" stroke-width="1" d="M136.0 160.3h0M135.6 159.4h0M136.7 144.2h0M135.5 139.8h0M135.9 161.2h0"/>
<path class="k5" opacity=".5" stroke-width="2.5" d="M157.3 56.7h0M126.7 78.3h0M147.4 41.1h0M158.0 35.5h0M149.7 62.5h0M159.2 48.1h0M152.5 49.4h0M147.6 60.6h0M127.0 75.7h0"/>
<path class="k30" opacity=".3" stroke-width="3.5" d="M162.2 91.0h0M170.8 90.8h0"/>
<path class="k0" opacity=".8" stroke-width="4.5" d="M93.5 184.1h0M84.0 206.0h0M99.4 186.1h0M83.2 166.5h0M83.8 166.9h0M92.6 188.3h0M89.1 175.3h0M90.8 170.6h0M85.8 186.2h0"/>
<path class="k10" opacity=".3" stroke-width="4" d="M170.5 86.6h0M167.7 96.6h0M168.5 88.5h0M165.1 102.3h0M172.3 91.2h0"/>
<path class="k24" opacity=".5" stroke-width="1.5" d="M134.2 60.9h0M134.7 75.8h0M133.8 80.2h0M139.4 67.8h0M133.8 61.0h0M135.0 59.7h0M135.0 88.4h0M139.8 80.1h0"/>
<path class="k32" opacity=".4" stroke-width="5" d="M180.8 56.2h0"/>
<path class="k26" opacity=".4" stroke-width="5.5" d="M197.6 33.8h0M196.1 40.2h0M199.9 40.4h0"/>
<path class="k22" opacity=".5" stroke-width="1.5" d="M138.7 128.9h0M134.3 80.7h0M133.6 71.2h0"/>
<path class="k8" opacity=".5" stroke-width="4.5" d="M90.7 132.7h0M92.4 146.8h0M85.1 146.3h0M82.1 142.6h0M84.4 134.8h0M180.9 122.8h0M78.1 155.8h0M96.9 132.1h0M91.2 131.4h0M91.2 147.0h0M97.2 151.8h0M95.8 143.3h0M97.0 146.6h0M100.0 148.4h0"/>
<path class="k1" opacity=".8" stroke-width="6" d="M63.6 174.6h0"/>
<path class="k15" opacity=".2" stroke-width="6.5" d="M58.2 104.4h0M206.9 92.6h0M59.7 101.3h0"/>
<path class="k14" opacity=".6" stroke-width="3.5" d="M110.3 156.9h0M99.3 157.4h0M104.7 145.5h0"/>
<path class="k22" opacity=".4" stroke-width="4" d="M100.2 91.6h0M107.2 121.7h0M92.5 125.7h0M178.3 122.3h0M100.3 119.1h0M90.3 116.5h0M99.5 112.3h0M172.3 117.0h0M104.4 115.4h0M91.3 119.3h0M181.7 110.2h0M174.8 113.3h0M99.6 119.9h0M166.7 127.8h0M99.3 115.4h0M102.7 90.0h0M101.4 120.1h0M100.5 113.8h0M95.0 100.5h0M180.0 121.1h0M106.1 103.5h0M102.7 112.3h0M166.8 120.9h0M93.8 111.1h0M95.0 103.3h0M104.0 90.9h0M97.6 81.3h0M106.2 94.5h0M90.5 119.5h0M181.8 119.7h0M102.3 96.3h0M99.1 116.9h0M174.0 112.6h0M98.8 98.8h0M95.8 120.0h0M86.6 121.9h0M97.3 119.2h0M99.1 101.4h0M169.1 119.4h0M174.3 122.1h0M94.1 114.1h0M93.4 116.1h0M171.0 115.5h0M101.7 113.7h0M170.3 82.7h0M172.2 119.6h0M89.0 115.5h0M92.6 118.8h0"/>
<path class="k32" opacity=".1" stroke-width="2.5" d="M125.0 56.1h0"/>
<path class="k9" opacity=".3" stroke-width="5" d="M183.1 91.4h0M187.1 108.7h0M189.3 81.3h0M191.0 119.7h0M198.1 128.1h0M83.5 106.0h0M181.7 104.6h0M201.3 143.3h0"/>
<path class="k30" opacity=".3" stroke-width="6" d="M209.7 67.3h0M196.0 56.4h0"/>
<path class="k18" opacity=".6" stroke-width="2.5" d="M144.3 65.6h0"/>
<path class="k15" opacity=".3" stroke-width="5.5" d="M77.1 80.7h0M71.5 123.2h0M190.1 102.1h0"/>
<path class="k29" opacity=".5" stroke-width="2" d="M131.7 81.9h0M133.4 78.5h0M129.9 73.7h0M131.4 86.1h0M129.6 77.9h0"/>
<path class="k2" opacity=".8" stroke-width="5.5" d="M62.1 194.7h0M62.3 187.0h0M64.7 200.0h0M78.5 181.0h0M70.8 174.0h0"/>
<path class="k27" opacity=".5" stroke-width="4" d="M99.9 137.0h0M102.0 131.5h0M99.0 129.6h0M102.8 131.3h0M95.5 133.0h0"/>
<path class="k27" opacity=".2" stroke-width="5" d="M198.2 73.7h0M206.9 148.2h0M84.4 65.8h0M189.0 153.3h0M196.3 141.6h0M91.9 65.4h0M193.2 101.6h0M204.8 98.6h0M69.4 76.8h0M91.3 66.7h0"/>
<path class="k31" opacity=".4" stroke-width="4.5" d="M86.3 120.9h0M99.1 93.8h0M81.5 125.2h0M82.4 93.1h0M173.8 117.2h0M95.9 120.3h0M83.9 113.4h0M88.2 103.7h0M87.0 114.0h0M91.7 116.0h0M183.1 116.5h0"/>
<path class="k5" opacity=".5" stroke-width="3" d="M158.3 38.3h0M157.5 52.1h0M160.7 48.8h0M153.5 48.3h0M162.6 64.0h0M151.2 43.0h0M148.9 45.8h0M159.2 67.2h0M156.7 51.0h0M165.9 65.3h0M156.0 48.9h0M154.8 71.5h0M167.9 53.7h0"/>
<path class="k26" opacity=".5" stroke-width="3" d="M160.5 54.6h0M155.7 55.2h0M159.1 69.5h0M122.1 75.0h0M156.2 57.9h0M117.3 70.5h0M152.6 39.2h0M151.8 62.8h0M151.5 69.7h0M152.2 80.4h0M162.9 31.1h0M157.4 72.0h0M153.4 60.5h0"/>
<path class="k26" opacity=".2" stroke-width="2.5" d="M124.6 44.7h0"/>
<path class="k19" opacity=".7" stroke-width="4.5" d="M84.5 160.4h0M90.2 149.8h0M87.0 163.7h0"/>
<path class="k13" opacity=".5" stroke-width="2.5" d="M124.3 132.1h0M124.5 126.9h0M146.9 124.5h0M129.2 82.7h0M125.1 127.7h0"/>
<path class="k23" opacity=".5" stroke-width="3.5" d="M162.1 40.0h0M104.8 80.2h0M112.5 73.9h0M159.5 59.5h0M163.5 57.8h0M160.5 67.8h0M171.0 57.2h0M157.2 67.5h0M170.1 52.6h0M115.7 86.6h0M163.2 64.2h0M100.2 80.8h0M170.5 62.7h0M112.3 71.8h0M160.7 41.9h0M116.5 73.1h0"/>
<path class="k32" opacity=".4" stroke-width="1.5" d="M139.9 68.9h0M135.1 99.7h0M138.3 67.0h0M139.9 62.4h0M133.8 94.1h0M140.1 74.9h0"/>
<path class="k27" opacity=".1" stroke-width="5" d="M79.6 86.3h0"/>
<path class="k8" opacity=".8" stroke-width="3" d="M113.9 185.4h0M115.6 165.9h0M120.3 173.5h0"/>
<path class="k3" opacity=".3" stroke-width="6.5" d="M56.5 135.3h0"/>
<path class="k17" opacity=".4" stroke-width="5" d="M197.9 57.9h0M194.1 34.2h0M180.5 71.6h0"/>
<path class="k26" opacity=".6" stroke-width="2.5" d="M161.2 49.0h0M153.9 35.5h0"/>
<path class="k2" opacity=".6" stroke-width="5.5" d="M67.6 153.0h0M75.8 143.7h0M70.7 147.7h0"/>
<path class="k22" opacity=".2" stroke-width="6" d="M201.5 97.7h0M204.1 98.3h0M71.7 85.9h0"/>
<path class="k26" opacity=".4" stroke-width="4.5" d="M178.9 77.4h0M178.9 66.5h0M190.2 41.3h0M175.3 82.2h0M178.6 71.8h0M172.9 55.0h0M177.7 56.8h0M175.0 70.8h0M177.8 56.3h0M180.4 73.6h0M196.4 46.8h0M172.5 85.9h0M196.1 50.8h0M179.9 60.3h0"/>
<path class="k17" opacity=".1" stroke-width="6" d="M61.9 79.3h0"/>
<path class="k29" opacity=".4" stroke-width="1.5" d="M132.6 94.9h0M133.9 94.6h0M133.6 92.0h0M138.7 92.3h0M133.0 100.1h0M134.0 96.6h0M134.6 100.7h0M132.8 89.3h0M133.5 118.5h0M131.8 111.9h0M140.5 112.0h0M140.5 129.4h0M133.7 97.0h0M135.5 89.8h0M132.9 115.5h0M139.5 119.8h0M134.3 100.3h0M134.1 99.5h0M133.8 80.7h0M139.0 114.4h0M139.0 93.8h0M134.4 116.7h0M139.6 98.7h0M134.5 115.6h0M139.0 83.1h0M135.2 88.9h0M140.6 118.9h0M137.5 72.0h0M133.8 82.0h0"/>
<path class="k26" opacity=".3" stroke-width="1.5" d="M135.0 44.0h0"/>
<path class="k29" opacity=".2" stroke-width="5" d="M78.9 111.5h0M200.4 94.6h0M189.7 84.6h0M200.9 120.6h0"/>
<path class="k26" opacity=".2" stroke-width="4" d="M93.5 67.7h0"/>
<path class="k14" opacity=".5" stroke-width="3.5" d="M112.3 132.9h0M111.0 158.0h0M106.5 134.2h0M115.0 143.0h0M110.4 131.0h0M103.3 144.1h0M99.7 145.7h0"/>
<path class="k9" opacity=".3" stroke-width="7" d="M56.1 116.4h0"/>
<path class="k11" opacity=".5" stroke-width="5.5" d="M55.5 145.5h0M58.3 147.1h0"/>
<path class="k21" opacity=".4" stroke-width="5.5" d="M195.0 38.8h0M190.1 40.1h0M192.3 57.3h0"/>
<path class="k19" opacity=".5" stroke-width="4" d="M99.4 141.0h0M102.6 147.9h0M105.2 127.8h0M100.2 129.1h0M96.6 139.0h0M97.0 133.7h0M180.1 143.8h0M100.0 142.2h0M94.0 149.5h0M88.4 133.8h0M95.3 129.1h0M101.7 133.7h0M102.9 159.4h0M98.8 129.5h0M103.1 138.2h0M103.0 131.5h0M97.4 140.2h0M89.6 130.6h0M105.1 143.6h0"/>
<path class="k14" opacity=".4" stroke-width="4.5" d="M83.2 113.4h0M88.6 128.6h0"/>
<path class="k26" opacity=".5" stroke-width="2" d="M142.9 53.3h0M142.8 65.5h0M144.5 69.9h0M131.6 66.9h0M144.1 52.3h0M129.5 73.7h0M129.3 71.8h0M141.9 62.1h0M145.4 55.4h0M140.4 68.9h0M141.3 63.2h0M127.3 72.5h0M131.5 59.8h0M130.7 76.3h0M145.4 62.5h0"/>
<path class="k8" opacity=".7" stroke-width="1.5" d="M138.2 161.0h0"/>
<path class="k25" opacity=".6" stroke-width="1.5" d="M139.1 143.6h0"/>
<path class="k18" opacity=".2" stroke-width="6.5" d="M51.2 100.9h0"/>
<path class="k25" opacity=".6" stroke-width="2.5" d="M127.2 142.9h0"/>
<path class="k21" opacity=".3" stroke-width="6" d="M199.4 60.6h0"/>
<path class="k30" opacity=".4" stroke-width="5.5" d="M191.6 40.3h0"/>
<path class="k9" opacity=".2" stroke-width="5" d="M90.4 85.9h0M66.3 80.7h0M196.8 91.0h0M204.2 103.6h0"/>
<path class="k17" opacity=".6" stroke-width="3.5" d="M158.5 36.3h0"/>
<path class="k3" opacity=".4" stroke-width="5" d="M93.6 121.4h0M91.3 120.8h0M89.5 131.8h0M90.1 126.5h0M194.5 146.2h0M194.0 140.8h0M90.7 125.4h0M87.6 111.7h0"/>
<path class="k14" opacity=".7" stroke-width="1.5" d="M139.8 151.2h0"/>
<path class="k21" opacity=".7" stroke-width="2.5" d="M150.8 43.8h0"/>
<path class="k27" opacity=".4" stroke-width="3.5" d="M102.3 73.8h0M110.6 66.2h0M115.0 64.1h0M157.8 117.6h0M173.9 72.7h0M104.2 96.6h0M108.2 110.3h0M174.0 147.4h0M106.7 89.6h0M104.0 95.3h0M100.7 112.4h0M104.3 131.1h0M111.0 101.7h0M109.1 121.8h0M109.2 125.4h0M162.5 115.7h0M162.1 118.2h0M116.0 97.0h0M108.7 119.5h0M103.9 74.6h0M168.0 125.3h0M108.9 115.6h0M155.7 118.6h0M162.3 84.1h0M99.3 114.9h0M109.3 114.5h0M163.7 116.5h0M112.1 88.6h0M110.7 97.3h0M164.3 86.1h0"/>
<path class="k19" opacity=".5" stroke-width="2" d="M131.7 135.4h0M131.8 139.6h0M145.9 126.2h0M143.3 147.5h0M143.5 156.2h0M142.7 126.5h0M142.5 148.8h0"/>
<path class="k12" opacity=".5" stroke-width="4" d="M177.6 55.2h0M174.6 52.3h0"/>
<path class="k5" opacity=".3" stroke-width="5.5" d="M76.0 98.8h0M210.7 48.6h0M204.0 56.3h0M197.9 39.5h0M191.8 58.1h0"/>
<path class="k8" opacity=".8" stroke-width="5.5" d="M84.4 204.0h0"/>
<path class="k29" opacity=".5" stroke-width="2.5" d="M149.9 132.0h0M148.5 125.6h0M128.2 133.4h0M149.6 71.2h0M128.6 88.2h0M145.9 128.2h0M120.1 82.4h0M120.6 130.3h0"/>
<path class="k6" opacity=".6" stroke-width="5.5" d="M79.2 159.3h0"/>
<path class="k11" opacity=".3" stroke-width="5.5" d="M62.8 129.5h0M62.7 115.9h0M57.3 130.5h0M64.8 125.3h0M60.3 131.3h0M58.9 121.5h0"/>
<path class="k29" opacity=".3" stroke-width="2" d="M130.2 106.5h0M143.8 109.6h0M142.6 103.3h0M140.9 103.3h0M144.4 89.5h0M140.0 90.2h0M142.4 100.6h0M131.1 106.7h0M141.1 105.5h0M140.7 93.3h0M140.7 98.3h0M143.0 107.7h0M140.8 108.2h0M141.5 101.5h0M141.0 106.7h0M142.1 105.1h0M142.4 104.6h0M129.1 108.0h0M145.0 94.1h0M145.2 107.1h0M139.6 99.9h0M140.9 96.4h0M141.4 83.9h0M128.8 99.8h0M140.9 93.0h0M147.6 87.4h0M141.5 85.3h0M145.5 95.8h0M146.5 103.1h0M141.5 104.2h0M144.1 106.8h0M141.4 99.2h0M142.9 105.8h0M141.0 108.8h0"/>
<path class="k25" opacity=".6" stroke-width="4.5" d="M85.5 157.3h0"/>
<path class="k22" opacity=".4" stroke-width="3" d="M120.6 100.8h0M109.9 100.3h0M117.3 87.8h0M114.3 93.4h0M121.2 101.6h0M116.7 97.3h0M119.0 95.7h0M118.2 121.4h0M118.2 104.2h0M151.1 109.6h0M155.0 127.8h0M115.8 97.4h0M118.9 89.0h0M118.7 93.0h0M156.8 79.6h0M118.7 102.2h0M116.1 98.4h0M118.6 117.1h0M151.7 110.2h0M119.7 95.8h0M116.4 123.1h0M121.5 95.2h0M161.5 111.7h0M114.5 102.6h0M160.8 76.5h0M157.6 122.2h0M155.4 77.1h0M123.1 111.3h0M116.0 104.2h0M151.4 110.3h0M112.2 115.6h0M148.8 118.2h0M154.5 81.5h0M118.2 95.4h0M120.5 84.8h0M156.7 111.6h0M120.8 111.7h0M114.9 110.1h0M111.3 118.1h0M118.6 92.1h0M149.4 88.7h0M108.1 99.8h0M112.8 123.0h0M149.6 123.0h0M119.4 117.6h0M154.9 111.0h0M122.9 88.0h0M156.9 118.6h0M110.1 96.2h0M157.7 109.6h0M117.2 116.5h0M162.6 81.8h0M120.2 123.2h0M119.3 112.2h0M110.0 95.8h0M121.1 119.8h0M117.8 111.2h0M119.2 120.7h0M113.5 104.4h0M122.5 118.0h0M121.5 92.9h0M117.5 95.7h0M122.4 115.7h0M157.1 123.1h0M117.8 101.8h0M161.2 83.8h0M117.9 94.3h0M119.4 110.1h0M118.2 91.5h0M157.0 121.8h0"/>
<path class="k21" opacity=".5" stroke-width="4.5" d="M174.2 59.8h0M175.0 43.5h0M176.1 47.1h0M174.3 46.1h0M175.3 33.9h0M173.2 59.7h0M179.6 55.9h0"/>
<path class="k21" opacity=".5" stroke-width="1" d="M136.0 70.0h0"/>
<path class="k0" opacity=".5" stroke-width="3.5" d="M111.7 143.8h0M108.1 154.3h0M98.5 142.8h0M113.9 134.8h0M167.4 132.4h0M168.7 133.2h0M115.8 138.5h0M106.7 143.7h0M106.2 141.2h0M101.8 141.4h0M173.0 138.0h0M108.7 138.8h0M106.0 130.1h0M116.2 129.5h0M166.2 136.1h0M110.8 131.1h0M112.6 142.0h0M116.8 144.7h0M113.1 140.3h0M108.0 150.6h0M107.7 133.9h0M117.3 149.5h0M106.2 130.3h0M107.4 141.1h0M159.1 138.9h0M106.9 145.7h0M112.7 141.9h0M110.8 133.3h0M102.4 135.3h0M108.6 136.4h0M113.9 126.6h0M102.2 131.8h0M105.4 130.7h0M103.1 139.1h0M99.9 152.5h0M108.7 128.6h0M173.9 134.7h0M101.8 133.4h0M156.2 143.9h0M109.9 149.5h0M111.3 133.9h0M109.3 153.9h0M111.5 152.1h0M105.5 139.6h0M110.5 132.7h0M105.2 135.4h0M106.8 139.7h0M104.0 134.7h0M161.8 133.6h0M103.4 142.6h0M102.7 133.2h0M170.4 132.7h0M105.9 134.9h0M109.7 139.9h0"/>
<path class="k6" opacity=".8" stroke-width="3" d="M109.0 174.5h0"/>
<path class="k24" opacity=".2" stroke-width="5" d="M76.5 58.7h0M64.2 100.1h0M82.0 63.8h0"/>
<path class="k6" opacity=".3" stroke-width="5.5" d="M71.0 126.9h0"/>
<path class="k14" opacity=".6" stroke-width="6" d="M70.2 154.8h0"/>
<path class="k3" opacity=".7" stroke-width="5" d="M77.6 160.1h0M82.8 190.8h0M83.4 179.3h0M76.2 158.6h0M76.7 168.8h0M79.2 154.6h0M77.1 154.1h0M79.3 188.4h0M69.6 187.3h0M81.1 175.5h0M89.5 158.0h0M84.2 162.1h0M85.7 170.9h0M78.9 173.4h0"/>
<path class="k24" opacity=".2" stroke-width="7" d="M50.7 122.3h0"/>
<path class="k17" opacity=".1" stroke-width="5.5" d="M71.7 100.1h0M205.2 82.9h0"/>
<path class="k18" opacity=".4" stroke-width="3.5" d="M104.6 101.0h0M98.9 93.5h0M105.4 120.3h0M110.0 97.2h0M112.8 115.7h0M157.3 125.8h0M168.6 129.4h0M113.8 120.0h0M159.6 117.4h0M102.5 91.6h0M111.5 118.0h0M104.8 118.4h0M159.9 113.5h0M158.4 79.3h0M107.3 103.4h0M113.0 89.3h0M116.9 113.4h0M112.7 98.7h0M108.9 104.3h0M116.1 99.9h0M111.8 114.1h0M106.0 98.0h0M107.0 102.1h0M166.7 59.4h0M100.0 89.6h0M110.5 104.2h0M155.7 115.3h0M166.6 117.5h0M111.3 93.5h0M109.3 90.4h0M160.6 115.8h0M105.4 109.8h0M160.9 112.1h0M109.9 92.6h0M111.7 118.2h0M168.1 116.0h0M115.3 102.5h0M109.6 125.8h0M170.5 88.5h0"/>
<path class="k24" opacity=".4" stroke-width="3" d="M158.6 81.6h0M152.9 81.3h0M108.0 86.4h0M156.0 65.5h0M157.1 77.9h0M157.4 71.9h0"/>
<path class="k4" opacity=".4" stroke-width="1.5" d="M140.5 59.5h0"/>
<path class="k31" opacity=".5" stroke-width="3" d="M120.5 124.0h0M113.8 127.9h0M119.2 127.0h0M117.4 86.3h0M115.2 123.6h0M149.3 78.4h0M120.4 133.3h0M112.6 82.0h0"/>
<path class="k9" opacity=".1" stroke-width="5.5" d="M208.5 118.5h0M214.7 87.8h0M69.4 104.7h0M67.4 83.0h0"/>
<path class="k24" opacity=".6" stroke-width="1.5" d="M133.7 55.3h0"/>
<path class="k23" opacity=".4" stroke-width="3.5" d="M103.9 72.8h0M109.8 67.5h0M159.7 78.4h0M114.4 63.5h0M167.5 70.5h0M170.1 69.1h0M111.0 88.8h0M157.0 60.3h0M159.5 69.6h0M167.1 71.4h0M173.4 72.2h0M108.6 68.3h0M176.8 68.2h0M171.5 87.4h0M101.1 88.7h0"/>
<path class="k21" opacity=".4" stroke-width="1" d="M135.7 59.9h0"/>
<path class="k26" opacity=".3" stroke-width="2.5" d="M149.5 92.7h0M149.2 81.6h0M144.4 46.0h0"/>
<path class="k2" opacity=".8" stroke-width="2.5" d="M125.2 170.7h0"/>
<path class="k18" opacity=".5" stroke-width="1.5" d="M132.7 128.9h0M133.7 69.6h0M138.1 128.1h0"/>
<path class="k23" opacity=".2" stroke-width="3" d="M119.9 48.7h0M115.8 50.2h0M116.5 53.5h0"/>
<path class="k7" opacity=".7" stroke-width="7" d="M52.4 167.0h0"/>
<path class="k23" opacity=".3" stroke-width="5" d="M186.4 59.9h0M192.9 92.1h0M195.0 52.3h0M194.5 48.2h0M191.4 78.8h0M193.8 71.0h0M186.7 79.8h0"/>
<path class="k30" opacity=".6" stroke-width="3" d="M157.0 51.6h0"/>
<path class="k9" opacity=".1" stroke-width="7" d="M217.3 111.1h0"/>
<path class="k2" opacity=".5" stroke-width="5" d="M89.2 139.1h0M79.9 142.0h0M94.3 136.0h0"/>
<path class="k9" opacity=".3" stroke-width="2.5" d="M149.4 102.8h0M146.6 132.9h0M145.2 107.8h0M117.1 83.6h0M126.3 103.6h0M125.3 108.5h0M148.1 100.6h0M151.4 109.2h0M145.8 84.5h0M146.7 103.8h0M153.6 154.5h0M128.9 105.0h0M151.4 94.8h0M119.8 107.7h0M153.4 90.3h0M151.3 137.7h0M149.0 103.2h0M143.9 83.8h0M124.5 106.5h0M145.8 108.0h0M150.3 104.8h0M152.3 99.7h0M149.2 134.0h0M151.5 107.0h0M145.5 107.2h0M126.6 107.0h0M147.9 91.7h0"/>
<path class="k3" opacity=".2" stroke-width="4.5" d="M196.6 155.9h0"/>
<path class="k22" opacity=".4" stroke-width="5" d="M80.8 120.3h0M178.9 80.4h0M89.2 109.4h0M80.9 119.8h0M83.8 110.1h0M86.5 85.8h0M84.7 100.3h0M86.6 87.5h0M89.8 87.7h0M89.1 104.4h0M81.7 94.6h0"/>
<path class="k23" opacity=".4" stroke-width="3" d="M115.8 90.8h0M160.6 87.0h0M111.5 68.2h0M107.9 71.2h0M117.6 68.5h0M158.4 67.1h0M152.2 70.9h0M153.7 69.2h0M157.0 77.0h0M152.6 56.0h0M116.8 66.3h0M112.9 90.1h0M110.7 95.3h0M156.1 72.8h0M107.1 74.3h0M107.9 69.9h0M153.9 75.2h0M118.0 85.8h0M117.3 66.4h0M119.0 63.9h0"/>
<path class="k8" opacity=".3" stroke-width="2" d="M145.6 150.9h0M142.6 148.2h0"/>
<path class="k3" opacity=".4" stroke-width="4" d="M101.1 116.4h0M97.3 125.3h0M174.3 151.4h0M104.0 123.1h0M181.5 125.8h0M93.4 125.4h0M96.8 120.3h0M100.5 129.5h0M106.3 132.1h0M96.5 125.3h0M105.7 123.1h0M96.7 112.1h0"/>
<path class="k1" opacity=".3" stroke-width="6" d="M56.3 132.2h0M65.0 119.6h0M61.9 127.3h0"/>
<path class="k5" opacity=".6" stroke-width="3.5" d="M166.5 47.9h0M181.3 46.7h0M164.6 55.4h0M159.0 47.2h0M169.5 55.6h0M160.0 47.6h0M182.6 57.2h0M169.9 38.8h0M169.0 77.2h0M167.2 59.8h0M169.0 66.7h0"/>
<path class="k2" opacity=".5" stroke-width="5.5" d="M66.7 142.6h0M76.5 146.0h0"/>
<path class="k19" opacity=".4" stroke-width="4.5" d="M192.4 147.3h0M200.5 158.3h0M201.2 145.3h0"/>
<path class="k32" opacity=".5" stroke-width="3.5" d="M161.0 41.7h0M175.2 45.7h0M162.9 52.5h0M104.1 82.9h0M159.4 78.7h0"/>
<path class="k19" opacity=".5" stroke-width="4.5" d="M97.0 136.1h0M175.6 126.6h0M96.7 137.6h0M180.0 129.2h0M86.9 134.2h0M83.0 153.0h0M177.0 144.8h0M177.3 145.5h0M85.4 151.2h0"/>
<path class="k12" opacity=".3" stroke-width="4" d="M167.2 90.7h0M183.4 69.7h0M90.6 70.6h0"/>
<path class="k18" opacity=".5" stroke-width="3.5" d="M95.1 132.5h0M114.1 84.7h0M102.0 86.7h0M101.1 129.1h0M162.3 125.4h0M112.5 84.0h0"/>
<path class="k12" opacity=".3" stroke-width="3" d="M160.0 92.6h0M159.4 81.2h0M114.7 57.6h0M151.2 94.4h0"/>
<path class="k9" opacity=".2" stroke-width="4.5" d="M98.2 54.3h0M195.0 110.4h0M79.4 78.1h0M78.0 90.0h0"/>
<path class="k4" opacity=".6" stroke-width="4" d="M185.4 46.0h0M168.7 61.1h0M181.3 46.0h0"/>
<path class="k22" opacity=".6" stroke-width="1.5" d="M133.9 64.3h0"/>
<path class="k3" opacity=".6" stroke-width="6" d="M63.3 147.4h0M70.1 164.7h0M67.2 153.2h0M66.4 147.8h0M66.9 151.6h0M62.7 150.2h0M53.8 163.0h0"/>
<path class="k19" opacity=".4" stroke-width="5" d="M200.6 157.5h0M192.5 128.4h0M184.4 138.3h0"/>
<path class="k5" opacity=".4" stroke-width="4.5" d="M186.4 64.5h0M188.7 60.5h0M90.9 84.6h0M183.3 68.8h0M94.9 91.1h0M187.2 63.6h0M192.6 54.4h0M195.9 49.7h0M172.8 75.9h0M182.5 76.6h0M183.4 51.1h0M176.6 77.4h0M183.2 44.2h0"/>
<path class="k2" opacity=".8" stroke-width="3.5" d="M99.3 174.6h0"/>
<path class="k14" opacity=".7" stroke-width="5" d="M72.3 174.8h0M84.1 155.9h0"/>
<path class="k24" opacity=".5" stroke-width="2.5" d="M124.1 82.6h0M127.1 75.8h0M123.5 67.7h0M124.8 78.6h0M145.6 58.1h0M147.4 49.1h0"/>
<path class="k17" opacity=".2" stroke-width="4.5" d="M91.1 77.9h0M99.0 61.0h0"/>
<path class="k31" opacity=".2" stroke-width="5.5" d="M200.5 113.4h0M212.6 89.1h0M196.5 99.7h0M202.1 105.7h0M194.9 101.1h0M202.5 73.1h0"/>
<path class="k3" opacity=".7" stroke-width="2" d="M126.7 154.7h0M132.0 168.0h0M126.7 150.2h0"/>
<path class="k21" opacity=".3" stroke-width="5.5" d="M191.7 67.9h0"/>
<path class="k3" opacity=".8" stroke-width="4.5" d="M80.9 192.8h0M77.4 188.1h0M82.2 167.2h0M87.6 203.7h0M82.4 171.0h0M96.0 174.1h0M93.6 168.6h0M79.0 170.8h0M95.3 173.1h0M96.9 182.0h0M86.9 182.4h0M80.0 176.9h0M86.6 203.4h0"/>
<path class="k3" opacity=".7" stroke-width="4.5" d="M90.9 162.8h0M93.8 162.8h0M78.2 166.5h0M99.9 157.1h0M97.0 163.3h0M96.9 163.0h0M93.0 163.9h0M87.3 162.8h0M98.4 164.0h0M75.4 179.4h0M94.8 165.4h0M88.8 160.4h0M81.1 171.5h0M91.0 149.2h0M92.4 153.4h0M82.2 182.5h0M98.7 162.8h0"/>
<path class="k6" opacity=".7" stroke-width="5" d="M89.3 167.1h0M70.4 165.4h0"/>
<path class="k5" opacity=".3" stroke-width="6" d="M198.4 69.0h0M207.3 61.3h0"/>
<path class="k13" opacity=".4" stroke-width="6" d="M208.6 136.8h0"/>
<path class="k22" opacity=".5" stroke-width="4" d="M100.4 89.1h0M171.5 128.4h0M177.1 137.4h0M100.7 123.7h0M96.0 126.2h0M98.5 122.5h0M96.8 85.0h0M107.5 145.2h0"/>
<path class="k4" opacity=".4" stroke-width="4" d="M186.6 40.9h0"/>
<path class="k32" opacity=".5" stroke-width="2" d="M131.5 76.1h0M128.7 78.7h0M141.6 59.2h0M129.9 65.8h0M131.6 73.8h0"/>
<path class="k5" opacity=".3" stroke-width="2.5" d="M126.4 53.2h0M117.5 58.6h0M148.5 93.7h0"/>
<path class="k7" opacity=".8" stroke-width="6.5" d="M62.5 193.0h0"/>
<path class="k8" opacity=".5" stroke-width="4" d="M102.1 134.8h0M107.7 129.2h0M107.8 147.1h0M167.5 130.0h0M173.3 130.2h0M89.3 134.9h0M169.8 148.3h0M107.6 134.9h0M90.8 133.8h0M168.0 146.8h0M94.2 130.6h0M104.1 136.8h0M107.3 137.6h0M103.4 127.4h0M100.6 144.5h0M102.3 144.2h0"/>
<path class="k22" opacity=".5" stroke-width="4.5" d="M82.4 131.4h0M86.0 136.9h0M95.6 143.1h0M81.7 128.6h0M93.6 125.5h0"/>
<path class="k19" opacity=".7" stroke-width="3" d="M155.8 156.5h0M161.8 157.1h0"/>
<path class="k24" opacity=".4" stroke-width="3.5" d="M162.8 71.7h0M164.1 73.9h0M169.0 61.8h0M110.6 94.8h0M157.8 72.0h0"/>
<path class="k9" opacity=".5" stroke-width="2" d="M144.0 127.5h0M142.4 126.2h0M143.2 79.8h0M143.6 146.2h0M145.1 128.0h0M145.2 141.1h0M130.1 78.8h0M142.5 156.7h0"/>
<path class="k26" opacity=".1" stroke-width="6" d="M204.4 77.6h0"/>
<path class="k10" opacity=".5" stroke-width="3" d="M120.8 127.3h0M117.8 131.3h0M115.1 81.6h0"/>
<path class="k8" opacity=".3" stroke-width="6" d="M67.0 131.1h0M58.4 127.2h0"/>
<path class="k18" opacity=".5" stroke-width="4" d="M87.9 131.7h0M99.3 134.5h0M105.7 125.8h0"/>
<path class="k3" opacity=".7" stroke-width="6.5" d="M55.6 171.1h0"/>
<path class="k31" opacity=".6" stroke-width="2.5" d="M128.6 67.9h0"/>
<path class="k23" opacity=".5" stroke-width="4.5" d="M175.4 37.0h0M178.3 55.8h0M174.8 39.8h0M176.2 47.4h0M178.5 55.1h0M185.2 53.4h0"/>
<path class="k8" opacity=".7" stroke-width="2" d="M129.2 152.9h0"/>
<path class="k6" opacity=".6" stroke-width="3" d="M150.2 170.6h0M118.9 157.2h0M113.1 154.6h0"/>
<path class="k15" opacity=".3" stroke-width="4" d="M176.4 88.8h0M166.9 107.5h0M169.6 90.3h0M105.1 55.5h0M166.1 98.9h0M169.7 88.2h0M184.0 88.9h0M178.0 86.9h0M102.1 107.5h0M179.1 84.4h0M174.6 96.6h0M163.5 107.3h0M173.9 93.1h0M163.8 103.7h0M190.0 107.4h0"/>
<path class="k15" opacity=".5" stroke-width="3" d="M121.9 76.8h0M115.9 70.8h0M117.4 79.2h0M118.6 78.0h0M116.0 70.8h0M121.7 125.0h0"/>
<path class="k8" opacity=".4" stroke-width="2" d="M142.7 134.0h0M133.1 123.1h0M144.8 118.0h0M129.7 118.1h0M130.8 119.6h0M141.0 125.0h0M144.5 140.4h0M130.0 114.6h0M144.7 129.4h0M132.5 125.4h0M131.4 111.1h0M143.9 133.8h0M131.8 128.9h0M145.1 128.8h0M130.2 138.3h0M146.2 116.3h0"/>
<path class="k19" opacity=".3" stroke-width="3" d="M150.2 136.8h0M153.3 108.7h0"/>
<path class="k13" opacity=".6" stroke-width="4" d="M101.6 142.9h0M88.7 137.4h0"/>
<path class="k2" opacity=".3" stroke-width="4.5" d="M186.9 114.7h0M78.4 129.5h0M77.9 132.5h0M190.5 129.5h0"/>
<path class="k0" opacity=".5" stroke-width="1.5" d="M137.7 128.5h0M133.9 133.6h0M133.2 138.7h0M132.9 145.1h0M133.1 132.6h0M132.5 140.6h0M134.6 137.3h0M137.2 148.6h0M138.3 149.6h0M138.6 137.7h0M139.9 129.7h0M137.8 148.7h0M133.4 132.1h0M140.4 137.5h0M138.3 149.1h0M132.0 150.8h0M135.5 140.2h0M139.5 142.9h0M139.6 146.4h0M134.9 148.4h0"/>
<path class="k21" opacity=".5" stroke-width="2.5" d="M127.5 73.7h0M125.0 69.1h0M149.8 51.8h0M125.6 82.4h0M128.0 85.8h0M151.2 57.2h0M149.8 68.1h0M146.0 75.5h0M143.7 66.5h0"/>
<path class="k17" opacity=".3" stroke-width="3.5" d="M110.3 65.6h0M159.6 89.3h0M172.5 82.6h0M172.3 91.1h0"/>
<path class="k0" opacity=".8" stroke-width="4" d="M179.1 166.5h0M99.0 188.7h0M99.9 174.6h0M100.9 173.0h0M84.1 188.3h0M89.2 176.2h0M91.2 167.9h0M87.2 166.5h0M103.6 179.7h0M90.1 193.5h0M90.8 173.0h0M95.8 195.2h0M106.0 184.5h0"/>
<path class="k28" opacity=".2" stroke-width="5.5" d="M61.3 106.6h0"/>
<path class="k4" opacity=".6" stroke-width="3.5" d="M161.0 69.6h0"/>
<path class="k23" opacity=".7" stroke-width="4" d="M175.4 33.7h0"/>
<path class="k26" opacity=".6" stroke-width="4" d="M175.0 38.4h0M171.9 50.5h0M176.8 31.2h0M177.3 36.7h0M172.4 58.9h0M203.8 60.1h0M191.5 57.3h0M181.6 60.9h0M169.6 58.2h0"/>
<path class="k23" opacity=".5" stroke-width="1" d="M135.8 68.8h0M136.2 68.6h0M136.0 70.4h0"/>
<path class="k12" opacity=".6" stroke-width="2" d="M150.2 41.7h0M144.8 54.5h0M145.6 64.1h0"/>
<path class="k27" opacity=".4" stroke-width="3" d="M117.1 99.4h0M152.7 111.2h0M155.5 153.5h0M114.9 92.3h0M119.4 103.0h0M150.7 118.2h0M119.9 97.3h0M114.1 113.5h0M111.8 97.2h0M150.6 144.7h0M155.1 123.3h0M152.0 126.0h0M113.7 116.3h0M108.8 90.8h0M116.4 95.7h0M123.2 118.8h0M151.0 110.7h0M119.1 118.7h0M117.3 86.4h0M110.6 123.1h0M113.5 103.7h0M117.3 96.6h0M109.7 117.6h0M116.2 94.8h0M121.2 113.3h0M155.3 78.1h0M120.1 111.7h0M120.4 101.1h0M117.8 102.3h0M116.6 97.4h0M152.8 82.8h0M150.6 121.8h0M155.0 117.8h0M114.6 88.1h0M119.7 115.8h0M120.5 83.0h0M118.3 100.1h0M109.3 90.6h0M113.2 103.5h0M114.1 84.5h0"/>
<path class="k29" opacity=".1" stroke-width="6" d="M209.8 136.3h0"/>
<path class="k19" opacity=".3" stroke-width="5" d="M188.7 158.1h0M73.9 126.4h0M79.5 122.7h0M197.3 148.2h0"/>
<path class="k25" opacity=".6" stroke-width="4" d="M93.4 158.7h0M162.5 147.8h0"/>
<path class="k10" opacity=".2" stroke-width="4" d="M185.2 136.5h0"/>
<path class="k17" opacity=".3" stroke-width="5.5" d="M71.9 82.0h0M199.5 42.7h0M198.9 63.3h0M209.3 64.6h0"/>
<path class="k23" opacity=".5" stroke-width="3" d="M119.7 86.2h0M153.9 59.0h0M115.5 72.7h0M152.6 62.7h0M156.2 64.3h0M153.0 63.6h0M152.0 60.7h0M152.1 53.9h0M152.6 35.6h0M119.0 74.7h0M152.7 56.6h0M119.8 65.9h0M159.0 46.0h0M120.1 65.2h0M160.0 37.1h0M156.8 62.2h0M111.5 82.6h0"/>
<path class="k9" opacity=".2" stroke-width="5.5" d="M192.2 84.7h0M213.8 92.1h0M60.0 107.1h0M72.4 113.2h0M193.5 92.1h0M75.0 91.1h0M195.1 97.6h0M204.8 95.7h0M71.0 67.6h0M73.6 67.2h0M195.4 111.5h0"/>
<path class="k22" opacity=".3" stroke-width="4" d="M171.9 92.9h0M183.1 76.1h0M172.4 100.6h0M166.4 109.5h0M176.4 97.1h0M175.1 104.5h0M178.3 96.9h0M183.5 98.2h0M174.4 105.4h0M100.4 109.1h0M176.8 89.3h0M100.2 106.9h0M171.2 92.5h0M178.0 98.8h0M180.9 102.3h0M170.0 100.8h0M169.8 102.4h0M172.5 90.0h0M177.1 91.0h0M97.7 107.2h0M182.9 70.7h0M164.2 98.7h0M176.7 96.8h0M109.3 105.9h0M178.4 94.6h0M165.5 91.6h0M169.3 103.9h0M177.5 90.9h0M98.5 106.5h0M176.2 105.8h0M97.9 110.3h0M164.1 106.6h0M165.7 92.4h0M175.3 94.1h0M107.1 107.7h0"/>
<path class="k19" opacity=".6" stroke-width="4.5" d="M84.8 166.1h0M90.8 156.5h0M91.1 166.0h0M80.8 153.5h0M94.7 147.0h0M102.2 158.4h0M98.0 159.7h0M100.3 172.7h0M93.7 169.7h0"/>
<path class="k32" opacity=".4" stroke-width="2" d="M142.8 51.7h0M129.5 99.6h0M131.3 82.4h0M142.2 77.8h0M141.2 58.9h0M142.9 77.7h0M133.1 54.7h0M128.0 86.9h0M145.5 48.6h0"/>
<path class="k29" opacity=".3" stroke-width="1" d="M137.1 102.4h0M136.8 100.8h0M137.2 109.3h0M136.6 98.3h0"/>
<path class="k31" opacity=".3" stroke-width="4" d="M168.2 95.3h0M95.2 108.0h0M184.4 126.8h0M174.8 97.9h0M88.6 78.5h0M174.0 93.2h0M170.8 99.7h0M99.0 110.9h0M164.3 107.6h0M183.2 94.1h0M183.4 89.5h0M167.2 96.6h0M174.3 100.5h0M175.1 93.4h0M171.4 90.4h0"/>
<path class="k21" opacity=".6" stroke-width="3" d="M161.8 50.6h0M166.2 61.6h0M155.8 68.8h0M155.0 55.1h0M169.4 74.1h0M163.1 53.5h0"/>
<path class="k24" opacity=".5" stroke-width="2" d="M130.4 69.8h0M141.6 68.5h0M127.0 69.0h0M132.8 74.4h0M142.5 59.5h0"/>
<path class="k21" opacity=".2" stroke-width="3" d="M118.9 52.5h0"/>
<path class="k19" opacity=".6" stroke-width="1.5" d="M139.5 143.9h0M138.2 152.9h0M139.1 148.1h0M137.9 150.0h0M137.5 159.7h0M140.6 175.8h0M139.7 155.4h0M138.3 153.2h0"/>
<path class="k9" opacity=".3" stroke-width="1.5" d="M137.7 103.2h0M139.1 102.4h0M137.9 95.5h0M138.0 95.7h0M139.3 86.1h0M139.1 89.0h0M139.2 103.1h0M137.6 90.3h0M134.8 105.2h0M139.3 104.3h0M139.5 89.6h0M132.9 107.9h0M133.5 107.0h0M138.5 106.5h0M138.3 103.8h0"/>
<path class="k17" opacity=".4" stroke-width="2.5" d="M120.8 82.7h0M148.5 59.5h0M119.4 84.5h0M148.6 75.1h0M148.0 62.5h0M146.7 71.9h0M122.3 98.9h0M153.5 69.9h0M149.0 67.6h0M151.6 74.3h0M147.9 75.2h0M149.1 72.1h0M147.3 56.4h0M127.4 89.3h0"/>
<path class="k18" opacity=".3" stroke-width="5.5" d="M71.8 99.3h0M192.6 89.5h0M70.7 132.7h0M73.1 98.5h0M77.0 97.2h0"/>
<path class="k6" opacity=".6" stroke-width="1.5" d="M133.4 150.7h0M138.7 160.9h0M138.4 163.1h0M139.0 153.1h0M138.3 140.3h0"/>
<path class="k29" opacity=".4" stroke-width="4.5" d="M91.4 100.0h0M94.3 119.5h0M95.2 120.9h0M84.5 115.8h0M93.1 116.2h0M94.6 103.2h0M81.7 118.9h0M174.1 84.4h0M182.0 119.3h0M86.6 121.7h0M82.6 100.9h0M94.5 85.5h0M92.7 115.6h0M91.3 114.9h0M95.6 90.7h0M80.5 95.4h0M177.9 119.6h0M180.5 116.6h0M100.7 122.7h0M85.3 116.0h0M99.4 98.9h0M87.6 121.1h0M92.5 95.6h0"/>
<path class="k2" opacity=".4" stroke-width="1.5" d="M135.5 127.4h0M133.0 127.5h0M139.5 115.6h0M140.1 123.6h0"/>
<path class="k26" opacity=".3" stroke-width="7" d="M215.0 65.9h0M220.2 61.4h0M213.3 49.2h0"/>
<path class="k0" opacity=".4" stroke-width="1" d="M136.5 113.6h0"/>
<path class="k17" opacity=".2" stroke-width="6.5" d="M214.9 78.9h0"/>
<path class="k31" opacity=".4" stroke-width="5.5" d="M81.0 120.7h0M80.7 118.6h0"/>
<path class="k17" opacity=".4" stroke-width="4.5" d="M194.5 38.5h0M186.7 46.4h0M186.5 56.5h0M180.3 68.7h0M177.4 62.6h0M180.6 49.2h0M175.5 69.9h0M182.6 61.8h0M189.3 52.1h0M88.9 86.5h0"/>
<path class="k22" opacity=".5" stroke-width="1" d="M135.7 134.0h0M136.7 141.7h0"/>
<path class="k25" opacity=".4" stroke-width="3" d="M110.8 126.0h0"/>
<path class="k18" opacity=".3" stroke-width="3.5" d="M165.1 97.8h0M164.5 93.9h0M168.1 96.0h0M98.4 107.9h0M115.9 108.8h0M170.3 96.1h0M168.1 105.1h0M157.8 107.6h0M169.7 106.2h0M170.9 91.9h0M160.9 97.4h0M163.8 104.0h0M167.4 91.0h0M159.2 88.1h0M157.3 86.1h0M165.5 99.6h0M173.8 90.2h0M158.9 94.1h0M165.6 108.2h0"/>
<path class="k13" opacity=".4" stroke-width="1.5" d="M135.2 98.7h0M133.5 110.4h0M133.4 101.2h0M132.3 90.9h0M132.6 95.2h0M140.6 85.9h0M135.0 121.5h0M138.7 97.3h0M132.8 95.9h0M133.0 121.4h0M132.2 100.2h0M139.5 82.0h0M138.3 122.6h0M134.4 114.9h0M138.5 110.4h0M140.9 113.7h0"/>
<path class="k14" opacity=".8" stroke-width="4.5" d="M71.6 186.2h0M79.0 190.9h0"/>
<path class="k0" opacity=".2" stroke-width="5" d="M78.2 118.5h0"/>
<path class="k7" opacity=".7" stroke-width="6.5" d="M50.2 167.6h0"/>
<path class="k6" opacity=".5" stroke-width="6.5" d="M60.1 138.4h0"/>
<path class="k8" opacity=".5" stroke-width="1.5" d="M134.9 124.7h0M134.2 134.0h0M140.3 140.9h0M134.9 134.6h0M137.9 131.1h0M133.1 153.4h0M135.0 136.4h0M137.3 143.3h0M138.9 137.5h0M133.1 130.8h0M135.1 140.7h0"/>
<path class="k5" opacity=".3" stroke-width="5" d="M207.5 48.5h0M192.6 70.3h0M188.8 74.0h0M190.5 72.1h0M190.2 78.1h0M200.3 71.0h0M187.0 72.6h0"/>
<path class="k8" opacity=".6" stroke-width="1.5" d="M139.2 152.8h0M133.1 160.2h0M135.4 163.8h0M139.0 156.6h0M137.5 157.9h0M138.9 142.3h0M133.0 151.4h0M138.5 147.3h0M135.3 167.7h0"/>
<path class="k32" opacity=".4" stroke-width="6" d="M212.2 36.6h0"/>
<path class="k14" opacity=".4" stroke-width="2" d="M128.5 122.7h0"/>
<path class="k27" opacity=".2" stroke-width="3" d="M117.5 56.9h0M122.7 49.8h0M117.1 78.5h0"/>
<path class="k14" opacity=".3" stroke-width="3.5" d="M164.2 110.7h0"/>
<path class="k24" opacity=".2" stroke-width="3" d="M119.2 65.9h0M111.5 67.5h0M116.3 48.4h0"/>
<path class="k17" opacity=".3" stroke-width="6.5" d="M215.7 53.3h0M207.4 50.8h0"/>
<path class="k17" opacity=".1" stroke-width="3.5" d="M106.4 55.2h0"/>
<path class="k32" opacity=".3" stroke-width="2" d="M142.3 43.1h0"/>
<path class="k3" opacity=".7" stroke-width="1.5" d="M138.6 164.9h0M139.9 166.9h0"/>
<path class="k32" opacity=".3" stroke-width="1.5" d="M132.6 45.5h0M138.3 79.7h0"/>
<path class="k29" opacity=".2" stroke-width="6.5" d="M208.5 102.6h0M212.4 79.3h0M209.8 98.2h0"/>
<path class="k15" opacity=".4" stroke-width="1" d="M135.3 100.7h0M136.2 111.2h0M135.7 96.2h0"/>
<path class="k3" opacity=".6" stroke-width="2.5" d="M146.0 143.1h0M128.4 143.7h0M148.1 144.6h0M125.9 158.3h0M123.6 157.2h0M148.2 142.8h0M147.6 142.5h0M145.9 162.9h0M151.9 153.1h0M151.9 142.7h0M145.8 153.9h0M123.8 147.4h0M148.0 146.1h0"/>
<path class="k22" opacity=".3" stroke-width="2.5" d="M123.5 107.5h0M146.3 93.8h0M148.2 109.6h0M146.8 100.7h0M143.1 102.9h0M148.8 107.5h0M125.7 99.8h0M150.9 90.8h0M151.4 89.1h0M147.1 92.0h0M145.8 90.8h0M151.9 103.3h0M143.9 109.8h0M144.3 91.4h0M148.7 103.9h0M146.3 87.1h0M126.0 100.2h0M145.5 99.6h0M148.6 102.1h0M143.9 102.3h0M150.4 101.3h0M146.6 86.8h0M124.9 107.3h0M149.1 91.6h0M125.5 108.2h0M147.1 88.7h0M145.8 106.7h0M146.3 92.8h0M126.6 103.6h0M148.5 98.0h0M126.7 107.7h0"/>
<path class="k24" opacity=".2" stroke-width="2.5" d="M124.8 68.3h0"/>
<path class="k17" opacity=".4" stroke-width="1.5" d="M140.0 85.8h0M138.2 66.2h0M140.4 69.1h0M133.5 87.0h0M138.6 71.5h0M138.6 75.2h0M138.7 76.8h0M138.4 54.9h0M140.0 56.6h0M138.7 98.0h0M139.1 75.0h0M138.2 56.8h0M138.1 75.1h0"/>
<path class="k9" opacity=".6" stroke-width="3.5" d="M172.6 155.0h0"/>
<path class="k19" opacity=".7" stroke-width="5" d="M75.3 168.8h0M83.7 153.7h0"/>
<path class="k17" opacity=".5" stroke-width="1.5" d="M131.4 86.8h0M139.2 63.4h0M134.4 73.0h0"/>
<path class="k19" opacity=".8" stroke-width="4.5" d="M90.4 176.4h0M80.6 178.2h0M100.6 176.8h0"/>
<path class="k3" opacity=".4" stroke-width="3.5" d="M112.6 122.6h0M163.2 128.3h0M114.0 127.9h0M164.0 116.1h0M107.4 124.1h0M161.6 122.3h0M111.8 124.6h0M116.0 123.4h0M102.9 121.5h0M113.7 126.2h0M108.4 120.4h0M104.8 114.7h0M103.8 128.9h0M174.9 133.3h0M169.3 116.7h0M101.2 129.3h0M108.5 124.0h0M110.6 121.2h0M113.0 124.9h0M105.3 129.1h0"/>
<path class="k3" opacity=".6" stroke-width="2" d="M127.6 149.4h0M145.2 139.6h0M128.3 144.4h0M129.3 161.3h0M128.7 142.0h0M129.0 145.9h0M129.2 137.1h0M143.4 146.2h0M145.3 164.9h0M142.6 168.0h0M141.0 163.1h0M128.0 169.6h0M142.2 146.9h0"/>
<path class="k0" opacity=".3" stroke-width="4" d="M173.3 109.2h0"/>
<path class="k6" opacity=".8" stroke-width="6.5" d="M55.8 193.0h0"/>
<path class="k27" opacity=".2" stroke-width="4.5" d="M95.6 57.0h0"/>
<path class="k7" opacity=".5" stroke-width="6" d="M62.2 156.8h0M53.5 151.9h0"/>
<path class="k12" opacity=".3" stroke-width="3.5" d="M164.0 87.5h0M159.0 79.9h0M166.9 89.2h0"/>
<path class="k2" opacity=".6" stroke-width="5" d="M83.0 150.9h0M182.0 151.4h0M73.4 163.9h0M74.1 147.6h0M92.5 159.2h0M82.0 141.7h0"/>
<path class="k30" opacity=".4" stroke-width="1.5" d="M141.1 73.6h0M139.3 76.9h0M138.0 65.2h0M139.7 57.9h0M133.1 54.3h0M138.1 89.5h0"/>
<path class="k22" opacity=".3" stroke-width="1.5" d="M138.7 103.1h0M138.8 102.2h0M138.6 94.1h0M138.9 99.2h0M139.4 105.3h0M138.2 95.3h0M140.2 100.6h0M137.3 104.9h0M140.2 107.3h0M137.6 105.9h0M133.3 100.5h0M134.5 109.0h0M138.9 103.0h0M137.9 95.0h0M139.4 88.9h0M137.4 107.3h0"/>
<path class="k12" opacity=".5" stroke-width="3.5" d="M174.8 43.4h0M166.1 63.4h0M174.2 35.6h0M168.0 58.4h0M160.8 56.1h0M166.2 50.8h0"/>
<path class="k18" opacity=".2" stroke-width="5" d="M197.6 103.2h0M204.2 102.7h0M194.8 98.2h0M202.4 101.2h0M77.1 107.9h0M196.9 113.5h0"/>
<path class="k19" opacity=".7" stroke-width="5.5" d="M83.1 171.4h0M77.5 160.9h0M70.4 151.0h0"/>
<path class="k21" opacity=".6" stroke-width="4" d="M170.5 43.3h0M172.1 46.0h0M167.3 54.5h0M167.2 39.0h0"/>
<path class="k14" opacity=".7" stroke-width="3" d="M116.2 176.8h0"/>
<path class="k4" opacity=".4" stroke-width="2.5" d="M153.6 34.8h0"/>
<path class="k16" opacity=".7" stroke-width="3.5" d="M168.1 53.3h0M171.2 59.7h0"/>
<path class="k6" opacity=".7" stroke-width="2.5" d="M149.0 158.2h0"/>
<path class="k26" opacity=".3" stroke-width="4.5" d="M196.4 65.4h0M180.4 78.4h0M92.4 70.3h0M190.8 84.2h0M185.6 90.9h0M191.6 87.9h0M177.0 94.8h0M183.4 96.6h0M175.5 80.8h0"/>
<path class="k12" opacity=".1" stroke-width="5" d="M199.5 86.4h0"/>
<path class="k4" opacity=".4" stroke-width="3" d="M163.2 50.8h0M156.8 77.5h0"/>
<path class="k18" opacity=".2" stroke-width="4.5" d="M193.7 89.1h0M79.6 108.9h0M194.7 126.2h0M193.9 85.3h0"/>
<path class="k30" opacity=".3" stroke-width="4.5" d="M184.7 87.3h0M188.6 81.7h0M185.9 63.0h0M186.9 75.0h0M175.4 93.8h0"/>
<path class="k4" opacity=".5" stroke-width="4" d="M188.6 57.9h0M171.4 48.3h0"/>
<path class="k5" opacity=".6" stroke-width="4" d="M166.4 55.3h0M185.2 43.4h0M171.7 39.6h0M175.8 44.5h0M165.6 46.8h0"/>
<path class="k24" opacity=".2" stroke-width="4" d="M103.4 61.3h0M100.3 52.8h0"/>
<path class="k8" opacity=".4" stroke-width="5" d="M203.5 152.9h0M84.5 117.3h0"/>
<path class="k28" opacity=".6" stroke-width="6" d="M57.6 155.5h0M60.0 160.5h0M62.4 176.6h0M49.2 137.9h0M58.8 158.4h0"/>
<path class="k15" opacity=".5" stroke-width="4.5" d="M84.2 129.8h0M102.6 130.5h0M97.5 87.7h0"/>
<path class="k10" opacity=".4" stroke-width="1" d="M135.4 84.8h0"/>
<path class="k17" opacity=".6" stroke-width="4.5" d="M171.5 49.2h0M177.2 51.7h0"/>
<path class="k31" opacity=".2" stroke-width="6.5" d="M51.5 102.3h0"/>
<path class="k29" opacity=".2" stroke-width="7" d="M220.4 93.5h0"/>
<path class="k10" opacity=".4" stroke-width="2" d="M131.8 92.4h0M147.1 90.6h0M142.5 127.2h0M141.0 110.7h0M144.6 111.4h0M130.4 93.1h0M146.2 119.3h0M131.6 124.4h0M145.5 129.6h0M140.0 96.4h0"/>
<path class="k16" opacity=".7" stroke-width="3" d="M155.8 52.2h0"/>
<path class="k3" opacity=".5" stroke-width="4" d="M174.6 130.1h0M91.3 135.6h0M93.4 129.2h0M86.8 131.5h0M181.6 136.5h0M90.3 134.2h0M93.1 126.0h0M172.1 130.3h0M96.0 134.3h0M99.7 136.3h0M167.5 123.4h0M92.7 149.2h0M177.3 143.8h0M106.7 146.8h0M97.5 156.5h0M92.1 153.6h0M108.9 128.0h0M97.4 141.8h0M166.3 138.1h0M107.6 138.3h0M173.6 128.1h0M104.5 143.1h0M94.0 146.5h0M105.5 148.1h0M101.8 130.6h0"/>
<path class="k4" opacity=".7" stroke-width="2" d="M141.4 44.6h0"/>
<path class="k8" opacity=".8" stroke-width="1.5" d="M133.1 163.7h0"/>
<path class="k3" opacity=".8" stroke-width="5.5" d="M77.6 192.2h0M81.7 185.4h0M73.3 168.4h0M67.1 186.5h0M67.9 201.7h0"/>
<path class="k5" opacity=".2" stroke-width="4.5" d="M95.9 50.2h0"/>
<path class="k3" opacity=".8" stroke-width="6" d="M57.7 181.8h0"/>
<path class="k14" opacity=".5" stroke-width="4.5" d="M96.7 134.2h0M80.1 135.5h0"/>
<path class="k26" opacity=".3" stroke-width="5.5" d="M192.0 77.4h0M212.7 34.6h0M215.1 50.6h0"/>
<path class="k31" opacity=".3" stroke-width="5.5" d="M72.0 98.0h0M74.7 131.6h0M73.9 98.7h0M78.8 95.2h0"/>
<path class="k27" opacity=".4" stroke-width="5.5" d="M81.9 127.1h0M82.3 99.7h0M200.1 129.8h0"/>
<path class="k2" opacity=".4" stroke-width="3" d="M118.4 122.2h0M153.5 128.0h0M115.0 121.1h0M151.1 115.6h0M122.7 130.7h0M115.9 121.9h0M115.7 122.2h0"/>
<path class="k14" opacity=".4" stroke-width="3" d="M150.6 118.9h0M118.0 124.6h0M120.8 126.7h0M116.6 124.5h0"/>
<path class="k3" opacity=".8" stroke-width="3.5" d="M115.9 182.4h0M107.5 174.0h0M105.2 169.1h0M95.7 179.1h0"/>
<path class="k24" opacity=".3" stroke-width="2" d="M142.7 84.2h0M130.8 46.3h0M143.9 87.4h0M139.9 93.6h0"/>
<path class="k29" opacity=".5" stroke-width="3.5" d="M116.6 128.0h0M110.9 143.7h0M102.7 129.2h0M112.0 83.1h0M161.8 126.8h0M109.9 128.1h0"/>
<path class="k31" opacity=".1" stroke-width="6.5" d="M211.1 103.7h0"/>
<path class="k6" opacity=".5" stroke-width="3" d="M121.1 132.6h0M151.9 130.7h0M110.9 139.5h0M152.1 141.6h0M153.6 149.4h0M153.4 137.2h0M118.4 137.9h0M118.8 136.3h0M112.1 145.8h0M121.7 146.7h0M113.4 141.2h0M113.7 136.0h0"/>
<path class="k13" opacity=".3" stroke-width="6" d="M76.1 126.6h0"/>
<path class="k21" opacity=".7" stroke-width="3.5" d="M161.3 57.3h0M161.7 36.0h0"/>
<path class="k4" opacity=".4" stroke-width="2" d="M148.3 66.0h0"/>
<path class="k22" opacity=".1" stroke-width="5.5" d="M66.8 80.2h0"/>
<path class="k5" opacity=".1" stroke-width="5.5" d="M205.6 79.0h0M208.1 84.0h0"/>
<path class="k3" opacity=".4" stroke-width="1.5" d="M138.6 129.5h0M138.3 120.6h0M137.5 119.6h0M139.4 132.9h0M134.1 120.6h0M134.6 125.6h0M135.0 128.5h0"/>
<path class="k6" opacity=".3" stroke-width="2.5" d="M151.2 106.6h0"/>
<path class="k27" opacity=".1" stroke-width="6" d="M64.1 83.6h0"/>
<path class="k27" opacity=".3" stroke-width="3.5" d="M105.5 106.0h0M167.9 87.4h0M166.4 84.5h0M155.0 95.7h0M163.8 91.3h0M159.9 95.3h0M160.6 106.0h0M162.0 97.6h0M174.0 98.9h0M170.3 106.2h0M167.5 95.1h0M162.7 106.3h0M109.3 108.4h0M161.6 139.8h0M101.8 106.8h0M163.2 105.5h0"/>
<path class="k21" opacity=".5" stroke-width="2" d="M142.1 77.0h0M127.3 77.6h0M145.2 42.9h0M139.7 69.8h0M140.6 65.2h0M142.8 62.3h0"/>
<path class="k5" opacity=".5" stroke-width="1" d="M135.7 42.7h0M136.7 65.9h0"/>
<path class="k2" opacity=".4" stroke-width="2" d="M142.3 131.2h0M130.1 130.7h0M143.1 127.3h0M140.2 128.1h0M128.1 125.6h0M131.0 121.2h0M143.5 131.9h0M141.2 122.9h0M143.8 130.4h0"/>
<path class="k0" opacity=".7" stroke-width="5.5" d="M77.9 157.4h0M82.6 167.6h0M74.6 177.3h0M75.4 156.3h0M69.0 162.3h0M83.1 176.3h0M65.6 163.7h0M74.0 157.2h0M78.4 158.7h0M80.5 178.8h0"/>
<path class="k2" opacity=".5" stroke-width="2" d="M143.5 137.9h0M141.2 131.9h0M141.2 153.1h0M132.5 130.1h0M131.2 131.3h0M126.7 138.0h0M142.3 126.3h0M140.8 135.7h0M141.6 144.0h0"/>
<path class="k14" opacity=".7" stroke-width="2.5" d="M116.7 150.2h0M126.0 164.1h0M120.9 154.8h0"/>
<path class="k19" opacity=".4" stroke-width="2.5" d="M122.3 133.0h0M122.1 116.9h0M124.2 115.1h0M146.7 113.2h0M147.8 144.5h0M151.6 110.0h0M146.7 121.4h0M150.1 116.5h0M144.6 119.5h0M154.9 144.3h0M126.2 120.0h0M152.0 139.5h0M128.7 117.2h0"/>
<path class="k4" opacity=".5" stroke-width="5" d="M192.7 70.6h0"/>
<path class="k16" opacity=".7" stroke-width="4" d="M172.4 44.4h0"/>
<path class="k24" opacity=".6" stroke-width="2.5" d="M148.1 41.2h0"/>
<path class="k12" opacity=".4" stroke-width="2.5" d="M149.2 74.6h0M147.4 57.1h0M148.6 39.3h0M150.8 78.1h0M123.8 64.9h0M149.8 79.4h0M163.0 64.9h0M150.7 59.3h0M147.6 78.7h0M145.2 85.1h0M148.4 64.9h0M148.6 47.9h0"/>
<path class="k16" opacity=".4" stroke-width="2.5" d="M148.8 42.5h0M157.6 56.8h0M149.7 59.4h0M160.4 80.2h0"/>
<path class="k5" opacity=".5" stroke-width="5" d="M188.5 50.9h0M181.9 39.8h0"/>
<path class="k6" opacity=".5" stroke-width="4" d="M103.9 146.2h0M107.5 147.7h0M97.7 140.1h0M105.1 137.2h0M103.3 141.9h0M91.7 142.1h0M105.4 132.6h0M105.5 151.7h0M104.2 137.1h0M102.2 148.6h0"/>
<path class="k19" opacity=".3" stroke-width="6" d="M67.9 134.4h0"/>
<path class="k2" opacity=".8" stroke-width="3" d="M109.3 173.9h0"/>
<path class="k18" opacity=".3" stroke-width="2.5" d="M127.4 108.8h0M146.7 103.2h0M149.1 94.8h0M145.1 104.3h0M147.7 102.2h0M147.3 102.5h0M147.8 96.8h0M144.1 103.7h0M144.4 108.5h0M155.9 104.8h0M152.5 93.0h0M127.6 97.9h0M126.3 106.3h0M149.2 82.4h0M152.0 91.8h0M152.4 108.1h0M126.2 100.4h0M120.2 106.1h0M145.2 104.3h0M151.8 104.3h0M146.6 106.8h0M147.0 105.7h0M148.0 105.7h0M148.4 95.5h0M146.7 108.2h0M128.1 98.0h0M152.1 100.3h0M118.7 107.3h0M147.7 85.8h0M144.9 104.8h0M147.9 97.0h0"/>
<path class="k12" opacity=".5" stroke-width="5.5" d="M192.5 52.8h0"/>
<path class="k31" opacity=".2" stroke-width="2.5" d="M122.5 48.4h0M123.4 49.4h0"/>
<path class="k19" opacity=".6" stroke-width="5" d="M84.7 151.1h0M90.7 156.6h0M80.6 159.8h0"/>
<path class="k32" opacity=".3" stroke-width="5.5" d="M190.4 75.8h0M193.3 60.3h0"/>
<path class="k3" opacity=".5" stroke-width="3.5" d="M158.0 128.0h0M107.8 149.7h0M112.7 133.8h0M164.8 153.3h0M157.9 139.0h0M110.3 146.6h0M112.2 135.4h0M114.8 131.4h0M164.6 147.7h0M99.9 146.3h0M117.1 140.1h0M110.0 130.5h0M101.1 138.5h0M103.2 135.8h0M157.7 165.1h0M109.5 135.7h0M100.6 128.3h0M115.1 150.5h0M102.7 148.8h0M109.2 135.5h0M110.8 128.8h0M161.1 141.6h0M101.1 127.5h0M110.9 140.2h0M112.3 134.7h0M165.2 148.1h0M101.0 147.3h0"/>
<path class="k20" opacity=".7" stroke-width="5.5" d="M56.5 161.6h0M54.0 165.5h0"/>
<path class="k14" opacity=".7" stroke-width="3.5" d="M99.8 156.5h0"/>
<path class="k14" opacity=".6" stroke-width="4.5" d="M95.2 148.9h0M88.6 153.7h0M84.5 141.5h0"/>
<path class="k26" opacity=".5" stroke-width="4.5" d="M172.4 44.6h0M174.3 31.5h0M178.2 55.8h0M175.4 48.5h0M175.6 54.4h0M177.6 42.9h0M189.5 37.1h0"/>
<path class="k24" opacity=".2" stroke-width="3.5" d="M112.1 55.2h0"/>
<path class="k15" opacity=".4" stroke-width="5" d="M84.6 117.4h0M83.3 119.0h0M84.5 119.5h0M90.7 102.0h0M80.7 126.0h0"/>
<path class="k10" opacity=".5" stroke-width="4" d="M168.2 127.6h0M101.1 87.6h0"/>
<path class="k10" opacity=".4" stroke-width="5" d="M85.0 93.1h0M88.6 97.9h0"/>
<path class="k29" opacity=".2" stroke-width="5.5" d="M199.7 110.0h0M197.6 90.2h0M64.7 101.1h0M75.7 108.6h0M76.3 107.3h0M69.4 114.5h0M198.9 97.1h0M193.4 83.4h0M191.0 88.0h0M199.4 113.9h0M62.3 101.8h0M211.3 112.1h0M78.7 108.3h0M69.8 110.4h0M206.2 97.9h0"/>
<path class="k26" opacity=".4" stroke-width="6.5" d="M217.5 39.7h0"/>
<path class="k4" opacity=".7" stroke-width="4.5" d="M182.4 59.5h0M182.4 47.9h0"/>
<path class="k24" opacity=".3" stroke-width="6" d="M201.8 51.6h0M204.6 57.9h0M215.0 51.8h0M201.3 55.6h0"/>
<path class="k18" opacity=".5" stroke-width="3" d="M154.2 127.3h0M109.3 127.3h0M114.5 87.4h0M119.7 138.8h0M153.0 132.5h0M114.1 77.9h0"/>
<path class="k26" opacity=".3" stroke-width="4" d="M170.0 80.2h0M180.2 82.0h0M183.5 90.4h0M165.7 85.2h0M183.1 74.4h0M181.5 88.2h0"/>
<path class="k24" opacity=".3" stroke-width="3.5" d="M154.5 86.9h0M102.6 64.5h0M109.7 59.6h0"/>
<path class="k32" opacity=".6" stroke-width="3" d="M161.3 44.9h0"/>
<path class="k9" opacity=".5" stroke-width="5.5" d="M82.3 126.2h0"/>
<path class="k30" opacity=".4" stroke-width="2" d="M142.0 53.9h0M142.4 73.5h0M142.2 86.0h0M146.7 66.3h0M142.0 71.6h0M143.6 74.3h0M140.3 67.8h0M144.1 67.9h0M140.1 65.2h0M145.6 84.7h0M141.9 82.3h0"/>
<path class="k3" opacity=".4" stroke-width="2.5" d="M125.0 126.2h0M145.4 129.0h0M152.3 116.2h0M128.6 114.8h0M124.4 134.5h0M122.3 128.3h0M120.9 124.7h0M144.7 147.8h0M124.1 129.6h0M148.7 129.3h0M150.5 135.8h0M147.9 118.3h0M144.5 167.5h0M144.9 112.4h0M144.6 132.4h0M146.5 118.9h0M146.5 116.4h0M120.2 122.7h0M146.1 117.5h0M117.0 124.4h0M149.4 129.9h0"/>
<path class="k24" opacity=".2" stroke-width="2" d="M142.2 40.0h0"/>
<path class="k22" opacity=".1" stroke-width="6.5" d="M217.7 80.9h0"/>
<path class="k6" opacity=".4" stroke-width="2" d="M128.6 116.9h0M143.5 124.9h0M131.5 119.9h0M141.7 118.8h0M128.3 120.7h0M142.2 133.0h0M140.8 121.8h0M143.3 126.0h0M129.0 131.3h0"/>
<path class="k17" opacity=".5" stroke-width="4" d="M176.5 54.8h0M162.7 64.3h0M175.0 55.6h0M161.8 53.2h0M171.0 65.0h0M167.8 34.7h0M175.5 64.1h0M169.4 49.4h0M102.5 87.8h0M182.9 37.8h0M175.5 57.7h0M184.0 41.2h0"/>
<path class="k30" opacity=".4" stroke-width="5" d="M188.7 38.3h0M189.0 41.0h0M211.4 35.0h0M187.4 55.5h0M197.1 36.8h0M191.7 64.9h0M184.8 60.8h0M184.3 73.6h0"/>
<path class="k23" opacity=".2" stroke-width="4.5" d="M193.6 90.9h0M90.7 50.3h0"/>
<path class="k9" opacity=".5" stroke-width="3" d="M119.8 82.2h0M121.9 83.5h0M111.0 138.2h0M156.1 63.9h0M159.3 126.4h0"/>
<path class="k17" opacity=".2" stroke-width="5.5" d="M79.3 72.0h0M77.7 85.4h0M59.8 96.4h0M68.5 73.0h0"/>
<path class="k0" opacity=".8" stroke-width="5" d="M78.6 174.7h0M75.3 168.3h0M67.9 194.4h0M92.9 190.2h0M68.4 184.8h0M76.6 188.3h0M67.4 196.3h0M88.7 182.7h0M70.3 196.2h0M84.8 190.8h0M82.1 182.5h0M90.8 178.4h0M66.9 190.9h0M69.1 198.5h0M76.1 166.2h0M89.3 180.8h0M78.1 179.5h0"/>
<path class="k22" opacity=".1" stroke-width="5" d="M201.4 83.5h0"/>
<path class="k14" opacity=".6" stroke-width="4" d="M104.5 139.5h0M107.7 156.2h0"/>
<path class="k15" opacity=".2" stroke-width="5.5" d="M78.3 82.0h0M58.1 95.2h0M77.0 78.2h0"/>
<path class="k13" opacity=".5" stroke-width="1.5" d="M138.2 135.4h0"/>
<path class="k0" opacity=".6" stroke-width="1.5" d="M139.4 161.0h0M133.4 137.0h0M133.8 139.7h0M132.2 141.1h0M138.1 147.1h0M135.1 156.5h0M135.1 149.9h0M138.9 149.1h0M137.8 147.3h0M137.9 157.8h0M133.7 151.8h0M135.0 143.8h0M132.8 149.1h0M138.9 158.5h0M132.8 164.4h0M137.9 141.9h0M135.0 136.5h0"/>
<path class="k6" opacity=".6" stroke-width="4" d="M164.7 140.5h0M172.1 140.3h0M89.7 152.5h0M97.7 148.7h0M164.1 163.2h0M107.0 149.4h0"/>
<path class="k0" opacity=".6" stroke-width="4" d="M105.2 152.7h0M86.3 151.0h0M106.2 150.6h0M100.0 155.5h0M97.6 154.8h0M88.3 159.1h0M103.5 147.8h0M93.1 137.5h0M92.3 143.1h0M100.0 151.8h0M101.9 165.7h0M98.0 169.6h0M174.2 156.3h0M105.4 148.3h0M105.3 169.9h0M84.6 170.3h0M102.3 145.5h0M97.5 137.1h0M109.8 147.5h0M104.0 150.2h0M91.1 160.0h0M108.3 157.5h0M99.7 147.3h0M99.4 152.9h0M96.5 147.3h0M106.0 140.0h0M105.5 156.9h0M95.5 143.5h0M95.8 168.8h0M102.3 143.0h0M95.3 171.9h0M99.4 146.7h0M99.7 156.3h0M85.5 143.1h0"/>
<path class="k15" opacity=".5" stroke-width="2.5" d="M147.4 127.3h0M127.3 73.0h0M126.0 79.6h0M126.8 65.8h0M122.4 131.1h0M124.7 73.7h0M122.9 73.2h0M126.5 70.3h0M118.1 122.4h0"/>
<path class="k31" opacity=".4" stroke-width="3.5" d="M100.6 120.1h0M112.8 103.9h0M109.0 119.5h0M114.7 99.1h0M113.1 100.8h0M109.8 112.4h0M110.3 127.7h0M104.2 90.6h0M107.5 111.0h0M108.3 113.6h0M109.7 89.3h0M111.3 96.9h0M105.9 92.9h0M94.7 104.4h0M117.0 118.7h0M100.4 104.5h0M107.5 111.4h0M163.5 77.7h0M161.2 119.9h0M113.1 114.3h0M106.5 121.5h0M161.3 120.9h0M161.2 76.3h0M108.8 101.9h0M113.1 101.8h0M112.7 121.5h0M157.5 122.9h0M173.0 115.1h0M160.5 77.4h0M105.3 96.4h0M113.4 118.3h0M157.6 95.1h0M163.9 115.0h0"/>
<path class="k0" opacity=".5" stroke-width="6.5" d="M55.9 148.3h0M63.2 142.0h0"/>
<path class="k5" opacity=".7" stroke-width="4" d="M167.0 52.7h0"/>
<path class="k22" opacity=".3" stroke-width="4.5" d="M78.3 130.7h0M188.1 126.0h0M185.1 108.2h0M176.7 106.6h0M83.4 104.7h0M174.5 92.8h0M181.9 107.9h0M95.1 110.6h0M177.0 95.9h0M192.9 112.5h0M189.5 91.7h0M182.6 76.7h0M93.8 107.1h0M188.9 113.9h0M188.4 101.9h0M179.4 93.0h0M81.8 111.3h0M172.5 88.9h0M184.7 121.3h0M78.7 118.7h0M88.1 106.6h0M185.7 84.2h0M190.7 105.8h0M185.6 115.0h0M96.1 110.3h0M191.2 88.2h0M173.9 89.3h0"/>
<path class="k18" opacity=".4" stroke-width="2.5" d="M123.9 95.3h0M127.2 109.5h0M146.0 87.3h0M149.0 111.5h0M148.2 117.1h0M123.9 95.7h0M126.8 113.5h0M125.0 103.1h0M121.3 113.9h0M126.4 115.4h0M124.6 119.0h0M119.1 119.0h0M150.0 121.2h0M125.6 102.0h0M127.2 122.6h0M125.9 93.2h0M147.7 118.3h0M145.3 117.3h0M125.8 129.1h0M126.1 110.7h0M145.1 116.0h0M121.9 111.7h0M123.9 95.2h0M125.6 91.2h0M122.5 98.9h0M126.1 116.1h0M127.5 89.4h0M121.6 100.4h0M125.6 85.8h0M125.1 84.6h0M123.8 93.6h0M121.8 98.5h0M121.8 86.8h0M119.6 100.7h0M126.2 114.3h0M126.0 91.6h0M124.4 104.4h0M148.6 88.2h0M122.4 95.1h0M122.6 91.2h0M145.7 121.8h0M125.7 116.8h0M150.1 79.5h0M146.7 92.0h0M126.4 89.3h0M127.4 112.3h0M118.7 103.2h0M123.9 93.9h0M128.0 125.8h0M127.1 88.9h0M123.0 96.5h0M125.1 122.7h0M124.5 95.0h0"/>
<path class="k3" opacity=".7" stroke-width="3" d="M112.4 167.5h0M154.8 171.2h0M121.5 170.7h0M109.9 179.1h0M115.0 153.6h0M150.8 164.6h0M113.2 161.2h0M154.6 164.2h0M110.5 171.4h0M109.4 160.6h0M117.6 172.1h0"/>
<path class="k8" opacity=".5" stroke-width="2.5" d="M122.5 133.7h0M123.0 136.4h0M125.0 126.6h0M123.8 128.8h0M116.5 151.3h0M123.4 128.0h0M150.1 139.0h0M123.4 136.0h0M128.2 152.9h0M149.9 136.2h0M128.3 127.1h0M151.6 123.8h0M118.0 127.8h0M148.3 144.7h0M143.9 132.1h0M150.3 153.3h0M119.2 139.9h0M145.9 128.0h0M124.3 143.2h0M147.3 128.9h0"/>
<path class="k15" opacity=".3" stroke-width="2.5" d="M150.4 102.2h0M146.0 79.8h0M146.6 95.3h0M125.6 106.2h0M146.0 85.5h0M123.4 109.6h0M124.6 104.9h0M122.8 105.5h0M147.1 93.1h0M144.4 106.2h0M148.1 92.2h0M117.7 105.9h0"/>
<path class="k20" opacity=".5" stroke-width="6.5" d="M55.8 139.0h0"/>
<path class="k3" opacity=".7" stroke-width="5.5" d="M73.4 193.6h0M63.0 163.1h0M53.5 166.0h0M59.4 185.6h0M80.5 200.0h0M69.2 181.7h0M73.0 188.7h0M61.5 184.8h0"/>
<path class="k2" opacity=".2" stroke-width="4.5" d="M196.4 117.7h0"/>
<path class="k14" opacity=".7" stroke-width="4" d="M102.8 180.2h0M100.4 167.9h0"/>
<path class="k21" opacity=".6" stroke-width="2.5" d="M153.7 62.9h0M148.1 36.3h0M154.6 60.3h0"/>
<path class="k13" opacity=".5" stroke-width="4" d="M170.5 132.6h0M107.6 126.1h0M104.9 128.4h0M172.9 136.7h0M102.0 122.5h0M103.9 126.1h0"/>
<path class="k15" opacity=".2" stroke-width="2.5" d="M121.5 51.9h0"/>
<path class="k3" opacity=".4" stroke-width="3" d="M111.4 120.0h0M159.6 145.4h0M114.3 119.9h0M109.6 135.4h0M114.7 117.5h0M121.2 112.7h0M158.2 127.6h0M154.6 128.6h0M112.2 124.5h0M116.6 133.2h0M117.0 125.0h0M106.9 127.0h0M152.0 119.9h0M117.3 127.2h0"/>
<path class="k30" opacity=".5" stroke-width="3" d="M149.3 58.9h0"/>
<path class="k11" opacity=".8" stroke-width="6" d="M53.9 188.8h0M56.2 196.5h0M62.5 213.4h0"/>
<path class="k19" opacity=".2" stroke-width="6" d="M66.1 115.7h0"/>
<path class="k29" opacity=".4" stroke-width="3.5" d="M103.2 101.4h0M159.7 108.9h0M159.0 112.8h0M98.6 123.4h0M111.2 99.4h0M168.7 114.2h0M111.7 122.6h0M165.1 82.7h0M115.3 80.8h0M164.0 80.0h0M155.8 73.6h0M109.5 100.5h0M158.8 110.7h0M109.5 120.7h0M165.8 126.4h0M109.4 99.6h0M99.5 129.0h0M112.4 101.1h0M106.3 117.4h0M156.9 111.9h0M169.4 115.2h0M160.0 109.4h0M111.8 113.4h0M162.1 116.3h0M113.9 98.9h0M112.1 116.9h0M100.1 114.5h0M99.6 93.8h0M103.5 103.9h0M110.5 96.6h0M106.4 117.4h0M112.2 96.2h0M162.5 123.4h0M112.1 95.6h0M167.1 79.1h0M163.1 84.2h0M159.0 111.2h0M115.0 99.5h0M161.2 85.8h0M161.0 109.7h0M115.4 112.0h0M112.5 97.7h0M169.0 111.3h0M109.5 115.4h0M163.9 112.3h0M107.6 122.2h0M106.2 114.4h0M169.9 85.6h0M113.4 114.5h0M103.5 118.5h0M111.5 124.0h0M158.4 119.9h0M102.2 91.2h0M113.0 113.0h0"/>
<path class="k12" opacity=".3" stroke-width="7" d="M219.3 67.0h0"/>
<path class="k19" opacity=".4" stroke-width="1.5" d="M139.0 123.5h0M140.1 129.3h0M135.6 128.4h0M138.5 125.3h0M131.6 128.8h0M134.1 127.9h0"/>
<path class="k22" opacity=".4" stroke-width="1.5" d="M138.5 122.2h0M133.4 104.3h0M135.4 91.4h0M134.3 89.1h0M138.9 81.8h0M132.5 86.4h0M135.1 91.2h0M133.1 115.3h0M133.4 93.1h0M133.0 119.1h0M133.6 116.3h0M133.9 100.8h0M134.7 101.4h0M133.7 96.8h0M139.0 72.2h0M138.8 120.5h0M138.1 114.7h0M133.9 119.4h0M133.9 90.0h0M134.2 104.2h0M137.6 126.8h0M133.1 92.4h0M140.5 120.1h0M135.1 120.1h0M131.9 103.7h0M132.2 100.4h0M132.8 121.5h0M132.5 103.0h0M132.2 95.3h0M133.9 111.8h0M132.4 123.3h0M134.0 119.9h0M137.5 85.3h0M138.2 112.7h0M133.2 94.6h0"/>
<path class="k19" opacity=".7" stroke-width="6" d="M71.5 162.2h0M66.4 169.0h0"/>
<path class="k17" opacity=".5" stroke-width="1" d="M136.2 80.0h0"/>
<path class="k6" opacity=".4" stroke-width="1.5" d="M134.2 111.7h0M132.8 125.7h0M133.9 114.1h0M135.2 121.1h0"/>
<path class="k2" opacity=".4" stroke-width="4.5" d="M80.0 134.3h0M99.0 131.4h0M182.1 121.0h0M93.7 120.7h0M92.4 115.8h0"/>
<path class="k30" opacity=".5" stroke-width="4.5" d="M181.0 42.6h0M189.2 28.7h0"/>
<path class="k27" opacity=".2" stroke-width="4" d="M107.2 61.0h0"/>
<path class="k15" opacity=".5" stroke-width="4" d="M87.5 122.6h0"/>
<path class="k14" opacity=".6" stroke-width="5.5" d="M61.3 163.5h0"/>
<path class="k13" opacity=".4" stroke-width="3.5" d="M105.3 113.9h0M102.4 98.8h0M112.6 119.1h0M105.7 117.1h0M111.8 72.0h0M159.2 112.7h0M109.1 100.8h0M98.2 100.1h0M165.0 76.9h0M168.2 116.5h0M165.7 142.9h0M108.7 102.0h0M107.0 110.0h0M106.7 89.6h0M100.6 111.2h0M98.7 119.8h0M110.4 94.3h0M157.4 111.9h0M160.9 81.0h0M112.5 114.9h0M100.0 85.9h0"/>
<path class="k16" opacity=".7" stroke-width="4.5" d="M176.7 49.5h0M189.0 53.8h0"/>
<path class="k27" opacity=".5" stroke-width="3.5" d="M156.2 132.5h0M163.5 126.5h0M164.9 132.6h0M103.4 80.4h0M110.6 126.5h0"/>
<path class="k8" opacity=".6" stroke-width="3.5" d="M154.3 138.1h0M104.8 142.5h0M164.1 145.4h0M106.5 152.8h0M107.3 149.3h0M101.8 150.6h0M159.1 144.8h0M101.8 138.6h0M111.9 159.9h0M99.7 145.6h0M106.5 174.2h0M107.3 154.5h0M103.2 143.3h0M175.3 152.3h0M113.7 141.8h0"/>
<path class="k17" opacity=".5" stroke-width="3.5" d="M164.5 51.6h0M165.9 63.4h0M159.6 50.3h0M112.1 77.0h0M109.9 72.4h0M163.8 61.9h0M111.1 73.5h0M171.2 50.2h0M111.9 72.6h0"/>
<path class="k14" opacity=".5" stroke-width="2" d="M140.4 136.2h0M130.0 140.6h0M132.4 135.8h0"/>
<path class="k32" opacity=".5" stroke-width="4.5" d="M175.8 48.1h0M183.1 40.8h0M176.0 59.0h0"/>
<path class="k32" opacity=".1" stroke-width="5.5" d="M57.5 88.7h0"/>
<path class="k13" opacity=".2" stroke-width="6" d="M209.3 105.6h0M209.1 109.7h0M205.5 106.3h0M217.1 98.5h0"/>
<path class="k11" opacity=".3" stroke-width="7" d="M50.6 117.0h0"/>
<path class="k32" opacity=".6" stroke-width="2" d="M127.1 52.3h0"/>
<path class="k32" opacity=".3" stroke-width="6" d="M212.6 48.3h0"/>
<path class="k28" opacity=".7" stroke-width="6.5" d="M60.7 158.3h0"/>
<path class="k8" opacity=".6" stroke-width="4" d="M177.9 144.6h0M102.0 153.0h0M106.2 147.9h0M102.1 147.1h0M90.7 152.8h0M95.0 151.6h0M84.2 155.1h0M102.6 155.8h0M177.0 154.6h0M95.8 141.3h0M99.1 154.1h0M88.3 168.8h0M93.1 151.3h0M105.5 147.0h0M96.1 147.3h0"/>
<path class="k13" opacity=".3" stroke-width="4.5" d="M190.6 111.0h0M187.0 138.9h0M186.6 92.7h0M178.2 103.3h0M184.0 87.9h0M185.4 90.3h0M177.7 109.1h0M185.8 87.9h0M75.3 121.5h0M189.4 83.0h0"/>
<path class="k6" opacity=".2" stroke-width="5" d="M190.3 144.4h0"/>
<path class="k23" opacity=".2" stroke-width="6" d="M200.4 75.5h0M221.4 65.7h0"/>
<path class="k16" opacity=".6" stroke-width="2" d="M147.6 53.0h0M139.9 61.2h0"/>
<path class="k12" opacity=".4" stroke-width="5" d="M180.1 54.6h0M185.5 54.8h0M184.2 64.5h0"/>
<path class="k23" opacity=".4" stroke-width="2" d="M142.4 66.9h0M139.8 65.2h0M143.4 63.4h0M129.9 79.4h0M143.7 52.6h0M143.9 69.8h0M130.8 51.4h0M128.9 112.4h0M143.3 79.9h0M131.4 52.8h0M132.4 87.6h0M139.4 73.9h0M140.7 69.7h0M144.9 63.8h0M141.3 68.1h0M130.4 96.5h0M144.2 77.6h0M129.1 83.6h0M142.7 92.0h0M140.5 68.4h0"/>
<path class="k13" opacity=".3" stroke-width="3.5" d="M166.8 103.4h0M155.2 94.1h0M165.7 86.5h0M117.7 105.0h0M167.1 92.5h0M160.1 96.0h0M160.2 108.3h0"/>
<path class="k5" opacity=".6" stroke-width="3" d="M160.3 56.6h0M154.7 45.2h0M153.6 42.5h0M167.8 48.2h0"/>
<path class="k25" opacity=".7" stroke-width="5.5" d="M70.0 162.8h0"/>
<path class="k9" opacity=".2" stroke-width="4" d="M93.3 61.6h0"/>
<path class="k13" opacity=".2" stroke-width="5" d="M197.2 117.3h0M195.0 94.0h0M80.1 60.0h0"/>
<path class="k3" opacity=".8" stroke-width="4" d="M105.0 172.0h0M104.2 181.5h0"/>
<path class="k8" opacity=".8" stroke-width="2.5" d="M119.3 164.7h0M145.1 164.7h0M126.9 164.4h0"/>
<path class="k5" opacity=".3" stroke-width="1.5" d="M139.1 81.4h0"/>
<path class="k6" opacity=".4" stroke-width="5" d="M92.1 125.7h0"/>
<path class="k26" opacity=".6" stroke-width="5" d="M186.7 25.4h0"/>
<path class="k3" opacity=".3" stroke-width="4" d="M174.7 105.5h0M109.4 110.3h0"/>
<path class="k31" opacity=".5" stroke-width="1" d="M136.0 83.0h0"/>
<path class="k0" opacity=".7" stroke-width="6.5" d="M55.8 164.2h0M50.8 156.6h0"/>
<path class="k32" opacity=".2" stroke-width="3.5" d="M112.1 54.0h0M113.9 48.8h0M98.1 84.9h0M102.5 73.7h0"/>
<path class="k23" opacity=".6" stroke-width="2.5" d="M149.2 35.7h0M147.6 41.1h0"/>
<path class="k1" opacity=".8" stroke-width="6.5" d="M66.2 205.9h0M59.8 188.4h0"/>
<path class="k8" opacity=".8" stroke-width="3.5" d="M115.2 180.3h0M102.7 188.7h0"/>
<path class="k7" opacity=".2" stroke-width="6.5" d="M50.9 111.4h0"/>
<path class="k3" opacity=".3" stroke-width="5.5" d="M59.2 136.0h0M73.4 121.1h0M75.0 132.7h0M72.1 122.8h0"/>
<path class="k27" opacity=".3" stroke-width="1.5" d="M139.2 98.0h0M135.2 108.1h0M137.2 83.2h0M138.3 102.8h0M138.3 100.4h0M138.2 106.4h0M139.6 101.5h0M140.0 108.2h0M133.7 104.7h0M138.3 97.3h0M137.7 103.9h0"/>
<path class="k21" opacity=".4" stroke-width="2" d="M141.8 78.9h0M144.8 94.1h0M144.8 71.9h0"/>
<path class="k2" opacity=".4" stroke-width="5" d="M185.7 119.0h0"/>
<path class="k10" opacity=".3" stroke-width="3.5" d="M175.8 103.5h0M166.9 90.8h0M160.4 100.0h0M165.2 102.2h0M112.5 108.8h0M110.3 105.3h0M101.7 108.1h0"/>
<path class="k29" opacity=".4" stroke-width="5" d="M81.2 129.1h0M84.4 99.3h0M91.8 97.2h0M83.5 90.5h0M80.8 114.4h0M91.8 113.8h0M181.4 114.6h0"/>
<path class="k21" opacity=".3" stroke-width="4" d="M171.7 79.5h0M167.7 90.0h0M178.9 83.1h0"/>
<path class="k17" opacity=".6" stroke-width="2.5" d="M127.0 52.2h0M128.2 54.6h0"/>
<path class="k26" opacity=".2" stroke-width="4.5" d="M195.7 90.6h0M96.6 56.9h0"/>
<path class="k23" opacity=".2" stroke-width="2" d="M132.0 43.9h0"/>
<path class="k4" opacity=".6" stroke-width="1" d="M137.3 53.1h0M136.3 44.3h0"/>
<path class="k29" opacity=".4" stroke-width="5.5" d="M83.4 118.6h0"/>
<path class="k23" opacity=".3" stroke-width="4" d="M185.3 88.9h0"/>
<path class="k22" opacity=".3" stroke-width="1" d="M136.0 109.7h0M137.0 88.3h0M136.5 101.8h0M136.6 102.3h0M135.3 107.4h0"/>
<path class="k19" opacity=".3" stroke-width="2.5" d="M143.8 144.6h0"/>
<path class="k32" opacity=".1" stroke-width="3" d="M119.4 59.0h0"/>
<path class="k17" opacity=".3" stroke-width="4.5" d="M86.0 67.1h0M188.5 67.6h0M187.2 95.7h0M92.7 103.0h0M80.4 86.2h0M191.3 57.2h0"/>
<path class="k11" opacity=".2" stroke-width="5.5" d="M60.9 117.0h0M60.1 101.9h0M56.7 98.7h0"/>
<path class="k17" opacity=".5" stroke-width="3" d="M155.0 39.2h0M156.6 44.8h0M117.9 72.7h0M151.2 55.3h0M157.0 47.9h0M123.4 71.5h0M159.4 66.9h0M165.4 66.7h0M160.9 70.3h0M116.6 76.8h0M158.2 46.4h0"/>
<path class="k21" opacity=".5" stroke-width="1.5" d="M139.6 60.3h0M140.3 51.6h0M137.7 44.9h0M135.2 52.6h0M133.7 75.9h0"/>
<path class="k24" opacity=".5" stroke-width="3.5" d="M164.6 62.4h0M167.5 28.7h0M108.4 82.8h0M171.2 65.3h0"/>
<path class="k30" opacity=".5" stroke-width="5.5" d="M189.1 26.7h0M190.7 39.3h0"/>
<path class="k32" opacity=".5" stroke-width="5" d="M187.2 25.6h0"/>
<path class="k31" opacity=".5" stroke-width="4.5" d="M87.0 125.1h0"/>
<path class="k21" opacity=".5" stroke-width="3" d="M162.7 53.4h0M123.7 76.5h0M156.6 46.6h0M118.0 69.7h0M156.9 39.6h0M151.8 65.5h0M151.4 63.0h0M166.1 51.6h0M154.5 40.0h0"/>
<path class="k14" opacity=".6" stroke-width="2.5" d="M148.8 145.8h0M124.4 153.9h0"/>
<path class="k5" opacity=".5" stroke-width="6" d="M201.0 61.0h0"/>
<path class="k30" opacity=".6" stroke-width="1.5" d="M133.3 52.8h0"/>
<path class="k28" opacity=".5" stroke-width="6" d="M55.2 141.2h0"/>
<path class="k23" opacity=".4" stroke-width="5.5" d="M187.2 45.0h0"/>
<path class="k32" opacity=".3" stroke-width="5" d="M187.7 72.1h0M191.8 80.6h0M80.4 61.2h0M191.1 60.0h0"/>
<path class="k23" opacity=".6" stroke-width="2" d="M140.3 52.3h0M129.2 70.8h0"/>
<path class="k0" opacity=".5" stroke-width="2" d="M130.6 129.5h0M131.1 136.0h0M140.8 129.7h0M142.9 139.5h0M142.2 142.9h0M125.9 138.0h0M129.5 137.9h0M141.3 143.7h0M126.1 134.2h0M142.2 133.6h0M147.0 144.6h0M131.0 133.6h0M145.1 144.1h0M126.7 139.2h0M130.4 137.9h0M131.0 129.7h0M143.7 131.8h0M142.3 135.2h0M143.1 137.5h0M144.1 139.6h0M131.2 132.9h0M127.5 139.6h0M142.7 136.0h0M130.1 129.9h0M131.4 132.9h0M128.7 130.1h0M127.2 134.0h0M131.6 143.1h0M129.0 135.3h0M142.1 145.8h0M130.3 143.7h0M140.3 141.4h0M131.8 136.0h0M129.2 133.4h0M143.3 149.6h0M141.2 150.2h0M126.6 134.0h0M128.4 128.5h0"/>
<path class="k6" opacity=".7" stroke-width="2" d="M142.3 168.6h0M128.9 159.9h0"/>
<path class="k27" opacity=".2" stroke-width="2.5" d="M120.9 44.7h0M123.3 45.1h0M124.3 51.6h0"/>
<path class="k16" opacity=".4" stroke-width="1.5" d="M137.2 47.8h0M133.8 54.2h0"/>
<path class="k31" opacity=".4" stroke-width="2.5" d="M124.6 112.8h0M153.6 115.5h0M145.8 113.8h0M150.5 84.8h0M116.3 118.9h0M153.3 119.8h0M145.9 85.6h0M119.4 113.8h0M121.3 120.4h0M148.1 123.6h0M125.7 87.4h0M125.6 88.3h0M121.5 121.4h0M146.6 84.6h0M146.9 113.0h0M148.2 97.6h0M150.7 126.0h0M146.9 114.6h0M126.5 119.6h0M121.3 92.6h0M129.1 95.2h0M147.7 80.5h0M128.2 110.1h0M124.2 120.6h0M147.2 111.2h0M149.3 113.8h0M148.7 78.4h0M145.2 84.3h0"/>
<path class="k6" opacity=".8" stroke-width="5" d="M80.9 179.8h0"/>
<path class="k9" opacity=".3" stroke-width="3.5" d="M104.4 106.3h0M168.0 106.6h0M169.3 105.5h0M175.3 99.6h0M163.7 96.7h0M158.4 98.0h0M167.0 96.5h0M159.1 104.1h0M164.0 97.4h0M168.4 92.4h0M168.9 109.9h0M157.2 102.2h0M157.9 107.4h0M162.8 102.4h0M169.5 168.8h0M158.9 83.0h0M167.0 92.9h0M160.8 97.2h0M159.5 89.4h0M159.9 107.8h0M166.7 104.4h0M168.6 89.9h0M111.8 106.6h0M167.1 97.6h0"/>
<path class="k3" opacity=".4" stroke-width="1" d="M136.5 120.4h0"/>
<path class="k22" opacity=".2" stroke-width="6.5" d="M58.0 107.8h0M211.0 109.3h0"/>
<path class="k11" opacity=".6" stroke-width="6.5" d="M59.4 150.3h0M56.5 164.4h0M61.5 159.0h0M49.1 160.4h0"/>
<path class="k6" opacity=".5" stroke-width="4.5" d="M75.3 150.3h0M93.4 136.2h0M94.7 155.0h0M80.6 138.9h0M88.3 125.6h0"/>
<path class="k6" opacity=".8" stroke-width="4.5" d="M85.5 172.1h0M84.3 196.3h0M95.5 191.2h0M83.2 197.9h0M86.4 183.0h0"/>
<path class="k10" opacity=".3" stroke-width="5" d="M186.6 88.7h0M187.4 116.6h0M73.8 120.4h0"/>
<path class="k28" opacity=".5" stroke-width="5.5" d="M65.8 141.5h0M64.5 152.9h0"/>
<path class="k5" opacity=".5" stroke-width="1.5" d="M133.1 50.4h0M140.0 72.2h0M133.5 69.8h0M139.0 60.4h0"/>
<path class="k21" opacity=".6" stroke-width="3.5" d="M159.5 48.3h0M175.7 55.5h0M157.4 52.1h0"/>
<path class="k16" opacity=".4" stroke-width="3" d="M168.0 55.1h0M156.9 52.2h0"/>
<path class="k17" opacity=".2" stroke-width="5" d="M197.7 92.5h0M196.8 77.9h0M68.3 82.6h0M63.6 90.4h0M85.8 67.2h0M201.3 92.5h0M71.9 67.7h0M78.7 91.5h0M67.0 78.4h0"/>
<path class="k1" opacity=".3" stroke-width="6.5" d="M54.2 129.7h0"/>
<path class="k6" opacity=".8" stroke-width="5.5" d="M76.8 165.8h0M72.7 203.0h0M71.5 180.4h0M70.9 187.2h0"/>
<path class="k3" opacity=".3" stroke-width="5" d="M191.8 131.5h0M184.9 165.6h0M182.4 138.3h0M75.0 128.6h0M206.4 138.6h0M183.4 124.8h0M194.9 154.7h0M192.8 128.2h0"/>
<path class="k2" opacity=".7" stroke-width="2.5" d="M145.8 150.0h0M125.5 153.9h0M125.0 172.0h0M145.2 156.5h0M124.6 171.3h0"/>
<path class="k30" opacity=".6" stroke-width="4.5" d="M177.9 42.4h0"/>
<path class="k19" opacity=".7" stroke-width="4" d="M104.6 166.0h0M91.5 172.0h0M94.8 155.1h0M97.2 179.9h0M94.4 173.6h0M100.5 163.1h0"/>
<path class="k23" opacity=".3" stroke-width="1.5" d="M138.3 90.1h0M137.7 99.0h0"/>
<path class="k20" opacity=".8" stroke-width="5.5" d="M63.0 209.5h0"/>
<path class="k8" opacity=".4" stroke-width="4.5" d="M96.5 112.2h0M181.3 153.7h0M193.5 145.8h0M87.4 104.4h0M88.5 126.4h0M92.6 126.9h0M93.9 119.8h0M93.2 121.1h0"/>
<path class="k2" opacity=".8" stroke-width="4.5" d="M82.1 172.3h0M94.8 197.3h0M78.4 208.3h0M74.3 164.8h0M85.1 189.4h0M101.1 195.7h0M91.8 178.0h0M91.2 171.1h0"/>
<path class="k24" opacity=".2" stroke-width="4.5" d="M81.4 69.4h0M97.7 54.2h0M87.8 59.2h0M90.4 62.6h0"/>
<path class="k17" opacity=".3" stroke-width="3" d="M153.3 93.2h0M153.3 87.9h0"/>
<path class="k0" opacity=".6" stroke-width="6.5" d="M61.5 155.7h0M57.7 161.6h0"/>
<path class="k19" opacity=".7" stroke-width="2" d="M125.7 168.3h0M140.5 157.6h0M127.3 172.6h0M129.6 174.3h0"/>
<path class="k4" opacity=".6" stroke-width="3" d="M169.4 47.1h0M161.6 53.3h0M162.7 53.9h0M167.2 47.5h0M158.5 51.5h0"/>
<path class="k30" opacity=".5" stroke-width="3.5" d="M167.8 51.7h0M170.6 39.6h0M160.8 66.8h0M172.2 31.3h0M161.6 47.9h0"/>
<path class="k22" opacity=".5" stroke-width="3.5" d="M114.8 77.0h0M109.8 129.8h0M107.0 85.4h0M108.5 130.5h0M111.3 81.4h0"/>
<path class="k23" opacity=".1" stroke-width="6" d="M199.2 80.8h0"/>
<path class="k29" opacity=".3" stroke-width="3.5" d="M165.2 89.7h0M162.1 90.5h0M158.6 92.7h0M116.5 108.0h0M159.1 99.9h0M158.7 106.2h0M162.5 90.5h0M168.6 106.8h0M159.6 89.1h0M163.6 100.8h0M154.8 100.0h0M168.3 106.9h0M174.4 107.4h0M166.2 93.9h0M160.0 88.9h0M177.2 99.4h0M163.2 83.3h0M157.6 97.0h0M164.3 95.3h0M163.7 95.3h0M161.2 93.9h0M166.8 89.1h0M166.1 84.4h0M159.5 88.0h0M167.1 102.2h0M159.1 102.0h0M105.1 107.4h0M159.1 97.5h0M167.3 103.8h0M165.4 104.7h0M156.4 98.3h0M160.6 97.0h0M159.1 108.4h0M105.4 105.5h0M169.1 100.2h0M166.1 100.4h0M171.2 102.9h0M159.8 108.9h0"/>
<path class="k0" opacity=".6" stroke-width="3" d="M153.0 146.5h0M117.9 141.5h0M116.7 152.0h0M109.8 142.0h0M118.0 160.9h0M119.7 145.4h0M119.3 157.7h0M114.2 135.5h0M112.8 151.5h0M107.5 153.1h0M111.8 147.7h0M159.6 159.6h0M154.8 153.6h0M109.8 145.6h0M113.2 150.9h0M118.3 148.1h0M111.0 158.4h0M113.3 179.8h0M122.2 143.7h0M112.5 138.9h0M109.4 148.5h0M111.1 155.8h0M118.4 158.6h0M157.0 146.7h0M121.4 142.6h0M121.1 144.8h0"/>
<path class="k29" opacity=".3" stroke-width="4" d="M172.8 98.7h0M170.7 106.8h0M92.2 107.1h0M180.2 85.4h0M168.2 107.4h0M164.4 102.2h0M167.0 91.7h0M176.8 89.0h0M165.5 96.7h0M174.1 87.9h0M106.7 107.9h0M178.5 78.1h0M166.4 88.7h0M177.6 108.1h0M176.3 85.0h0M169.3 98.7h0M172.7 101.2h0M175.3 96.1h0M164.0 89.6h0M176.6 103.6h0M181.0 98.7h0M174.7 105.8h0M188.5 120.8h0M167.7 107.8h0"/>
<path class="k5" opacity=".7" stroke-width="3" d="M156.6 71.8h0"/>
<path class="k13" opacity=".3" stroke-width="2" d="M144.5 98.9h0M130.0 103.5h0M129.4 104.7h0M129.7 107.6h0M140.5 102.0h0M128.6 106.4h0M128.8 104.0h0M143.0 86.0h0M143.8 98.8h0M141.8 110.0h0M141.0 100.3h0M145.0 98.6h0M142.7 136.3h0M141.7 94.0h0M131.7 105.9h0M131.7 101.7h0M131.6 104.9h0M142.8 107.6h0"/>
<path class="k23" opacity=".3" stroke-width="5.5" d="M196.3 65.5h0M200.1 41.3h0M205.5 65.9h0"/>
<path class="k29" opacity=".2" stroke-width="6" d="M207.1 100.0h0M71.7 96.1h0M54.0 108.3h0M210.5 98.8h0M200.4 99.3h0M207.7 106.6h0M67.4 102.6h0"/>
<path class="k32" opacity=".1" stroke-width="3.5" d="M98.8 63.5h0M113.6 66.0h0M101.8 55.4h0"/>
<path class="k10" opacity=".4" stroke-width="1.5" d="M135.3 96.5h0M139.1 115.2h0M132.0 103.0h0M139.7 115.5h0M133.8 115.9h0"/>
<path class="k16" opacity=".6" stroke-width="3" d="M151.2 54.3h0M159.2 58.8h0M169.1 38.7h0M167.6 70.5h0"/>
<path class="k2" opacity=".1" stroke-width="5" d="M197.5 135.4h0"/>
<path class="k24" opacity=".1" stroke-width="3" d="M120.8 52.4h0"/>
<path class="k31" opacity=".5" stroke-width="2.5" d="M147.0 126.2h0M123.7 134.1h0M125.8 76.3h0M121.5 128.3h0"/>
<path class="k12" opacity=".5" stroke-width="1.5" d="M134.9 80.0h0M132.5 60.9h0M132.7 76.1h0M134.4 65.1h0M135.3 75.7h0"/>
<path class="k0" opacity=".5" stroke-width="5.5" d="M71.5 146.3h0M69.5 145.6h0M81.5 132.8h0M80.5 135.1h0M75.2 146.9h0M73.4 145.4h0"/>
<path class="k5" opacity=".4" stroke-width="3" d="M153.2 68.2h0M157.1 82.5h0M165.6 78.0h0M154.1 69.0h0M155.9 76.9h0M112.8 71.0h0M161.0 52.9h0M154.4 81.6h0M158.4 80.8h0M154.7 71.1h0M154.5 74.3h0M151.2 77.3h0"/>
<path class="k32" opacity=".5" stroke-width="1.5" d="M135.4 76.1h0M133.9 73.9h0M133.1 81.1h0M134.3 78.2h0M132.3 70.2h0M133.7 74.4h0M137.8 58.8h0"/>
<path class="k13" opacity=".3" stroke-width="1.5" d="M132.6 105.6h0M138.4 95.2h0M138.4 104.7h0M138.8 108.1h0M138.3 102.5h0M139.9 86.0h0M137.1 108.1h0M139.1 98.1h0M138.2 111.4h0"/>
<path class="k16" opacity=".6" stroke-width="1.5" d="M140.6 41.7h0M138.0 71.0h0M138.2 43.8h0"/>
<path class="k32" opacity=".2" stroke-width="4" d="M99.9 58.1h0M93.3 61.8h0M99.0 57.1h0M103.4 51.8h0M94.3 70.6h0"/>
<path class="k26" opacity=".5" stroke-width="5" d="M179.1 44.1h0M185.7 37.5h0M181.3 56.8h0"/>
<path class="k9" opacity=".2" stroke-width="3.5" d="M100.0 93.4h0"/>
<path class="k8" opacity=".6" stroke-width="6" d="M71.7 165.2h0M66.7 160.3h0M71.8 174.3h0M58.5 146.3h0"/>
<path class="k27" opacity=".3" stroke-width="1" d="M136.4 105.2h0M137.0 104.8h0M136.9 94.1h0"/>
<path class="k30" opacity=".6" stroke-width="2" d="M130.7 58.4h0M129.9 65.9h0M142.8 54.0h0"/>
<path class="k24" opacity=".5" stroke-width="5" d="M182.2 27.6h0"/>
<path class="k9" opacity=".4" stroke-width="3" d="M122.7 102.0h0M119.9 117.1h0M160.5 138.6h0M154.6 77.2h0M159.6 109.5h0M120.2 122.6h0M119.3 110.7h0M153.3 83.0h0M158.6 152.9h0M158.1 121.2h0M111.2 97.4h0M115.1 114.8h0M111.9 115.7h0M115.0 88.0h0M123.5 95.8h0M111.2 93.9h0M120.7 113.9h0M121.1 115.2h0M162.7 109.4h0M113.3 119.3h0M162.7 137.5h0M152.2 77.5h0M123.2 90.3h0M164.1 134.1h0M153.4 84.8h0M115.5 98.9h0M149.9 115.7h0M117.9 101.5h0M110.5 100.5h0M119.2 101.3h0M160.0 117.4h0M119.3 94.5h0M153.2 121.9h0"/>
<path class="k26" opacity=".2" stroke-width="6" d="M209.8 69.1h0"/>
<path class="k29" opacity=".5" stroke-width="1" d="M136.1 79.6h0M136.2 136.1h0"/>
<path class="k6" opacity=".8" stroke-width="2.5" d="M117.3 184.3h0"/>
<path class="k20" opacity=".7" stroke-width="6.5" d="M59.6 188.5h0"/>
<path class="k27" opacity=".3" stroke-width="2.5" d="M154.8 83.3h0M146.9 108.1h0M147.2 84.3h0M148.1 110.0h0M125.1 107.5h0M150.0 92.6h0M150.6 142.1h0M148.7 103.2h0M125.7 109.6h0M148.2 106.0h0M125.5 108.5h0M144.6 104.9h0M145.1 145.2h0M127.6 108.0h0M127.2 105.5h0M148.8 100.5h0M124.6 100.7h0M146.4 97.9h0M145.9 105.2h0M146.9 95.9h0"/>
<path class="k0" opacity=".8" stroke-width="6.5" d="M54.1 197.4h0M50.3 168.6h0"/>
<path class="k12" opacity=".3" stroke-width="2.5" d="M147.3 84.5h0M143.9 90.1h0M144.7 78.9h0M144.5 85.3h0"/>
<path class="k32" opacity=".2" stroke-width="2.5" d="M127.6 51.3h0M121.4 57.0h0"/>
<path class="k10" opacity=".3" stroke-width="3" d="M148.9 94.4h0M154.0 80.2h0M159.8 102.1h0M118.6 108.0h0M158.9 97.6h0M156.3 89.3h0"/>
<path class="k8" opacity=".2" stroke-width="5.5" d="M195.2 128.8h0M59.5 103.8h0"/>
<path class="k8" opacity=".7" stroke-width="4" d="M95.9 178.1h0M107.6 154.7h0M97.7 152.5h0M173.7 148.7h0M98.9 163.6h0M104.0 181.1h0M102.4 189.5h0"/>
<path class="k1" opacity=".7" stroke-width="6" d="M49.7 170.1h0M63.3 188.1h0M61.2 165.8h0"/>
<path class="k11" opacity=".3" stroke-width="6" d="M61.2 127.5h0M62.8 120.6h0"/>
<path class="k4" opacity=".4" stroke-width="5.5" d="M199.1 40.5h0"/>
<path class="k21" opacity=".3" stroke-width="3.5" d="M159.9 95.0h0M167.9 91.6h0M164.0 83.1h0M160.1 96.3h0"/>
<path class="k21" opacity=".3" stroke-width="2.5" d="M144.7 96.9h0M144.8 39.6h0M151.4 96.8h0"/>
<path class="k24" opacity=".2" stroke-width="6" d="M67.9 75.6h0M67.1 100.4h0"/>
<path class="k18" opacity=".4" stroke-width="2" d="M130.4 118.4h0M125.2 116.2h0M129.4 88.4h0M128.5 95.0h0M130.5 120.4h0M130.1 118.5h0M142.9 123.6h0M143.4 83.0h0M127.8 116.4h0M143.6 122.4h0M127.4 111.9h0M127.1 80.9h0M131.1 86.4h0M126.8 124.7h0M130.8 115.5h0M132.8 115.1h0M131.1 90.5h0M132.6 121.4h0M130.2 102.6h0M127.6 120.3h0M140.4 91.9h0M132.6 102.6h0M132.0 89.0h0M129.2 115.4h0M141.3 132.1h0M130.4 100.8h0M145.7 111.1h0M130.3 92.4h0M146.1 120.9h0M130.6 114.1h0M132.0 128.8h0M132.3 98.7h0M144.0 119.2h0M127.0 90.8h0M144.7 117.5h0M130.3 97.4h0M143.6 118.7h0"/>
<path class="k15" opacity=".5" stroke-width="5" d="M181.8 130.1h0"/>
<path class="k17" opacity=".2" stroke-width="2" d="M127.4 73.4h0"/>
<path class="k32" opacity=".5" stroke-width="3" d="M115.5 73.7h0M120.4 82.2h0M157.2 61.8h0M152.4 55.8h0M117.0 79.6h0M121.5 69.0h0M119.9 75.6h0M154.7 36.0h0"/>
<path class="k12" opacity=".6" stroke-width="3.5" d="M189.1 49.8h0M157.3 67.2h0M161.5 45.6h0M169.9 55.1h0M154.2 50.1h0M162.5 53.4h0"/>
<path class="k2" opacity=".4" stroke-width="2.5" d="M128.1 114.6h0M128.6 126.5h0M126.2 124.4h0M148.7 119.1h0M126.8 131.5h0M125.5 114.4h0M126.5 125.1h0M127.7 121.9h0M125.2 123.2h0M150.5 109.9h0M121.9 122.9h0M125.5 121.6h0M125.4 112.3h0"/>
<path class="k22" opacity=".4" stroke-width="5.5" d="M81.6 122.5h0M84.3 116.7h0M82.7 111.5h0M85.4 117.1h0"/>
<path class="k8" opacity=".8" stroke-width="4.5" d="M82.4 197.4h0M91.9 171.8h0M93.1 200.8h0M80.9 193.2h0"/>
<path class="k11" opacity=".8" stroke-width="5.5" d="M61.1 200.8h0"/>
<path class="k3" opacity=".5" stroke-width="6" d="M76.1 145.0h0M52.6 150.0h0M61.7 143.7h0"/>
<path class="k3" opacity=".6" stroke-width="3.5" d="M105.2 139.6h0M157.5 141.9h0M164.4 147.3h0M106.5 143.4h0M101.0 159.4h0M98.2 162.8h0M109.2 153.1h0M111.0 163.8h0M107.7 159.8h0M113.5 147.9h0M170.4 141.3h0M103.9 154.8h0"/>
<path class="k8" opacity=".4" stroke-width="3" d="M117.6 124.2h0M154.1 130.4h0M120.2 129.6h0M160.6 111.0h0M120.2 122.0h0M120.9 120.8h0M157.6 133.6h0M117.6 116.6h0M112.8 130.6h0M159.3 115.4h0M112.0 125.6h0M156.9 145.9h0M122.7 127.0h0M155.7 131.1h0"/>
<path class="k31" opacity=".1" stroke-width="5" d="M78.4 65.7h0M68.9 78.1h0"/>
<path class="k30" opacity=".4" stroke-width="3.5" d="M164.4 60.9h0M161.1 79.8h0M157.4 84.2h0M159.8 73.2h0M174.7 73.1h0M159.8 77.9h0M114.7 68.3h0M103.0 75.9h0M160.5 70.3h0"/>
<path class="k11" opacity=".7" stroke-width="6.5" d="M64.2 163.2h0M64.2 151.3h0M59.3 199.8h0"/>
<path class="k31" opacity=".3" stroke-width="3" d="M162.2 90.2h0M165.0 110.6h0M109.9 108.7h0M162.2 101.6h0M157.5 106.5h0M150.9 107.5h0M157.0 99.0h0M118.9 104.6h0M160.6 103.4h0M156.9 103.3h0M155.5 101.2h0M157.6 94.8h0M153.9 100.7h0M162.3 109.0h0M156.3 105.3h0M160.2 93.7h0M151.9 87.2h0M158.0 100.2h0M153.0 101.6h0M161.9 108.8h0M150.4 106.3h0M121.4 108.4h0M119.8 105.9h0M158.4 95.7h0M156.0 94.2h0M159.4 103.5h0M157.4 107.8h0M155.4 92.7h0M155.0 89.0h0M118.1 108.2h0M121.3 110.3h0"/>
<path class="k10" opacity=".5" stroke-width="2.5" d="M125.5 132.8h0M145.8 122.9h0"/>
<path class="k2" opacity=".3" stroke-width="2.5" d="M150.6 105.5h0"/>
<path class="k32" opacity=".3" stroke-width="4.5" d="M92.4 59.3h0"/>
<path class="k24" opacity=".6" stroke-width="3.5" d="M160.0 34.1h0M157.2 48.4h0M174.6 38.6h0M169.2 37.7h0"/>
<path class="k27" opacity=".3" stroke-width="2" d="M143.4 135.2h0M142.8 106.2h0M142.0 95.8h0M142.6 98.7h0M142.7 102.1h0M142.0 91.4h0M130.4 108.2h0M142.7 97.0h0M144.1 91.3h0M127.9 106.1h0M130.1 111.1h0M129.2 106.1h0M143.7 91.5h0M131.1 108.0h0M142.5 96.1h0M141.5 108.0h0M143.5 88.0h0M140.2 108.8h0M141.5 104.7h0M140.7 109.0h0M129.2 108.5h0M127.8 104.7h0M142.4 107.3h0M125.2 108.6h0M142.0 109.9h0M145.2 132.1h0M129.8 106.7h0M145.3 102.5h0"/>
<path class="k19" opacity=".6" stroke-width="2.5" d="M124.4 163.3h0M123.6 143.0h0M151.7 135.7h0M123.2 157.6h0M146.3 157.2h0M122.2 146.1h0M158.4 154.0h0M151.3 161.5h0M129.1 152.8h0M145.9 143.8h0"/>
<path class="k23" opacity=".2" stroke-width="6.5" d="M220.5 94.2h0"/>
<path class="k21" opacity=".3" stroke-width="5" d="M188.5 80.1h0M199.5 46.2h0"/>
<path class="k32" opacity=".6" stroke-width="4.5" d="M181.3 39.6h0"/>
<path class="k21" opacity=".1" stroke-width="6.5" d="M210.6 73.7h0"/>
<path class="k18" opacity=".4" stroke-width="4" d="M85.2 123.8h0M93.6 119.9h0M179.2 111.3h0M93.2 93.4h0M83.8 102.0h0M99.1 100.3h0M106.9 82.1h0M94.1 101.3h0M108.3 111.5h0M103.8 101.7h0M97.3 83.2h0M95.3 91.8h0M179.1 114.5h0M102.0 114.3h0M95.4 102.3h0M171.2 65.6h0M98.6 119.8h0M105.4 94.4h0M103.2 116.3h0M97.6 120.4h0M164.4 128.5h0M96.8 91.0h0M174.3 119.9h0M102.1 97.5h0M95.9 100.8h0M101.9 115.3h0M99.8 95.9h0M90.8 103.1h0M102.1 120.4h0M97.8 91.2h0M180.2 111.8h0M107.2 93.3h0M104.6 95.9h0M101.6 113.4h0M105.7 110.8h0"/>
<path class="k8" opacity=".7" stroke-width="7" d="M50.4 167.1h0"/>
<path class="k32" opacity=".2" stroke-width="4.5" d="M88.6 65.7h0M76.3 108.4h0M95.9 64.6h0"/>
<path class="k19" opacity=".5" stroke-width="5.5" d="M75.4 143.4h0M74.5 147.9h0M81.1 128.2h0"/>
<path class="k2" opacity=".6" stroke-width="4.5" d="M93.4 158.8h0M91.9 161.3h0M102.0 158.3h0M97.9 154.7h0M99.2 150.3h0M79.9 144.0h0M75.3 150.3h0M87.0 146.4h0M171.5 146.2h0M78.2 170.4h0M86.3 139.6h0M81.2 157.9h0M83.5 179.1h0"/>
<path class="k2" opacity=".5" stroke-width="1.5" d="M135.2 142.0h0M134.7 140.8h0M131.8 136.4h0M132.5 141.1h0"/>
<path class="k22" opacity=".5" stroke-width="2" d="M125.1 139.0h0M129.4 83.8h0M143.1 134.6h0M132.9 80.5h0M130.2 124.7h0M141.4 133.1h0M130.8 84.6h0"/>
<path class="k3" opacity=".4" stroke-width="2" d="M143.0 119.9h0M139.7 119.0h0M129.2 118.0h0M145.4 139.8h0M131.7 111.4h0M143.4 117.0h0M130.3 121.8h0M140.8 115.8h0M142.0 122.0h0M143.9 118.6h0M127.4 121.1h0M128.4 117.9h0M124.9 118.9h0M131.0 130.8h0M140.4 121.1h0M139.5 128.3h0"/>
<path class="k0" opacity=".8" stroke-width="7" d="M52.0 168.7h0"/>
<path class="k12" opacity=".7" stroke-width="3.5" d="M179.0 59.0h0"/>
<path class="k7" opacity=".5" stroke-width="7" d="M48.7 141.9h0"/>
<path class="k3" opacity=".6" stroke-width="5.5" d="M74.3 156.0h0M73.2 162.1h0M55.3 166.4h0M51.2 147.0h0"/>
<path class="k27" opacity=".3" stroke-width="5.5" d="M73.6 136.5h0M192.7 94.5h0M77.7 118.9h0M66.4 122.3h0M198.7 136.7h0"/>
<path class="k5" opacity=".6" stroke-width="2" d="M145.7 52.9h0M149.2 52.3h0M132.0 47.6h0"/>
<path class="k7" opacity=".3" stroke-width="6" d="M63.4 122.2h0M55.8 117.4h0"/>
<path class="k26" opacity=".7" stroke-width="3" d="M156.6 55.2h0M154.6 34.2h0M169.8 56.6h0"/>
<path class="k0" opacity=".6" stroke-width="2.5" d="M149.7 159.1h0M117.7 150.9h0M125.8 156.3h0M145.2 135.6h0M121.8 147.2h0M148.2 141.4h0M153.5 148.9h0M150.4 158.5h0M124.0 147.7h0M126.2 140.5h0M142.9 144.4h0M147.8 143.7h0M121.2 145.9h0M124.4 143.5h0M120.1 156.7h0M148.9 146.5h0M121.3 143.1h0M125.9 144.9h0M118.5 164.3h0M129.1 141.8h0M147.8 155.0h0M119.4 153.7h0M143.5 170.9h0M147.1 157.4h0M146.5 147.4h0M118.0 160.5h0M150.4 150.5h0M119.4 144.2h0"/>
<path class="k23" opacity=".2" stroke-width="4" d="M96.2 60.3h0"/>
<path class="k2" opacity=".6" stroke-width="3.5" d="M101.6 161.4h0M113.9 138.2h0M102.3 149.0h0M113.1 159.5h0M110.2 155.7h0M106.5 157.4h0M100.9 151.4h0M110.6 151.0h0M101.4 144.6h0M109.7 147.6h0M109.7 145.6h0M103.3 150.0h0"/>
<path class="k21" opacity=".3" stroke-width="1" d="M136.8 100.1h0"/>
<path class="k8" opacity=".5" stroke-width="5" d="M87.2 134.5h0M75.2 148.9h0M81.2 144.3h0M86.7 138.1h0M83.7 147.7h0M76.6 142.4h0"/>
<path class="k22" opacity=".3" stroke-width="5.5" d="M79.6 134.0h0M190.7 112.5h0M79.2 100.1h0"/>
<path class="k13" opacity=".4" stroke-width="5" d="M92.7 119.2h0M88.9 93.6h0"/>
<path class="k19" opacity=".6" stroke-width="3" d="M122.3 166.4h0M120.0 154.6h0M169.9 134.0h0M149.8 148.4h0M123.7 160.7h0M117.6 162.7h0M166.8 140.4h0"/>
<path class="k27" opacity=".1" stroke-width="4.5" d="M95.1 64.3h0"/>
<path class="k6" opacity=".7" stroke-width="5.5" d="M76.2 181.2h0"/>
<path class="k19" opacity=".4" stroke-width="2" d="M142.8 121.9h0M143.6 118.8h0M142.0 129.3h0M129.0 126.3h0M130.3 122.4h0M127.9 129.7h0M130.2 119.6h0M145.3 124.3h0M146.9 140.6h0M128.6 131.1h0M146.4 163.9h0"/>
<path class="k27" opacity=".6" stroke-width="3" d="M169.6 145.2h0"/>
<path class="k32" opacity=".3" stroke-width="3" d="M154.5 99.1h0M151.4 90.9h0M115.7 58.5h0"/>
<path class="k3" opacity=".4" stroke-width="5.5" d="M204.8 143.1h0"/>
<path class="k10" opacity=".4" stroke-width="4" d="M167.9 112.3h0M170.2 111.7h0M87.7 100.2h0M103.6 92.5h0M179.3 82.7h0M178.2 110.9h0"/>
<path class="k3" opacity=".4" stroke-width="6" d="M72.6 136.7h0"/>
<path class="k26" opacity=".4" stroke-width="4" d="M176.8 89.1h0M101.6 92.2h0M168.4 66.9h0M165.8 48.0h0M165.6 75.9h0M186.9 47.6h0M168.3 58.8h0M166.5 77.5h0M102.3 78.8h0M180.4 40.0h0M174.8 79.4h0M181.6 61.7h0M172.4 81.9h0M169.5 69.7h0M169.5 67.0h0M168.3 78.0h0M183.8 63.2h0M167.6 81.8h0M171.2 72.6h0M177.2 67.7h0M94.3 85.4h0"/>
<path class="k5" opacity=".4" stroke-width="5.5" d="M195.3 57.6h0"/>
<path class="k3" opacity=".6" stroke-width="4" d="M87.3 182.2h0M91.7 155.6h0M100.7 142.9h0M89.3 156.4h0M107.1 136.8h0M100.8 159.6h0M98.4 148.5h0M180.1 149.2h0M93.4 151.7h0M88.9 162.6h0M83.1 170.9h0M101.3 160.4h0M93.8 153.8h0M101.3 159.8h0M172.3 144.4h0M101.2 140.8h0M102.6 162.9h0M177.8 149.0h0M104.6 166.3h0M93.4 139.7h0M94.3 173.3h0"/>
<path class="k0" opacity=".3" stroke-width="4.5" d="M96.1 108.1h0"/>
<path class="k13" opacity=".1" stroke-width="5" d="M76.3 85.8h0"/>
<path class="k6" opacity=".6" stroke-width="4.5" d="M98.2 145.6h0M94.5 148.4h0M86.0 148.5h0M89.2 153.8h0"/>
<path class="k17" opacity=".4" stroke-width="3" d="M118.2 64.3h0M154.3 79.9h0M160.4 74.0h0M149.4 81.9h0M152.7 76.9h0M156.4 77.4h0M122.1 85.7h0M116.6 92.2h0M154.3 64.3h0M151.4 87.7h0M110.8 70.2h0M159.5 77.1h0M155.9 72.0h0M160.3 55.9h0M150.7 68.4h0M113.6 96.3h0M109.7 91.2h0M163.0 81.6h0M119.6 62.8h0M152.1 51.8h0M158.3 80.3h0"/>
<path class="k6" opacity=".7" stroke-width="4.5" d="M81.8 168.4h0M90.0 189.7h0M85.5 165.8h0M89.5 173.3h0"/>
<path class="k24" opacity=".5" stroke-width="3" d="M115.8 72.0h0M119.4 81.5h0M115.5 75.9h0M152.3 61.7h0M121.7 74.1h0M156.4 53.7h0M154.4 50.5h0M112.9 75.2h0M161.4 62.2h0"/>
<path class="k2" opacity=".5" stroke-width="4" d="M104.7 146.0h0M102.4 148.2h0M96.4 123.1h0M105.8 126.3h0M104.8 128.4h0M102.5 143.7h0M104.2 145.3h0M100.1 127.9h0M94.3 128.8h0M88.0 140.4h0"/>
<path class="k17" opacity=".3" stroke-width="5" d="M202.6 68.9h0M196.9 48.5h0M186.2 67.7h0M194.7 64.5h0M190.1 79.5h0M90.8 75.7h0M182.5 77.7h0M187.2 80.6h0M74.7 98.2h0"/>
<path class="k28" opacity=".6" stroke-width="7" d="M53.8 147.3h0"/>
<path class="k15" opacity=".4" stroke-width="5.5" d="M81.3 110.6h0"/>
<path class="k21" opacity=".4" stroke-width="5" d="M188.3 36.7h0M184.8 72.4h0M191.1 51.4h0M185.7 54.5h0"/>
<path class="k8" opacity=".8" stroke-width="4" d="M106.3 183.0h0M90.3 183.2h0M100.0 167.3h0M92.6 197.0h0M102.8 180.1h0M91.4 173.2h0"/>
<path class="k22" opacity=".2" stroke-width="5.5" d="M69.1 111.1h0M205.7 96.6h0M76.4 114.4h0M73.9 109.8h0M61.4 112.5h0M71.1 113.0h0M199.3 102.8h0M212.2 107.0h0M78.4 107.5h0M62.7 102.7h0M74.7 110.9h0"/>
<path class="k22" opacity=".4" stroke-width="1" d="M136.2 98.6h0M136.6 76.8h0M136.6 84.8h0M136.0 113.4h0M136.7 87.9h0M135.7 100.1h0M135.4 104.1h0M135.3 97.0h0M135.6 86.3h0"/>
<path class="k1" opacity=".3" stroke-width="7" d="M57.6 122.6h0"/>
<path class="k12" opacity=".2" stroke-width="3.5" d="M109.7 48.7h0"/>
<path class="k26" opacity=".4" stroke-width="1" d="M136.7 78.9h0M137.2 51.4h0M136.3 79.0h0"/>
<path class="k6" opacity=".4" stroke-width="3.5" d="M169.3 128.5h0M169.6 126.2h0M110.3 120.1h0M114.0 121.6h0M166.0 126.7h0M164.6 129.5h0M159.4 115.8h0M112.9 117.6h0M165.3 114.2h0"/>
<path class="k3" opacity=".5" stroke-width="5.5" d="M72.2 137.6h0M79.9 143.3h0M55.1 157.0h0"/>
<path class="k23" opacity=".5" stroke-width="2.5" d="M122.9 74.5h0M128.3 71.9h0M122.3 83.8h0M123.4 84.5h0M128.8 72.1h0M148.1 65.8h0M146.7 67.4h0M128.3 73.3h0M121.6 68.3h0M146.9 64.5h0M148.0 67.0h0M144.8 52.1h0M118.5 77.8h0M152.1 38.2h0M153.7 51.8h0M147.1 58.3h0M126.7 84.5h0M149.6 71.9h0M124.0 67.3h0M125.0 83.5h0M117.1 83.7h0M146.7 52.5h0M125.1 86.5h0"/>
<path class="k7" opacity=".6" stroke-width="6.5" d="M65.2 165.2h0M61.6 156.8h0M59.1 153.2h0M58.1 146.4h0M59.4 142.1h0M62.0 155.2h0"/>
<path class="k26" opacity=".6" stroke-width="1.5" d="M139.8 67.6h0"/>
<path class="k13" opacity=".3" stroke-width="3" d="M162.7 101.4h0M162.3 97.5h0M117.1 102.8h0M153.3 92.6h0M117.4 47.8h0M160.3 103.0h0M157.1 89.9h0M153.5 88.0h0M157.7 91.8h0M160.0 87.5h0M156.0 105.7h0M158.9 97.2h0M154.6 99.2h0M120.3 105.7h0M157.6 153.8h0M151.4 95.4h0M158.8 108.5h0"/>
<path class="k2" opacity=".6" stroke-width="6.5" d="M54.6 155.5h0"/>
<path class="k0" opacity=".7" stroke-width="2.5" d="M149.0 162.0h0M124.2 155.3h0M128.5 159.0h0M122.9 160.5h0M125.9 151.9h0M128.1 163.1h0M126.2 162.6h0M125.4 165.7h0M121.2 171.3h0M145.3 149.8h0M150.6 159.1h0M121.1 157.6h0M125.9 170.6h0M124.8 156.5h0M148.6 171.2h0M155.4 163.0h0M119.4 166.9h0M150.0 157.7h0"/>
<path class="k12" opacity=".4" stroke-width="3" d="M121.2 94.3h0M154.6 70.2h0"/>
<path class="k19" opacity=".7" stroke-width="1.5" d="M138.9 159.9h0M135.2 163.6h0"/>
<path class="k2" opacity=".6" stroke-width="7" d="M54.1 168.2h0M56.8 153.4h0"/>
<path class="k9" opacity=".5" stroke-width="1.5" d="M135.0 129.7h0M135.4 83.0h0M138.8 125.5h0"/>
<path class="k13" opacity=".4" stroke-width="1" d="M136.6 114.0h0M136.3 114.7h0M136.0 117.1h0"/>
<path class="k27" opacity=".2" stroke-width="6.5" d="M214.1 109.2h0M56.1 94.9h0M213.4 91.2h0"/>
<path class="k8" opacity=".5" stroke-width="3" d="M114.2 132.9h0M114.9 144.5h0M112.2 134.6h0M161.7 135.0h0M116.5 142.2h0M107.1 139.5h0M112.8 131.9h0M162.8 133.4h0M114.1 147.9h0M112.5 140.7h0M111.2 133.1h0M112.8 129.7h0M115.6 134.2h0M154.8 142.4h0M117.3 123.4h0M112.6 134.2h0M113.6 138.0h0M121.7 149.2h0M160.6 171.1h0M111.0 141.3h0M117.1 137.9h0M165.2 167.8h0M112.9 136.7h0M118.7 132.1h0M111.0 137.1h0M153.0 131.9h0"/>
<path class="k20" opacity=".6" stroke-width="5" d="M63.8 142.6h0"/>
<path class="k18" opacity=".4" stroke-width="1" d="M136.9 113.3h0M136.2 100.0h0M135.9 109.8h0M135.9 100.8h0M135.4 102.6h0"/>
<path class="k27" opacity=".1" stroke-width="6.5" d="M52.7 102.6h0"/>
<path class="k25" opacity=".6" stroke-width="5.5" d="M71.8 150.2h0"/>
<path class="k21" opacity=".3" stroke-width="3" d="M158.8 93.2h0M157.0 84.7h0M154.0 86.6h0M164.4 94.0h0M112.3 60.2h0M157.4 91.1h0M119.6 53.4h0M119.4 57.6h0"/>
<path class="k21" opacity=".4" stroke-width="2.5" d="M151.6 85.9h0M164.7 61.8h0M146.2 79.4h0M145.5 48.6h0M124.9 84.2h0M144.5 79.4h0M126.3 90.9h0M143.6 79.3h0M147.9 66.4h0M149.5 70.1h0"/>
<path class="k22" opacity=".3" stroke-width="3" d="M150.4 97.2h0M154.6 107.5h0M151.4 94.7h0M158.0 94.6h0M121.9 106.3h0M153.3 106.7h0M120.0 105.2h0M152.6 103.6h0M151.4 87.8h0M117.7 101.6h0M163.4 96.7h0M155.2 103.4h0M150.7 90.8h0M118.2 105.6h0M161.1 106.9h0M153.0 109.8h0M152.4 86.9h0M149.3 101.4h0M155.3 102.7h0M161.8 99.5h0M118.1 106.2h0M156.5 110.4h0M154.2 91.0h0M157.2 102.3h0M151.9 104.8h0M155.4 105.5h0M160.1 105.8h0M161.6 102.5h0M117.1 106.4h0"/>
<path class="k27" opacity=".3" stroke-width="4" d="M179.1 82.4h0M163.6 104.0h0M163.8 101.8h0M166.9 155.5h0M174.1 143.8h0M170.4 93.8h0M192.9 139.6h0M95.7 72.0h0M164.1 97.4h0M174.1 105.4h0M170.8 105.2h0M174.9 106.3h0M177.5 104.1h0M101.5 105.0h0M176.9 95.2h0M183.1 89.3h0M176.7 108.8h0M179.1 107.7h0M99.2 57.8h0"/>
<path class="k9" opacity=".6" stroke-width="2" d="M143.0 152.7h0"/>
<path class="k0" opacity=".4" stroke-width="2" d="M130.6 123.0h0M130.1 123.2h0M130.1 115.9h0M130.8 113.5h0M129.0 120.0h0M131.0 130.4h0M130.0 112.6h0M140.0 132.5h0M128.6 112.5h0M132.7 126.1h0M140.1 119.1h0M142.1 136.8h0M130.8 124.2h0M145.8 124.6h0M140.0 120.8h0M131.7 128.8h0M140.9 134.0h0M142.2 125.0h0M127.8 120.8h0M129.9 122.1h0M139.9 127.6h0M143.4 118.1h0M145.7 127.5h0M141.0 117.5h0M128.3 127.8h0M141.7 124.6h0M144.1 132.8h0M130.8 117.8h0M126.5 129.1h0M145.7 126.3h0M139.9 139.6h0M143.6 124.4h0M146.2 124.4h0M131.0 127.1h0"/>
<path class="k21" opacity=".4" stroke-width="3.5" d="M164.9 84.0h0M168.6 70.2h0M165.5 82.6h0M170.1 57.7h0M108.7 67.9h0M161.6 67.5h0M167.4 76.2h0M170.5 64.3h0M167.9 71.3h0M158.1 70.0h0M169.9 56.5h0M163.6 73.3h0M165.6 71.0h0M172.6 70.9h0"/>
<path class="k32" opacity=".2" stroke-width="6" d="M70.5 83.4h0M71.3 87.4h0M210.9 82.2h0M73.4 67.4h0"/>
<path class="k11" opacity=".6" stroke-width="5.5" d="M54.7 166.3h0M59.3 158.0h0M62.1 156.7h0M58.5 169.1h0M59.5 160.7h0M63.3 156.7h0"/>
</g>
<line x1="39.50" y1="17.00" x2="39.50" y2="229.00" stroke="#1a1a1a" stroke-width="0.8"/>
<line x1="39.10" y1="228.60" x2="226.00" y2="228.60" stroke="#1a1a1a" stroke-width="0.8"/>
<line x1="37.30" y1="22.50" x2="39.50" y2="22.50" stroke="#1a1a1a" stroke-width="0.5"/>
<text x="35.90" y="24.20" font-size="4.9" text-anchor="end" fill="#1a1a1a">0.50</text>
<line x1="37.30" y1="63.40" x2="39.50" y2="63.40" stroke="#1a1a1a" stroke-width="0.5"/>
<text x="35.90" y="65.10" font-size="4.9" text-anchor="end" fill="#1a1a1a">0.25</text>
<line x1="37.30" y1="104.50" x2="39.50" y2="104.50" stroke="#1a1a1a" stroke-width="0.5"/>
<text x="35.90" y="106.20" font-size="4.9" text-anchor="end" fill="#1a1a1a">0.00</text>
<line x1="37.30" y1="145.40" x2="39.50" y2="145.40" stroke="#1a1a1a" stroke-width="0.5"/>
<text x="35.90" y="147.10" font-size="4.9" text-anchor="end" fill="#1a1a1a">-0.25</text>
<line x1="37.30" y1="186.50" x2="39.50" y2="186.50" stroke="#1a1a1a" stroke-width="0.5"/>
<text x="35.90" y="188.20" font-size="4.9" text-anchor="end" fill="#1a1a1a">-0.50</text>
<line x1="37.30" y1="227.40" x2="39.50" y2="227.40" stroke="#1a1a1a" stroke-width="0.5"/>
<text x="35.90" y="229.10" font-size="4.9" text-anchor="end" fill="#1a1a1a">-0.75</text>
<line x1="84.80" y1="228.60" x2="84.80" y2="230.80" stroke="#1a1a1a" stroke-width="0.5"/>
<text x="84.80" y="235.40" font-size="4.9" text-anchor="middle" fill="#1a1a1a">-0.5</text>
<line x1="136.30" y1="228.60" x2="136.30" y2="230.80" stroke="#1a1a1a" stroke-width="0.5"/>
<text x="136.30" y="235.40" font-size="4.9" text-anchor="middle" fill="#1a1a1a">0.0</text>
<line x1="187.70" y1="228.60" x2="187.70" y2="230.80" stroke="#1a1a1a" stroke-width="0.5"/>
<text x="187.70" y="235.40" font-size="4.9" text-anchor="middle" fill="#1a1a1a">0.5</text>
<text x="133.00" y="243.00" font-size="6.0" text-anchor="middle" fill="#111">Gene Significance for Age, RNASeq NABEC</text>
<text transform="translate(20.30,122.80) rotate(-90)" font-size="5.9" text-anchor="middle" fill="#111">Gene Significane for Age, RNASeq GTEX</text>
<text x="174.60" y="221.50" font-size="5.8" fill="#111">R = 0.574</text>
<text x="235.70" y="94.40" font-size="6.0" fill="#111">-logP, RNASeq GTEX</text>
<circle cx="240" cy="98.1" r="2.3" fill="#000"/>
<text x="245.40" y="99.70" font-size="4.5" fill="#111">4</text>
<circle cx="240" cy="105.2" r="2.8" fill="#000"/>
<text x="245.40" y="106.80" font-size="4.5" fill="#111">8</text>
<circle cx="240" cy="112.2" r="3.3" fill="#000"/>
<text x="245.40" y="113.80" font-size="4.5" fill="#111">12</text>
<circle cx="240" cy="121.0" r="3.8" fill="#000"/>
<text x="245.40" y="122.60" font-size="4.5" fill="#111">16</text>
<text x="235.70" y="142.00" font-size="6.0" fill="#111">-logP, RNASeq NABEC</text>
<circle cx="239.7" cy="146.4" r="0.75" fill="#8a8a8a"/>
<circle cx="239.7" cy="153.1" r="0.9" fill="#111"/>
<text x="243.20" y="148.00" font-size="4.5" fill="#111">5</text>
<text x="243.20" y="154.70" font-size="4.5" fill="#111">10</text>
<g shape-rendering="crispEdges">
<rect x="66.40" y="263.30" width="16.93" height="14.03" fill="#ff0000"/>
<rect x="83.03" y="263.30" width="16.93" height="14.03" fill="#ff5200"/>
<rect x="99.67" y="263.30" width="16.93" height="14.03" fill="#ff3000"/>
<rect x="116.30" y="263.30" width="16.93" height="14.03" fill="#ff6300"/>
<rect x="132.93" y="263.30" width="16.93" height="14.03" fill="#ff5c00"/>
<rect x="149.57" y="263.30" width="16.93" height="14.03" fill="#ff6900"/>
<rect x="166.20" y="263.30" width="16.93" height="14.03" fill="#ffc500"/>
<rect x="182.83" y="263.30" width="16.93" height="14.03" fill="#ffa300"/>
<rect x="199.47" y="263.30" width="16.93" height="14.03" fill="#ffb400"/>
<rect x="216.10" y="263.30" width="16.93" height="14.03" fill="#ffad00"/>
<rect x="232.73" y="263.30" width="16.93" height="14.03" fill="#ffc200"/>
<rect x="249.37" y="263.30" width="16.93" height="14.03" fill="#ffb800"/>
<rect x="66.40" y="277.03" width="16.93" height="14.03" fill="#ff5200"/>
<rect x="83.03" y="277.03" width="16.93" height="14.03" fill="#ff0000"/>
<rect x="99.67" y="277.03" width="16.93" height="14.03" fill="#ff6300"/>
<rect x="116.30" y="277.03" width="16.93" height="14.03" fill="#ff1400"/>
<rect x="132.93" y="277.03" width="16.93" height="14.03" fill="#ff3a00"/>
<rect x="149.57" y="277.03" width="16.93" height="14.03" fill="#ff4100"/>
<rect x="166.20" y="277.03" width="16.93" height="14.03" fill="#ff7700"/>
<rect x="182.83" y="277.03" width="16.93" height="14.03" fill="#ff8b00"/>
<rect x="199.47" y="277.03" width="16.93" height="14.03" fill="#ff9900"/>
<rect x="216.10" y="277.03" width="16.93" height="14.03" fill="#ff8100"/>
<rect x="232.73" y="277.03" width="16.93" height="14.03" fill="#ff8f00"/>
<rect x="249.37" y="277.03" width="16.93" height="14.03" fill="#ff9600"/>
<rect x="66.40" y="290.75" width="16.93" height="14.03" fill="#ff3000"/>
<rect x="83.03" y="290.75" width="16.93" height="14.03" fill="#ff6300"/>
<rect x="99.67" y="290.75" width="16.93" height="14.03" fill="#ff0000"/>
<rect x="116.30" y="290.75" width="16.93" height="14.03" fill="#ff6d00"/>
<rect x="132.93" y="290.75" width="16.93" height="14.03" fill="#ff5f00"/>
<rect x="149.57" y="290.75" width="16.93" height="14.03" fill="#ff7400"/>
<rect x="166.20" y="290.75" width="16.93" height="14.03" fill="#fff800"/>
<rect x="182.83" y="290.75" width="16.93" height="14.03" fill="#ffaa00"/>
<rect x="199.47" y="290.75" width="16.93" height="14.03" fill="#ffbb00"/>
<rect x="216.10" y="290.75" width="16.93" height="14.03" fill="#ffb800"/>
<rect x="232.73" y="290.75" width="16.93" height="14.03" fill="#ffe000"/>
<rect x="249.37" y="290.75" width="16.93" height="14.03" fill="#ffdd00"/>
<rect x="66.40" y="304.48" width="16.93" height="14.03" fill="#ff6300"/>
<rect x="83.03" y="304.48" width="16.93" height="14.03" fill="#ff1400"/>
<rect x="99.67" y="304.48" width="16.93" height="14.03" fill="#ff6d00"/>
<rect x="116.30" y="304.48" width="16.93" height="14.03" fill="#ff0000"/>
<rect x="132.93" y="304.48" width="16.93" height="14.03" fill="#ff3600"/>
<rect x="149.57" y="304.48" width="16.93" height="14.03" fill="#ff4100"/>
<rect x="166.20" y="304.48" width="16.93" height="14.03" fill="#ff5f00"/>
<rect x="182.83" y="304.48" width="16.93" height="14.03" fill="#ff7400"/>
<rect x="199.47" y="304.48" width="16.93" height="14.03" fill="#ff7700"/>
<rect x="216.10" y="304.48" width="16.93" height="14.03" fill="#ff7400"/>
<rect x="232.73" y="304.48" width="16.93" height="14.03" fill="#ff6300"/>
<rect x="249.37" y="304.48" width="16.93" height="14.03" fill="#ff7a00"/>
<rect x="66.40" y="318.20" width="16.93" height="14.03" fill="#ff5c00"/>
<rect x="83.03" y="318.20" width="16.93" height="14.03" fill="#ff3a00"/>
<rect x="99.67" y="318.20" width="16.93" height="14.03" fill="#ff5f00"/>
<rect x="116.30" y="318.20" width="16.93" height="14.03" fill="#ff3600"/>
<rect x="132.93" y="318.20" width="16.93" height="14.03" fill="#ff0000"/>
<rect x="149.57" y="318.20" width="16.93" height="14.03" fill="#ff1100"/>
<rect x="166.20" y="318.20" width="16.93" height="14.03" fill="#ff6900"/>
<rect x="182.83" y="318.20" width="16.93" height="14.03" fill="#ff8500"/>
<rect x="199.47" y="318.20" width="16.93" height="14.03" fill="#ff9200"/>
<rect x="216.10" y="318.20" width="16.93" height="14.03" fill="#ffa300"/>
<rect x="232.73" y="318.20" width="16.93" height="14.03" fill="#ff8500"/>
<rect x="249.37" y="318.20" width="16.93" height="14.03" fill="#ff9c00"/>
<rect x="66.40" y="331.93" width="16.93" height="14.03" fill="#ff6900"/>
<rect x="83.03" y="331.93" width="16.93" height="14.03" fill="#ff4100"/>
<rect x="99.67" y="331.93" width="16.93" height="14.03" fill="#ff7400"/>
<rect x="116.30" y="331.93" width="16.93" height="14.03" fill="#ff4100"/>
<rect x="132.93" y="331.93" width="16.93" height="14.03" fill="#ff1100"/>
<rect x="149.57" y="331.93" width="16.93" height="14.03" fill="#ff0000"/>
<rect x="166.20" y="331.93" width="16.93" height="14.03" fill="#ff8100"/>
<rect x="182.83" y="331.93" width="16.93" height="14.03" fill="#ff9200"/>
<rect x="199.47" y="331.93" width="16.93" height="14.03" fill="#ffaa00"/>
<rect x="216.10" y="331.93" width="16.93" height="14.03" fill="#ffa300"/>
<rect x="232.73" y="331.93" width="16.93" height="14.03" fill="#ff9c00"/>
<rect x="249.37" y="331.93" width="16.93" height="14.03" fill="#ffa700"/>
<rect x="66.40" y="345.65" width="16.93" height="14.03" fill="#ffc500"/>
<rect x="83.03" y="345.65" width="16.93" height="14.03" fill="#ff7700"/>
<rect x="99.67" y="345.65" width="16.93" height="14.03" fill="#fff800"/>
<rect x="116.30" y="345.65" width="16.93" height="14.03" fill="#ff5f00"/>
<rect x="132.93" y="345.65" width="16.93" height="14.03" fill="#ff6900"/>
<rect x="149.57" y="345.65" width="16.93" height="14.03" fill="#ff8100"/>
<rect x="166.20" y="345.65" width="16.93" height="14.03" fill="#ff0000"/>
<rect x="182.83" y="345.65" width="16.93" height="14.03" fill="#ff9900"/>
<rect x="199.47" y="345.65" width="16.93" height="14.03" fill="#ffa000"/>
<rect x="216.10" y="345.65" width="16.93" height="14.03" fill="#ffa300"/>
<rect x="232.73" y="345.65" width="16.93" height="14.03" fill="#ff7a00"/>
<rect x="249.37" y="345.65" width="16.93" height="14.03" fill="#ff7700"/>
<rect x="66.40" y="359.38" width="16.93" height="14.03" fill="#ffa300"/>
<rect x="83.03" y="359.38" width="16.93" height="14.03" fill="#ff8b00"/>
<rect x="99.67" y="359.38" width="16.93" height="14.03" fill="#ffaa00"/>
<rect x="116.30" y="359.38" width="16.93" height="14.03" fill="#ff7400"/>
<rect x="132.93" y="359.38" width="16.93" height="14.03" fill="#ff8500"/>
<rect x="149.57" y="359.38" width="16.93" height="14.03" fill="#ff9200"/>
<rect x="166.20" y="359.38" width="16.93" height="14.03" fill="#ff9900"/>
<rect x="182.83" y="359.38" width="16.93" height="14.03" fill="#ff0000"/>
<rect x="199.47" y="359.38" width="16.93" height="14.03" fill="#ff9c00"/>
<rect x="216.10" y="359.38" width="16.93" height="14.03" fill="#ffa000"/>
<rect x="232.73" y="359.38" width="16.93" height="14.03" fill="#ffaa00"/>
<rect x="249.37" y="359.38" width="16.93" height="14.03" fill="#ffaa00"/>
<rect x="66.40" y="373.10" width="16.93" height="14.03" fill="#ffb400"/>
<rect x="83.03" y="373.10" width="16.93" height="14.03" fill="#ff9900"/>
<rect x="99.67" y="373.10" width="16.93" height="14.03" fill="#ffbb00"/>
<rect x="116.30" y="373.10" width="16.93" height="14.03" fill="#ff7700"/>
<rect x="132.93" y="373.10" width="16.93" height="14.03" fill="#ff9200"/>
<rect x="149.57" y="373.10" width="16.93" height="14.03" fill="#ffaa00"/>
<rect x="166.20" y="373.10" width="16.93" height="14.03" fill="#ffa000"/>
<rect x="182.83" y="373.10" width="16.93" height="14.03" fill="#ff9c00"/>
<rect x="199.47" y="373.10" width="16.93" height="14.03" fill="#ff0000"/>
<rect x="216.10" y="373.10" width="16.93" height="14.03" fill="#ffd300"/>
<rect x="232.73" y="373.10" width="16.93" height="14.03" fill="#ffaa00"/>
<rect x="249.37" y="373.10" width="16.93" height="14.03" fill="#ffb800"/>
<rect x="66.40" y="386.82" width="16.93" height="14.03" fill="#ffad00"/>
<rect x="83.03" y="386.82" width="16.93" height="14.03" fill="#ff8100"/>
<rect x="99.67" y="386.82" width="16.93" height="14.03" fill="#ffb800"/>
<rect x="116.30" y="386.82" width="16.93" height="14.03" fill="#ff7400"/>
<rect x="132.93" y="386.82" width="16.93" height="14.03" fill="#ffa300"/>
<rect x="149.57" y="386.82" width="16.93" height="14.03" fill="#ffa300"/>
<rect x="166.20" y="386.82" width="16.93" height="14.03" fill="#ffa300"/>
<rect x="182.83" y="386.82" width="16.93" height="14.03" fill="#ffa000"/>
<rect x="199.47" y="386.82" width="16.93" height="14.03" fill="#ffd300"/>
<rect x="216.10" y="386.82" width="16.93" height="14.03" fill="#ff0000"/>
<rect x="232.73" y="386.82" width="16.93" height="14.03" fill="#ff8f00"/>
<rect x="249.37" y="386.82" width="16.93" height="14.03" fill="#ffaa00"/>
<rect x="66.40" y="400.55" width="16.93" height="14.03" fill="#ffc200"/>
<rect x="83.03" y="400.55" width="16.93" height="14.03" fill="#ff8f00"/>
<rect x="99.67" y="400.55" width="16.93" height="14.03" fill="#ffe000"/>
<rect x="116.30" y="400.55" width="16.93" height="14.03" fill="#ff6300"/>
<rect x="132.93" y="400.55" width="16.93" height="14.03" fill="#ff8500"/>
<rect x="149.57" y="400.55" width="16.93" height="14.03" fill="#ff9c00"/>
<rect x="166.20" y="400.55" width="16.93" height="14.03" fill="#ff7a00"/>
<rect x="182.83" y="400.55" width="16.93" height="14.03" fill="#ffaa00"/>
<rect x="199.47" y="400.55" width="16.93" height="14.03" fill="#ffaa00"/>
<rect x="216.10" y="400.55" width="16.93" height="14.03" fill="#ff8f00"/>
<rect x="232.73" y="400.55" width="16.93" height="14.03" fill="#ff0000"/>
<rect x="249.37" y="400.55" width="16.93" height="14.03" fill="#ff8800"/>
<rect x="66.40" y="414.27" width="16.93" height="14.03" fill="#ffb800"/>
<rect x="83.03" y="414.27" width="16.93" height="14.03" fill="#ff9600"/>
<rect x="99.67" y="414.27" width="16.93" height="14.03" fill="#ffdd00"/>
<rect x="116.30" y="414.27" width="16.93" height="14.03" fill="#ff7a00"/>
<rect x="132.93" y="414.27" width="16.93" height="14.03" fill="#ff9c00"/>
<rect x="149.57" y="414.27" width="16.93" height="14.03" fill="#ffa700"/>
<rect x="166.20" y="414.27" width="16.93" height="14.03" fill="#ff7700"/>
<rect x="182.83" y="414.27" width="16.93" height="14.03" fill="#ffaa00"/>
<rect x="199.47" y="414.27" width="16.93" height="14.03" fill="#ffb800"/>
<rect x="216.10" y="414.27" width="16.93" height="14.03" fill="#ffaa00"/>
<rect x="232.73" y="414.27" width="16.93" height="14.03" fill="#ff8800"/>
<rect x="249.37" y="414.27" width="16.93" height="14.03" fill="#ff0000"/>
</g>
<g class="ct" font-size="2.2" fill="#40180a" fill-opacity="0.7" text-anchor="middle">
<text x="74.72" y="270.86">1</text>
<text x="91.35" y="270.86">0.76</text>
<text x="107.98" y="270.86">0.86</text>
<text x="124.62" y="270.86">0.71</text>
<text x="141.25" y="270.86">0.73</text>
<text x="157.88" y="270.86">0.69</text>
<text x="174.52" y="270.86">0.42</text>
<text x="191.15" y="270.86">0.52</text>
<text x="207.78" y="270.86">0.47</text>
<text x="224.42" y="270.86">0.49</text>
<text x="241.05" y="270.86">0.43</text>
<text x="257.68" y="270.86">0.46</text>
<text x="74.72" y="284.59">0.76</text>
<text x="91.35" y="284.59">1</text>
<text x="107.98" y="284.59">0.71</text>
<text x="124.62" y="284.59">0.94</text>
<text x="141.25" y="284.59">0.83</text>
<text x="157.88" y="284.59">0.81</text>
<text x="174.52" y="284.59">0.65</text>
<text x="191.15" y="284.59">0.59</text>
<text x="207.78" y="284.59">0.55</text>
<text x="224.42" y="284.59">0.62</text>
<text x="241.05" y="284.59">0.58</text>
<text x="257.68" y="284.59">0.56</text>
<text x="74.72" y="298.31">0.86</text>
<text x="91.35" y="298.31">0.71</text>
<text x="107.98" y="298.31">1</text>
<text x="124.62" y="298.31">0.68</text>
<text x="141.25" y="298.31">0.72</text>
<text x="157.88" y="298.31">0.66</text>
<text x="174.52" y="298.31">0.27</text>
<text x="191.15" y="298.31">0.5</text>
<text x="207.78" y="298.31">0.45</text>
<text x="224.42" y="298.31">0.46</text>
<text x="241.05" y="298.31">0.34</text>
<text x="257.68" y="298.31">0.35</text>
<text x="74.72" y="312.04">0.71</text>
<text x="91.35" y="312.04">0.94</text>
<text x="107.98" y="312.04">0.68</text>
<text x="124.62" y="312.04">1</text>
<text x="141.25" y="312.04">0.84</text>
<text x="157.88" y="312.04">0.81</text>
<text x="174.52" y="312.04">0.72</text>
<text x="191.15" y="312.04">0.66</text>
<text x="207.78" y="312.04">0.65</text>
<text x="224.42" y="312.04">0.66</text>
<text x="241.05" y="312.04">0.71</text>
<text x="257.68" y="312.04">0.64</text>
<text x="74.72" y="325.76">0.73</text>
<text x="91.35" y="325.76">0.83</text>
<text x="107.98" y="325.76">0.72</text>
<text x="124.62" y="325.76">0.84</text>
<text x="141.25" y="325.76">1</text>
<text x="157.88" y="325.76">0.95</text>
<text x="174.52" y="325.76">0.69</text>
<text x="191.15" y="325.76">0.61</text>
<text x="207.78" y="325.76">0.57</text>
<text x="224.42" y="325.76">0.52</text>
<text x="241.05" y="325.76">0.61</text>
<text x="257.68" y="325.76">0.54</text>
<text x="74.72" y="339.49">0.69</text>
<text x="91.35" y="339.49">0.81</text>
<text x="107.98" y="339.49">0.66</text>
<text x="124.62" y="339.49">0.81</text>
<text x="141.25" y="339.49">0.95</text>
<text x="157.88" y="339.49">1</text>
<text x="174.52" y="339.49">0.62</text>
<text x="191.15" y="339.49">0.57</text>
<text x="207.78" y="339.49">0.5</text>
<text x="224.42" y="339.49">0.52</text>
<text x="241.05" y="339.49">0.54</text>
<text x="257.68" y="339.49">0.51</text>
<text x="74.72" y="353.21">0.42</text>
<text x="91.35" y="353.21">0.65</text>
<text x="107.98" y="353.21">0.27</text>
<text x="124.62" y="353.21">0.72</text>
<text x="141.25" y="353.21">0.69</text>
<text x="157.88" y="353.21">0.62</text>
<text x="174.52" y="353.21">1</text>
<text x="191.15" y="353.21">0.55</text>
<text x="207.78" y="353.21">0.53</text>
<text x="224.42" y="353.21">0.52</text>
<text x="241.05" y="353.21">0.64</text>
<text x="257.68" y="353.21">0.65</text>
<text x="74.72" y="366.94">0.52</text>
<text x="91.35" y="366.94">0.59</text>
<text x="107.98" y="366.94">0.5</text>
<text x="124.62" y="366.94">0.66</text>
<text x="141.25" y="366.94">0.61</text>
<text x="157.88" y="366.94">0.57</text>
<text x="174.52" y="366.94">0.55</text>
<text x="191.15" y="366.94">1</text>
<text x="207.78" y="366.94">0.54</text>
<text x="224.42" y="366.94">0.53</text>
<text x="241.05" y="366.94">0.5</text>
<text x="257.68" y="366.94">0.5</text>
<text x="74.72" y="380.66">0.47</text>
<text x="91.35" y="380.66">0.55</text>
<text x="107.98" y="380.66">0.45</text>
<text x="124.62" y="380.66">0.65</text>
<text x="141.25" y="380.66">0.57</text>
<text x="157.88" y="380.66">0.5</text>
<text x="174.52" y="380.66">0.53</text>
<text x="191.15" y="380.66">0.54</text>
<text x="207.78" y="380.66">1</text>
<text x="224.42" y="380.66">0.38</text>
<text x="241.05" y="380.66">0.5</text>
<text x="257.68" y="380.66">0.46</text>
<text x="74.72" y="394.39">0.49</text>
<text x="91.35" y="394.39">0.62</text>
<text x="107.98" y="394.39">0.46</text>
<text x="124.62" y="394.39">0.66</text>
<text x="141.25" y="394.39">0.52</text>
<text x="157.88" y="394.39">0.52</text>
<text x="174.52" y="394.39">0.52</text>
<text x="191.15" y="394.39">0.53</text>
<text x="207.78" y="394.39">0.38</text>
<text x="224.42" y="394.39">1</text>
<text x="241.05" y="394.39">0.58</text>
<text x="257.68" y="394.39">0.5</text>
<text x="74.72" y="408.11">0.43</text>
<text x="91.35" y="408.11">0.58</text>
<text x="107.98" y="408.11">0.34</text>
<text x="124.62" y="408.11">0.71</text>
<text x="141.25" y="408.11">0.61</text>
<text x="157.88" y="408.11">0.54</text>
<text x="174.52" y="408.11">0.64</text>
<text x="191.15" y="408.11">0.5</text>
<text x="207.78" y="408.11">0.5</text>
<text x="224.42" y="408.11">0.58</text>
<text x="241.05" y="408.11">1</text>
<text x="257.68" y="408.11">0.6</text>
<text x="74.72" y="421.84">0.46</text>
<text x="91.35" y="421.84">0.56</text>
<text x="107.98" y="421.84">0.35</text>
<text x="124.62" y="421.84">0.64</text>
<text x="141.25" y="421.84">0.54</text>
<text x="157.88" y="421.84">0.51</text>
<text x="174.52" y="421.84">0.65</text>
<text x="191.15" y="421.84">0.5</text>
<text x="207.78" y="421.84">0.46</text>
<text x="224.42" y="421.84">0.5</text>
<text x="241.05" y="421.84">0.6</text>
<text x="257.68" y="421.84">1</text>
</g>
<text x="177.50" y="256.90" font-size="5.2" text-anchor="middle" font-weight="bold" fill="#111">Correlations between GS Age</text>
<text x="63.40" y="271.66" font-size="4.3" text-anchor="end" fill="#111">frontal.cortex</text>
<text transform="translate(75.92,431.20) rotate(-45)" font-size="4.3" text-anchor="end" fill="#111">frontal.cortex</text>
<text x="63.40" y="285.39" font-size="4.3" text-anchor="end" fill="#111">dorsolateral.prefrontal.cortex</text>
<text transform="translate(92.55,431.20) rotate(-45)" font-size="4.3" text-anchor="end" fill="#111">dorsolateral.prefrontal.cortex</text>
<text x="63.40" y="299.11" font-size="4.3" text-anchor="end" fill="#111">Ammon's.horn</text>
<text transform="translate(109.18,431.20) rotate(-45)" font-size="4.3" text-anchor="end" fill="#111">Ammon's.horn</text>
<text x="63.40" y="312.84" font-size="4.3" text-anchor="end" fill="#111">anterior.cingulate.cortex</text>
<text transform="translate(125.82,431.20) rotate(-45)" font-size="4.3" text-anchor="end" fill="#111">anterior.cingulate.cortex</text>
<text x="63.40" y="326.56" font-size="4.3" text-anchor="end" fill="#111">caudate.nucleus</text>
<text transform="translate(142.45,431.20) rotate(-45)" font-size="4.3" text-anchor="end" fill="#111">caudate.nucleus</text>
<text x="63.40" y="340.29" font-size="4.3" text-anchor="end" fill="#111">putamen</text>
<text transform="translate(159.08,431.20) rotate(-45)" font-size="4.3" text-anchor="end" fill="#111">putamen</text>
<text x="63.40" y="354.01" font-size="4.3" text-anchor="end" fill="#111">nucleus.accumbens</text>
<text transform="translate(175.72,431.20) rotate(-45)" font-size="4.3" text-anchor="end" fill="#111">nucleus.accumbens</text>
<text x="63.40" y="367.74" font-size="4.3" text-anchor="end" fill="#111">substantia.nigra</text>
<text transform="translate(192.35,431.20) rotate(-45)" font-size="4.3" text-anchor="end" fill="#111">substantia.nigra</text>
<text x="63.40" y="381.46" font-size="4.3" text-anchor="end" fill="#111">amygdala</text>
<text transform="translate(208.98,431.20) rotate(-45)" font-size="4.3" text-anchor="end" fill="#111">amygdala</text>
<text x="63.40" y="395.19" font-size="4.3" text-anchor="end" fill="#111">first.cervical.spinal.cord.segment</text>
<text transform="translate(225.62,431.20) rotate(-45)" font-size="4.3" text-anchor="end" fill="#111">first.cervical.spinal.cord.segment</text>
<text x="63.40" y="408.91" font-size="4.3" text-anchor="end" fill="#111">cerebellum</text>
<text transform="translate(242.25,431.20) rotate(-45)" font-size="4.3" text-anchor="end" fill="#111">cerebellum</text>
<text x="63.40" y="422.64" font-size="4.3" text-anchor="end" fill="#111">hypothalamus</text>
<text transform="translate(258.88,431.20) rotate(-45)" font-size="4.3" text-anchor="end" fill="#111">hypothalamus</text>
<defs><linearGradient id="hb" x1="0" y1="1" x2="0" y2="0"><stop offset="0" stop-color="#ffffff"/><stop offset="0.25" stop-color="#ffff00"/><stop offset="1" stop-color="#ff0000"/></linearGradient></defs>
<rect x="270.4" y="272.9" width="4.80" height="144.90" fill="url(#hb)" stroke="#555" stroke-width="0.4"/>
<line x1="275.20" y1="417.80" x2="276.80" y2="417.80" stroke="#333" stroke-width="0.4"/>
<text x="277.50" y="419.30" font-size="4.3" fill="#111">0</text>
<line x1="275.20" y1="388.82" x2="276.80" y2="388.82" stroke="#333" stroke-width="0.4"/>
<text x="277.50" y="390.32" font-size="4.3" fill="#111">0.2</text>
<line x1="275.20" y1="359.84" x2="276.80" y2="359.84" stroke="#333" stroke-width="0.4"/>
<text x="277.50" y="361.34" font-size="4.3" fill="#111">0.4</text>
<line x1="275.20" y1="330.86" x2="276.80" y2="330.86" stroke="#333" stroke-width="0.4"/>
<text x="277.50" y="332.36" font-size="4.3" fill="#111">0.6</text>
<line x1="275.20" y1="301.88" x2="276.80" y2="301.88" stroke="#333" stroke-width="0.4"/>
<text x="277.50" y="303.38" font-size="4.3" fill="#111">0.8</text>
<line x1="275.20" y1="272.90" x2="276.80" y2="272.90" stroke="#333" stroke-width="0.4"/>
<text x="277.50" y="274.40" font-size="4.3" fill="#111">1</text>
<g>
<rect x="44.50" y="494.12" width="16.0" height="70.61" fill="#ff0000"/>
<rect x="44.50" y="564.73" width="16.0" height="45.47" fill="#0000ff"/>
<rect x="62.40" y="530.57" width="16.0" height="62.10" fill="#ff0000"/>
<rect x="62.40" y="592.67" width="16.0" height="17.53" fill="#0000ff"/>
<rect x="80.30" y="502.89" width="16.0" height="86.11" fill="#ff0000"/>
<rect x="80.30" y="588.99" width="16.0" height="21.21" fill="#0000ff"/>
<rect x="98.20" y="539.33" width="16.0" height="55.37" fill="#ff0000"/>
<rect x="98.20" y="594.71" width="16.0" height="15.49" fill="#0000ff"/>
<rect x="116.10" y="523.33" width="16.0" height="67.56" fill="#ff0000"/>
<rect x="116.10" y="590.90" width="16.0" height="19.30" fill="#0000ff"/>
<rect x="134.00" y="508.60" width="16.0" height="94.62" fill="#ff0000"/>
<rect x="134.00" y="603.22" width="16.0" height="6.99" fill="#0000ff"/>
<rect x="151.90" y="572.48" width="16.0" height="25.02" fill="#ff0000"/>
<rect x="151.90" y="597.50" width="16.0" height="12.70" fill="#0000ff"/>
<rect x="169.80" y="579.72" width="16.0" height="28.45" fill="#ff0000"/>
<rect x="169.80" y="608.17" width="16.0" height="2.03" fill="#0000ff"/>
<rect x="187.70" y="575.28" width="16.0" height="34.16" fill="#ff0000"/>
<rect x="187.70" y="609.44" width="16.0" height="0.76" fill="#0000ff"/>
<rect x="205.60" y="586.96" width="16.0" height="22.73" fill="#ff0000"/>
<rect x="205.60" y="609.69" width="16.0" height="0.51" fill="#0000ff"/>
<rect x="223.50" y="489.17" width="16.0" height="92.58" fill="#ff0000"/>
<rect x="223.50" y="581.75" width="16.0" height="28.45" fill="#0000ff"/>
<rect x="241.40" y="571.97" width="16.0" height="18.03" fill="#ff0000"/>
<rect x="241.40" y="590.01" width="16.0" height="20.19" fill="#0000ff"/>
</g>
<line x1="41.40" y1="482.00" x2="41.40" y2="616.60" stroke="#1a1a1a" stroke-width="0.8"/>
<line x1="41.00" y1="616.20" x2="260.00" y2="616.20" stroke="#1a1a1a" stroke-width="0.8"/>
<line x1="39.00" y1="610.40" x2="41.40" y2="610.40" stroke="#1a1a1a" stroke-width="0.5"/>
<text x="38.60" y="612.40" font-size="5.7" text-anchor="end" fill="#1a1a1a">0</text>
<line x1="39.00" y1="585.00" x2="41.40" y2="585.00" stroke="#1a1a1a" stroke-width="0.5"/>
<text x="38.60" y="587.00" font-size="5.7" text-anchor="end" fill="#1a1a1a">1000</text>
<line x1="39.00" y1="559.60" x2="41.40" y2="559.60" stroke="#1a1a1a" stroke-width="0.5"/>
<text x="38.60" y="561.60" font-size="5.7" text-anchor="end" fill="#1a1a1a">2000</text>
<line x1="39.00" y1="534.20" x2="41.40" y2="534.20" stroke="#1a1a1a" stroke-width="0.5"/>
<text x="38.60" y="536.20" font-size="5.7" text-anchor="end" fill="#1a1a1a">3000</text>
<line x1="39.00" y1="508.80" x2="41.40" y2="508.80" stroke="#1a1a1a" stroke-width="0.5"/>
<text x="38.60" y="510.80" font-size="5.7" text-anchor="end" fill="#1a1a1a">4000</text>
<line x1="39.00" y1="483.40" x2="41.40" y2="483.40" stroke="#1a1a1a" stroke-width="0.5"/>
<text x="38.60" y="485.40" font-size="5.7" text-anchor="end" fill="#1a1a1a">5000</text>
<line x1="52.50" y1="616.20" x2="52.50" y2="618.80" stroke="#1a1a1a" stroke-width="0.5"/>
<text transform="translate(55.40,622.20) rotate(-45)" font-size="5.75" text-anchor="end" fill="#1a1a1a">frontal cortex</text>
<line x1="70.40" y1="616.20" x2="70.40" y2="618.80" stroke="#1a1a1a" stroke-width="0.5"/>
<text transform="translate(73.30,622.20) rotate(-45)" font-size="5.75" text-anchor="end" fill="#1a1a1a">dorsolateral prefrontal cortex</text>
<line x1="88.30" y1="616.20" x2="88.30" y2="618.80" stroke="#1a1a1a" stroke-width="0.5"/>
<text transform="translate(91.20,622.20) rotate(-45)" font-size="5.75" text-anchor="end" fill="#1a1a1a">Ammon's horn</text>
<line x1="106.20" y1="616.20" x2="106.20" y2="618.80" stroke="#1a1a1a" stroke-width="0.5"/>
<text transform="translate(109.10,622.20) rotate(-45)" font-size="5.75" text-anchor="end" fill="#1a1a1a">anterior cingulate cortex</text>
<line x1="124.10" y1="616.20" x2="124.10" y2="618.80" stroke="#1a1a1a" stroke-width="0.5"/>
<text transform="translate(127.00,622.20) rotate(-45)" font-size="5.75" text-anchor="end" fill="#1a1a1a">caudate nucleus</text>
<line x1="142.00" y1="616.20" x2="142.00" y2="618.80" stroke="#1a1a1a" stroke-width="0.5"/>
<text transform="translate(144.90,622.20) rotate(-45)" font-size="5.75" text-anchor="end" fill="#1a1a1a">putamen</text>
<line x1="159.90" y1="616.20" x2="159.90" y2="618.80" stroke="#1a1a1a" stroke-width="0.5"/>
<text transform="translate(162.80,622.20) rotate(-45)" font-size="5.75" text-anchor="end" fill="#1a1a1a">nucleus accumbens</text>
<line x1="177.80" y1="616.20" x2="177.80" y2="618.80" stroke="#1a1a1a" stroke-width="0.5"/>
<text transform="translate(180.70,622.20) rotate(-45)" font-size="5.75" text-anchor="end" fill="#1a1a1a">substantia nigra</text>
<line x1="195.70" y1="616.20" x2="195.70" y2="618.80" stroke="#1a1a1a" stroke-width="0.5"/>
<text transform="translate(198.60,622.20) rotate(-45)" font-size="5.75" text-anchor="end" fill="#1a1a1a">amygdala</text>
<line x1="213.60" y1="616.20" x2="213.60" y2="618.80" stroke="#1a1a1a" stroke-width="0.5"/>
<text transform="translate(216.50,622.20) rotate(-45)" font-size="5.75" text-anchor="end" fill="#1a1a1a">first cervical spinal cord segment</text>
<line x1="231.50" y1="616.20" x2="231.50" y2="618.80" stroke="#1a1a1a" stroke-width="0.5"/>
<text transform="translate(234.40,622.20) rotate(-45)" font-size="5.75" text-anchor="end" fill="#1a1a1a">cerebellum</text>
<line x1="249.40" y1="616.20" x2="249.40" y2="618.80" stroke="#1a1a1a" stroke-width="0.5"/>
<text transform="translate(252.30,622.20) rotate(-45)" font-size="5.75" text-anchor="end" fill="#1a1a1a">hypothalamus</text>
<text transform="translate(22.80,549.50) rotate(-90)" font-size="6.5" text-anchor="middle" fill="#111">number of significant genes for age</text>
<text x="269.90" y="545.00" font-size="6.3" fill="#111">direction</text>
<rect x="270.3" y="547.2" width="5.6" height="5.8" fill="#ff0000"/>
<rect x="270.3" y="554.2" width="5.6" height="5.8" fill="#0000ff"/>
<text x="277.30" y="551.90" font-size="5.0" fill="#111">Negative</text>
<text x="277.30" y="558.80" font-size="5.0" fill="#111">Positive</text>
<circle cx="381.3" cy="83.9" r="1.8" fill="#1a8f2a"/>
<circle cx="381.3" cy="107.9" r="3.0" fill="#ee3535"/>
<circle cx="381.3" cy="124.1" r="2.0" fill="#3a5fe0"/>
<circle cx="394.2" cy="69.5" r="1.7" fill="none" stroke="#146f20" stroke-width="0.45" stroke-opacity="0.85"/>
<circle cx="394.2" cy="95.2" r="3.2" fill="#ee3535"/>
<circle cx="394.2" cy="105.2" r="2.0" fill="#3a5fe0"/>
<circle cx="407.0" cy="70.9" r="1.8" fill="none" stroke="#146f20" stroke-width="0.45" stroke-opacity="0.85"/>
<circle cx="407.0" cy="101.2" r="4.1" fill="#ee3535"/>
<circle cx="407.0" cy="111.9" r="2.0" fill="#3a5fe0"/>
<circle cx="419.9" cy="68.1" r="2.0" fill="none" stroke="#146f20" stroke-width="0.45" stroke-opacity="0.85"/>
<circle cx="419.9" cy="83.6" r="3.9" fill="none" stroke="#b92929" stroke-width="0.45" stroke-opacity="0.85"/>
<circle cx="419.9" cy="112.4" r="2.0" fill="#3a5fe0"/>
<circle cx="432.7" cy="91.3" r="2.0" fill="#1a8f2a"/>
<circle cx="432.7" cy="107.9" r="3.2" fill="#ee3535"/>
<circle cx="432.7" cy="119.0" r="1.5" fill="#3a5fe0"/>
<circle cx="445.6" cy="89.2" r="2.0" fill="#1a8f2a"/>
<circle cx="445.6" cy="98.2" r="1.5" fill="#3a5fe0"/>
<circle cx="445.6" cy="104.8" r="3.0" fill="#ee3535"/>
<circle cx="458.5" cy="72.5" r="3.9" fill="none" stroke="#b92929" stroke-width="0.45" stroke-opacity="0.85"/>
<circle cx="458.5" cy="83.2" r="1.5" fill="none" stroke="#2d4aae" stroke-width="0.45" stroke-opacity="0.85"/>
<circle cx="458.5" cy="87.2" r="1.7" fill="#1a8f2a"/>
<circle cx="471.3" cy="58.7" r="2.4" fill="none" stroke="#b92929" stroke-width="0.45" stroke-opacity="0.85"/>
<circle cx="471.3" cy="66.4" r="1.2" fill="none" stroke="#2d4aae" stroke-width="0.45" stroke-opacity="0.85"/>
<circle cx="471.3" cy="85.2" r="2.0" fill="none" stroke="#146f20" stroke-width="0.45" stroke-opacity="0.85"/>
<circle cx="484.2" cy="30.0" r="1.8" fill="none" stroke="#146f20" stroke-width="0.45" stroke-opacity="0.85"/>
<circle cx="484.2" cy="53.8" r="3.9" fill="none" stroke="#b92929" stroke-width="0.45" stroke-opacity="0.85"/>
<circle cx="484.2" cy="96.8" r="1.8" fill="none" stroke="#2d4aae" stroke-width="0.45" stroke-opacity="0.85"/>
<circle cx="497.0" cy="66.2" r="2.0" fill="none" stroke="#b92929" stroke-width="0.45" stroke-opacity="0.85"/>
<circle cx="497.0" cy="68.8" r="0.7" fill="none" stroke="#2d4aae" stroke-width="0.45" stroke-opacity="0.85"/>
<circle cx="497.0" cy="86.4" r="1.9" fill="none" stroke="#146f20" stroke-width="0.45" stroke-opacity="0.85"/>
<circle cx="509.9" cy="56.0" r="1.7" fill="none" stroke="#146f20" stroke-width="0.45" stroke-opacity="0.85"/>
<circle cx="509.9" cy="61.4" r="4.0" fill="none" stroke="#b92929" stroke-width="0.45" stroke-opacity="0.85"/>
<circle cx="509.9" cy="85.9" r="1.9" fill="#3a5fe0"/>
<circle cx="522.8" cy="31.8" r="2.0" fill="none" stroke="#146f20" stroke-width="0.45" stroke-opacity="0.85"/>
<circle cx="522.8" cy="38.2" r="3.7" fill="none" stroke="#b92929" stroke-width="0.45" stroke-opacity="0.85"/>
<circle cx="522.8" cy="103.4" r="1.1" fill="#3a5fe0"/>
<line x1="374.00" y1="25.00" x2="374.00" y2="129.80" stroke="#1a1a1a" stroke-width="0.85"/>
<line x1="373.60" y1="129.40" x2="530.50" y2="129.40" stroke="#1a1a1a" stroke-width="0.85"/>
<line x1="371.60" y1="35.70" x2="374.00" y2="35.70" stroke="#1a1a1a" stroke-width="0.5"/>
<text x="370.60" y="38.00" font-size="6.5" text-anchor="end" fill="#1a1a1a">0.2</text>
<line x1="371.60" y1="59.50" x2="374.00" y2="59.50" stroke="#1a1a1a" stroke-width="0.5"/>
<text x="370.60" y="61.80" font-size="6.5" text-anchor="end" fill="#1a1a1a">0.0</text>
<line x1="371.60" y1="83.40" x2="374.00" y2="83.40" stroke="#1a1a1a" stroke-width="0.5"/>
<text x="370.60" y="85.70" font-size="6.5" text-anchor="end" fill="#1a1a1a">-0.2</text>
<line x1="371.60" y1="107.20" x2="374.00" y2="107.20" stroke="#1a1a1a" stroke-width="0.5"/>
<text x="370.60" y="109.50" font-size="6.5" text-anchor="end" fill="#1a1a1a">-0.4</text>
<line x1="381.30" y1="129.40" x2="381.30" y2="131.80" stroke="#1a1a1a" stroke-width="0.5"/>
<text transform="translate(385.10,136.60) rotate(-45)" font-size="6.5" text-anchor="end" fill="#1a1a1a">frontal cortex</text>
<line x1="394.16" y1="129.40" x2="394.16" y2="131.80" stroke="#1a1a1a" stroke-width="0.5"/>
<text transform="translate(397.96,136.60) rotate(-45)" font-size="6.5" text-anchor="end" fill="#1a1a1a">dorsolateral prefrontal cortex</text>
<line x1="407.02" y1="129.40" x2="407.02" y2="131.80" stroke="#1a1a1a" stroke-width="0.5"/>
<text transform="translate(410.82,136.60) rotate(-45)" font-size="6.5" text-anchor="end" fill="#1a1a1a">Ammon's horn</text>
<line x1="419.88" y1="129.40" x2="419.88" y2="131.80" stroke="#1a1a1a" stroke-width="0.5"/>
<text transform="translate(423.68,136.60) rotate(-45)" font-size="6.5" text-anchor="end" fill="#1a1a1a">anterior cingulate cortex</text>
<line x1="432.74" y1="129.40" x2="432.74" y2="131.80" stroke="#1a1a1a" stroke-width="0.5"/>
<text transform="translate(436.54,136.60) rotate(-45)" font-size="6.5" text-anchor="end" fill="#1a1a1a">caudate nucleus</text>
<line x1="445.60" y1="129.40" x2="445.60" y2="131.80" stroke="#1a1a1a" stroke-width="0.5"/>
<text transform="translate(449.40,136.60) rotate(-45)" font-size="6.5" text-anchor="end" fill="#1a1a1a">putamen</text>
<line x1="458.46" y1="129.40" x2="458.46" y2="131.80" stroke="#1a1a1a" stroke-width="0.5"/>
<text transform="translate(462.26,136.60) rotate(-45)" font-size="6.5" text-anchor="end" fill="#1a1a1a">nucleus accumbens</text>
<line x1="471.32" y1="129.40" x2="471.32" y2="131.80" stroke="#1a1a1a" stroke-width="0.5"/>
<text transform="translate(475.12,136.60) rotate(-45)" font-size="6.5" text-anchor="end" fill="#1a1a1a">substantia nigra</text>
<line x1="484.18" y1="129.40" x2="484.18" y2="131.80" stroke="#1a1a1a" stroke-width="0.5"/>
<text transform="translate(487.98,136.60) rotate(-45)" font-size="6.5" text-anchor="end" fill="#1a1a1a">amygdala</text>
<line x1="497.04" y1="129.40" x2="497.04" y2="131.80" stroke="#1a1a1a" stroke-width="0.5"/>
<text transform="translate(500.84,136.60) rotate(-45)" font-size="6.5" text-anchor="end" fill="#1a1a1a">first cervical spinal cord segment</text>
<line x1="509.90" y1="129.40" x2="509.90" y2="131.80" stroke="#1a1a1a" stroke-width="0.5"/>
<text transform="translate(513.70,136.60) rotate(-45)" font-size="6.5" text-anchor="end" fill="#1a1a1a">cerebellum</text>
<line x1="522.76" y1="129.40" x2="522.76" y2="131.80" stroke="#1a1a1a" stroke-width="0.5"/>
<text transform="translate(526.56,136.60) rotate(-45)" font-size="6.5" text-anchor="end" fill="#1a1a1a">hypothalamus</text>
<text transform="translate(354.80,77.50) rotate(-90)" font-size="7.0" text-anchor="middle" fill="#111">Gene Significance for Age</text>
<text x="452.25" y="211.00" font-size="7.0" text-anchor="middle" fill="#111">region</text>
<text x="541.90" y="43.50" font-size="7.0" fill="#111">meanFPKM</text>
<circle cx="546.2" cy="49.5" r="2.4" fill="#000"/>
<text x="552.60" y="51.50" font-size="5.6" fill="#111">10</text>
<circle cx="546.2" cy="57.4" r="3.1" fill="#000"/>
<text x="552.60" y="59.40" font-size="5.6" fill="#111">20</text>
<circle cx="546.2" cy="66.6" r="3.9" fill="#000"/>
<text x="552.60" y="68.60" font-size="5.6" fill="#111">30</text>
<text x="541.90" y="91.80" font-size="7.0" fill="#111">Gene</text>
<circle cx="544.0" cy="98.2" r="1.2" fill="#ee3535"/>
<text x="550.00" y="100.20" font-size="5.6" fill="#111">GRIA1</text>
<circle cx="544.0" cy="105.0" r="1.2" fill="#1a8f2a"/>
<text x="550.00" y="107.00" font-size="5.6" fill="#111">GRIK4</text>
<circle cx="544.0" cy="112.0" r="1.2" fill="#3a5fe0"/>
<text x="550.00" y="114.00" font-size="5.6" fill="#111">GRIN2A</text>
<circle cx="380.8" cy="275.0" r="3.7" fill="none" stroke="#bb4242" stroke-width="0.45" stroke-opacity="0.85"/>
<circle cx="380.8" cy="316.5" r="1.8" fill="#5578ee"/>
<circle cx="380.8" cy="344.0" r="2.0" fill="#22a535"/>
<circle cx="393.7" cy="304.1" r="3.7" fill="#f05555"/>
<circle cx="393.7" cy="309.6" r="2.0" fill="#22a535"/>
<circle cx="393.7" cy="302.0" r="2.2" fill="#5578ee"/>
<circle cx="406.5" cy="320.0" r="2.3" fill="#22a535"/>
<circle cx="406.5" cy="318.7" r="1.9" fill="#5578ee"/>
<circle cx="406.5" cy="340.4" r="3.4" fill="#f05555"/>
<circle cx="419.4" cy="265.7" r="4.0" fill="none" stroke="#bb4242" stroke-width="0.45" stroke-opacity="0.85"/>
<circle cx="419.4" cy="298.8" r="2.3" fill="#22a535"/>
<circle cx="419.4" cy="301.5" r="1.9" fill="#5578ee"/>
<circle cx="432.2" cy="287.6" r="3.9" fill="none" stroke="#bb4242" stroke-width="0.45" stroke-opacity="0.85"/>
<circle cx="432.2" cy="287.6" r="2.3" fill="none" stroke="#1a8029" stroke-width="0.45" stroke-opacity="0.85"/>
<circle cx="432.2" cy="332.7" r="1.8" fill="#5578ee"/>
<circle cx="445.1" cy="287.7" r="3.7" fill="none" stroke="#bb4242" stroke-width="0.45" stroke-opacity="0.85"/>
<circle cx="445.1" cy="295.1" r="2.0" fill="#22a535"/>
<circle cx="445.1" cy="317.1" r="1.6" fill="#5578ee"/>
<circle cx="458.0" cy="253.6" r="3.4" fill="none" stroke="#1a8029" stroke-width="0.45" stroke-opacity="0.85"/>
<circle cx="458.0" cy="262.4" r="4.4" fill="none" stroke="#bb4242" stroke-width="0.45" stroke-opacity="0.85"/>
<circle cx="458.0" cy="273.4" r="2.0" fill="none" stroke="#425db9" stroke-width="0.45" stroke-opacity="0.85"/>
<circle cx="470.8" cy="257.7" r="1.5" fill="none" stroke="#1a8029" stroke-width="0.45" stroke-opacity="0.85"/>
<circle cx="470.8" cy="264.0" r="3.0" fill="none" stroke="#bb4242" stroke-width="0.45" stroke-opacity="0.85"/>
<circle cx="470.8" cy="281.2" r="1.4" fill="none" stroke="#425db9" stroke-width="0.45" stroke-opacity="0.85"/>
<circle cx="483.7" cy="248.9" r="2.0" fill="none" stroke="#1a8029" stroke-width="0.45" stroke-opacity="0.85"/>
<circle cx="483.7" cy="269.4" r="3.8" fill="none" stroke="#bb4242" stroke-width="0.45" stroke-opacity="0.85"/>
<circle cx="483.7" cy="280.0" r="1.6" fill="none" stroke="#425db9" stroke-width="0.45" stroke-opacity="0.85"/>
<circle cx="496.5" cy="268.6" r="0.9" fill="none" stroke="#425db9" stroke-width="0.45" stroke-opacity="0.85"/>
<circle cx="496.5" cy="270.0" r="0.8" fill="none" stroke="#1a8029" stroke-width="0.45" stroke-opacity="0.85"/>
<circle cx="496.5" cy="273.4" r="2.3" fill="none" stroke="#bb4242" stroke-width="0.45" stroke-opacity="0.85"/>
<circle cx="509.4" cy="253.0" r="0.8" fill="none" stroke="#1a8029" stroke-width="0.45" stroke-opacity="0.85"/>
<circle cx="509.4" cy="276.5" r="2.0" fill="none" stroke="#425db9" stroke-width="0.45" stroke-opacity="0.85"/>
<circle cx="509.4" cy="290.0" r="4.0" fill="#f05555"/>
<circle cx="522.3" cy="260.7" r="3.9" fill="none" stroke="#bb4242" stroke-width="0.45" stroke-opacity="0.85"/>
<circle cx="522.3" cy="266.4" r="2.1" fill="none" stroke="#425db9" stroke-width="0.45" stroke-opacity="0.85"/>
<circle cx="522.3" cy="283.9" r="2.0" fill="none" stroke="#1a8029" stroke-width="0.45" stroke-opacity="0.85"/>
<line x1="374.00" y1="244.30" x2="374.00" y2="349.00" stroke="#1a1a1a" stroke-width="0.85"/>
<line x1="373.60" y1="348.60" x2="530.00" y2="348.60" stroke="#1a1a1a" stroke-width="0.85"/>
<line x1="371.60" y1="259.30" x2="374.00" y2="259.30" stroke="#1a1a1a" stroke-width="0.5"/>
<text x="370.60" y="261.60" font-size="6.5" text-anchor="end" fill="#1a1a1a">0.0</text>
<line x1="371.60" y1="289.20" x2="374.00" y2="289.20" stroke="#1a1a1a" stroke-width="0.5"/>
<text x="370.60" y="291.50" font-size="6.5" text-anchor="end" fill="#1a1a1a">-0.2</text>
<line x1="371.60" y1="319.10" x2="374.00" y2="319.10" stroke="#1a1a1a" stroke-width="0.5"/>
<text x="370.60" y="321.40" font-size="6.5" text-anchor="end" fill="#1a1a1a">-0.4</text>
<line x1="380.80" y1="348.60" x2="380.80" y2="351.00" stroke="#1a1a1a" stroke-width="0.5"/>
<text transform="translate(384.60,355.80) rotate(-45)" font-size="6.5" text-anchor="end" fill="#1a1a1a">frontal cortex</text>
<line x1="393.66" y1="348.60" x2="393.66" y2="351.00" stroke="#1a1a1a" stroke-width="0.5"/>
<text transform="translate(397.46,355.80) rotate(-45)" font-size="6.5" text-anchor="end" fill="#1a1a1a">dorsolateral prefrontal cortex</text>
<line x1="406.52" y1="348.60" x2="406.52" y2="351.00" stroke="#1a1a1a" stroke-width="0.5"/>
<text transform="translate(410.32,355.80) rotate(-45)" font-size="6.5" text-anchor="end" fill="#1a1a1a">Ammon's horn</text>
<line x1="419.38" y1="348.60" x2="419.38" y2="351.00" stroke="#1a1a1a" stroke-width="0.5"/>
<text transform="translate(423.18,355.80) rotate(-45)" font-size="6.5" text-anchor="end" fill="#1a1a1a">anterior cingulate cortex</text>
<line x1="432.24" y1="348.60" x2="432.24" y2="351.00" stroke="#1a1a1a" stroke-width="0.5"/>
<text transform="translate(436.04,355.80) rotate(-45)" font-size="6.5" text-anchor="end" fill="#1a1a1a">caudate nucleus</text>
<line x1="445.10" y1="348.60" x2="445.10" y2="351.00" stroke="#1a1a1a" stroke-width="0.5"/>
<text transform="translate(448.90,355.80) rotate(-45)" font-size="6.5" text-anchor="end" fill="#1a1a1a">putamen</text>
<line x1="457.96" y1="348.60" x2="457.96" y2="351.00" stroke="#1a1a1a" stroke-width="0.5"/>
<text transform="translate(461.76,355.80) rotate(-45)" font-size="6.5" text-anchor="end" fill="#1a1a1a">nucleus accumbens</text>
<line x1="470.82" y1="348.60" x2="470.82" y2="351.00" stroke="#1a1a1a" stroke-width="0.5"/>
<text transform="translate(474.62,355.80) rotate(-45)" font-size="6.5" text-anchor="end" fill="#1a1a1a">substantia nigra</text>
<line x1="483.68" y1="348.60" x2="483.68" y2="351.00" stroke="#1a1a1a" stroke-width="0.5"/>
<text transform="translate(487.48,355.80) rotate(-45)" font-size="6.5" text-anchor="end" fill="#1a1a1a">amygdala</text>
<line x1="496.54" y1="348.60" x2="496.54" y2="351.00" stroke="#1a1a1a" stroke-width="0.5"/>
<text transform="translate(500.34,355.80) rotate(-45)" font-size="6.5" text-anchor="end" fill="#1a1a1a">first cervical spinal cord segment</text>
<line x1="509.40" y1="348.60" x2="509.40" y2="351.00" stroke="#1a1a1a" stroke-width="0.5"/>
<text transform="translate(513.20,355.80) rotate(-45)" font-size="6.5" text-anchor="end" fill="#1a1a1a">cerebellum</text>
<line x1="522.26" y1="348.60" x2="522.26" y2="351.00" stroke="#1a1a1a" stroke-width="0.5"/>
<text transform="translate(526.06,355.80) rotate(-45)" font-size="6.5" text-anchor="end" fill="#1a1a1a">hypothalamus</text>
<text transform="translate(354.40,297.00) rotate(-90)" font-size="7.0" text-anchor="middle" fill="#111">Gene Significance for Age</text>
<text x="452.00" y="430.50" font-size="7.0" text-anchor="middle" fill="#111">region</text>
<text x="541.90" y="268.00" font-size="7.0" fill="#111">meanFPKM</text>
<circle cx="546.2" cy="273.3" r="2.7" fill="#000"/>
<text x="551.40" y="275.30" font-size="5.6" fill="#111">50</text>
<circle cx="546.2" cy="282.0" r="3.6" fill="#000"/>
<text x="551.40" y="284.00" font-size="5.6" fill="#111">100</text>
<text x="541.90" y="306.40" font-size="7.0" fill="#111">Gene</text>
<circle cx="544.0" cy="311.2" r="1.2" fill="#f05555"/>
<text x="550.00" y="313.20" font-size="5.6" fill="#111">GABBR1</text>
<circle cx="544.0" cy="319.1" r="1.2" fill="#22a535"/>
<text x="550.00" y="321.10" font-size="5.6" fill="#111">GABRA5</text>
<circle cx="544.0" cy="326.9" r="1.2" fill="#5578ee"/>
<text x="550.00" y="328.90" font-size="5.6" fill="#111">GABRB3</text>
<circle cx="384.3" cy="514.5" r="1.2" fill="none" stroke="#247835" stroke-width="0.45" stroke-opacity="0.85"/>
<circle cx="384.3" cy="535.9" r="0.9" fill="#4d7fd0"/>
<circle cx="384.3" cy="545.8" r="1.2" fill="#e04555"/>
<circle cx="396.9" cy="511.3" r="1.3" fill="none" stroke="#247835" stroke-width="0.45" stroke-opacity="0.85"/>
<circle cx="396.9" cy="521.6" r="1.2" fill="none" stroke="#3c63a2" stroke-width="0.45" stroke-opacity="0.85"/>
<circle cx="396.9" cy="540.4" r="1.4" fill="#e04555"/>
<circle cx="409.4" cy="513.0" r="1.3" fill="none" stroke="#247835" stroke-width="0.45" stroke-opacity="0.85"/>
<circle cx="409.4" cy="522.6" r="1.3" fill="none" stroke="#ae3542" stroke-width="0.45" stroke-opacity="0.85"/>
<circle cx="409.4" cy="535.9" r="1.4" fill="none" stroke="#3c63a2" stroke-width="0.45" stroke-opacity="0.85"/>
<circle cx="422.0" cy="504.0" r="1.4" fill="none" stroke="#247835" stroke-width="0.45" stroke-opacity="0.85"/>
<circle cx="422.0" cy="511.0" r="1.3" fill="none" stroke="#3c63a2" stroke-width="0.45" stroke-opacity="0.85"/>
<circle cx="422.0" cy="516.2" r="1.6" fill="none" stroke="#ae3542" stroke-width="0.45" stroke-opacity="0.85"/>
<circle cx="434.5" cy="517.6" r="1.7" fill="none" stroke="#3c63a2" stroke-width="0.45" stroke-opacity="0.85"/>
<circle cx="434.5" cy="519.4" r="3.0" fill="none" stroke="#247835" stroke-width="0.45" stroke-opacity="0.85"/>
<circle cx="434.5" cy="569.4" r="2.4" fill="#e04555"/>
<circle cx="447.1" cy="521.6" r="1.3" fill="none" stroke="#3c63a2" stroke-width="0.45" stroke-opacity="0.85"/>
<circle cx="447.1" cy="531.3" r="3.0" fill="none" stroke="#247835" stroke-width="0.45" stroke-opacity="0.85"/>
<circle cx="447.1" cy="555.7" r="2.1" fill="#e04555"/>
<circle cx="459.7" cy="497.2" r="3.0" fill="none" stroke="#247835" stroke-width="0.45" stroke-opacity="0.85"/>
<circle cx="459.7" cy="515.2" r="1.5" fill="none" stroke="#3c63a2" stroke-width="0.45" stroke-opacity="0.85"/>
<circle cx="459.7" cy="527.0" r="2.7" fill="none" stroke="#ae3542" stroke-width="0.45" stroke-opacity="0.85"/>
<circle cx="472.2" cy="514.5" r="1.3" fill="none" stroke="#ae3542" stroke-width="0.45" stroke-opacity="0.85"/>
<circle cx="472.2" cy="519.2" r="2.0" fill="none" stroke="#247835" stroke-width="0.45" stroke-opacity="0.85"/>
<circle cx="472.2" cy="522.9" r="4.2" fill="none" stroke="#3c63a2" stroke-width="0.45" stroke-opacity="0.85"/>
<circle cx="484.8" cy="474.4" r="1.4" fill="none" stroke="#247835" stroke-width="0.45" stroke-opacity="0.85"/>
<circle cx="484.8" cy="507.5" r="1.2" fill="none" stroke="#3c63a2" stroke-width="0.45" stroke-opacity="0.85"/>
<circle cx="484.8" cy="520.7" r="1.7" fill="none" stroke="#ae3542" stroke-width="0.45" stroke-opacity="0.85"/>
<circle cx="497.3" cy="508.7" r="1.1" fill="none" stroke="#ae3542" stroke-width="0.45" stroke-opacity="0.85"/>
<circle cx="497.3" cy="515.2" r="1.1" fill="none" stroke="#247835" stroke-width="0.45" stroke-opacity="0.85"/>
<circle cx="497.3" cy="554.5" r="0.8" fill="#4d7fd0"/>
<circle cx="509.9" cy="481.0" r="0.9" fill="#2f9a45"/>
<circle cx="509.9" cy="495.4" r="0.9" fill="none" stroke="#3c63a2" stroke-width="0.45" stroke-opacity="0.85"/>
<circle cx="509.9" cy="510.3" r="1.2" fill="none" stroke="#ae3542" stroke-width="0.45" stroke-opacity="0.85"/>
<circle cx="522.5" cy="487.8" r="2.0" fill="none" stroke="#247835" stroke-width="0.45" stroke-opacity="0.85"/>
<circle cx="522.5" cy="502.8" r="3.2" fill="none" stroke="#3c63a2" stroke-width="0.45" stroke-opacity="0.85"/>
<circle cx="522.5" cy="528.6" r="1.2" fill="none" stroke="#ae3542" stroke-width="0.45" stroke-opacity="0.85"/>
<line x1="377.00" y1="470.00" x2="377.00" y2="574.70" stroke="#1a1a1a" stroke-width="0.85"/>
<line x1="376.60" y1="574.30" x2="530.00" y2="574.30" stroke="#1a1a1a" stroke-width="0.85"/>
<line x1="374.60" y1="477.50" x2="377.00" y2="477.50" stroke="#1a1a1a" stroke-width="0.5"/>
<text x="373.60" y="479.80" font-size="6.5" text-anchor="end" fill="#1a1a1a">0.25</text>
<line x1="374.60" y1="509.40" x2="377.00" y2="509.40" stroke="#1a1a1a" stroke-width="0.5"/>
<text x="373.60" y="511.70" font-size="6.5" text-anchor="end" fill="#1a1a1a">0.00</text>
<line x1="374.60" y1="541.20" x2="377.00" y2="541.20" stroke="#1a1a1a" stroke-width="0.5"/>
<text x="373.60" y="543.50" font-size="6.5" text-anchor="end" fill="#1a1a1a">-0.25</text>
<line x1="374.60" y1="573.10" x2="377.00" y2="573.10" stroke="#1a1a1a" stroke-width="0.5"/>
<text x="373.60" y="575.40" font-size="6.5" text-anchor="end" fill="#1a1a1a">-0.50</text>
<line x1="384.30" y1="574.30" x2="384.30" y2="576.70" stroke="#1a1a1a" stroke-width="0.5"/>
<text transform="translate(388.10,581.50) rotate(-45)" font-size="6.5" text-anchor="end" fill="#1a1a1a">frontal cortex</text>
<line x1="396.86" y1="574.30" x2="396.86" y2="576.70" stroke="#1a1a1a" stroke-width="0.5"/>
<text transform="translate(400.66,581.50) rotate(-45)" font-size="6.5" text-anchor="end" fill="#1a1a1a">dorsolateral prefrontal cortex</text>
<line x1="409.42" y1="574.30" x2="409.42" y2="576.70" stroke="#1a1a1a" stroke-width="0.5"/>
<text transform="translate(413.22,581.50) rotate(-45)" font-size="6.5" text-anchor="end" fill="#1a1a1a">Ammon's horn</text>
<line x1="421.98" y1="574.30" x2="421.98" y2="576.70" stroke="#1a1a1a" stroke-width="0.5"/>
<text transform="translate(425.78,581.50) rotate(-45)" font-size="6.5" text-anchor="end" fill="#1a1a1a">anterior cingulate cortex</text>
<line x1="434.54" y1="574.30" x2="434.54" y2="576.70" stroke="#1a1a1a" stroke-width="0.5"/>
<text transform="translate(438.34,581.50) rotate(-45)" font-size="6.5" text-anchor="end" fill="#1a1a1a">caudate nucleus</text>
<line x1="447.10" y1="574.30" x2="447.10" y2="576.70" stroke="#1a1a1a" stroke-width="0.5"/>
<text transform="translate(450.90,581.50) rotate(-45)" font-size="6.5" text-anchor="end" fill="#1a1a1a">putamen</text>
<line x1="459.66" y1="574.30" x2="459.66" y2="576.70" stroke="#1a1a1a" stroke-width="0.5"/>
<text transform="translate(463.46,581.50) rotate(-45)" font-size="6.5" text-anchor="end" fill="#1a1a1a">nucleus accumbens</text>
<line x1="472.22" y1="574.30" x2="472.22" y2="576.70" stroke="#1a1a1a" stroke-width="0.5"/>
<text transform="translate(476.02,581.50) rotate(-45)" font-size="6.5" text-anchor="end" fill="#1a1a1a">substantia nigra</text>
<line x1="484.78" y1="574.30" x2="484.78" y2="576.70" stroke="#1a1a1a" stroke-width="0.5"/>
<text transform="translate(488.58,581.50) rotate(-45)" font-size="6.5" text-anchor="end" fill="#1a1a1a">amygdala</text>
<line x1="497.34" y1="574.30" x2="497.34" y2="576.70" stroke="#1a1a1a" stroke-width="0.5"/>
<text transform="translate(501.14,581.50) rotate(-45)" font-size="6.5" text-anchor="end" fill="#1a1a1a">first cervical spinal cord segment</text>
<line x1="509.90" y1="574.30" x2="509.90" y2="576.70" stroke="#1a1a1a" stroke-width="0.5"/>
<text transform="translate(513.70,581.50) rotate(-45)" font-size="6.5" text-anchor="end" fill="#1a1a1a">cerebellum</text>
<line x1="522.46" y1="574.30" x2="522.46" y2="576.70" stroke="#1a1a1a" stroke-width="0.5"/>
<text transform="translate(526.26,581.50) rotate(-45)" font-size="6.5" text-anchor="end" fill="#1a1a1a">hypothalamus</text>
<text transform="translate(354.40,522.00) rotate(-90)" font-size="7.0" text-anchor="middle" fill="#111">Gene Significance for Age</text>
<text x="453.50" y="656.00" font-size="7.0" text-anchor="middle" fill="#111">region</text>
<text x="541.90" y="489.20" font-size="7.0" fill="#111">Gene</text>
<circle cx="544.0" cy="494.7" r="1.2" fill="#e04555"/>
<text x="550.00" y="496.70" font-size="5.6" fill="#111">DRD1</text>
<circle cx="544.0" cy="501.7" r="1.2" fill="#2f9a45"/>
<text x="550.00" y="503.70" font-size="5.6" fill="#111">DRD2</text>
<circle cx="544.0" cy="508.7" r="1.2" fill="#4d7fd0"/>
<text x="550.00" y="510.70" font-size="5.6" fill="#111">TH</text>
<text x="541.90" y="533.40" font-size="7.0" fill="#111">meanFPKM</text>
<circle cx="546.2" cy="538.6" r="2.4" fill="#000"/>
<text x="551.80" y="540.60" font-size="5.6" fill="#111">25</text>
<circle cx="546.2" cy="546.5" r="3.0" fill="#000"/>
<text x="551.80" y="548.50" font-size="5.6" fill="#111">50</text>
<circle cx="546.2" cy="555.2" r="3.9" fill="#000"/>
<text x="551.80" y="557.20" font-size="5.6" fill="#111">75</text>
</svg>
</body>
</html>
